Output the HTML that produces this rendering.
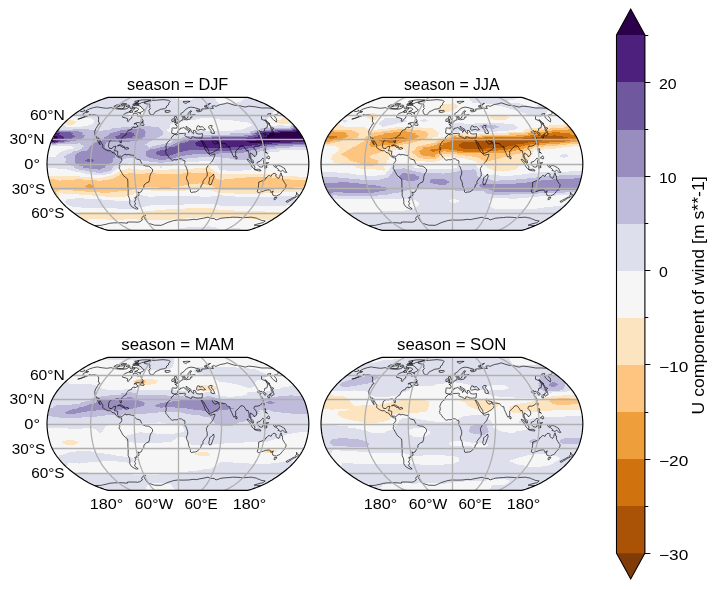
<!DOCTYPE html>
<html><head><meta charset="utf-8"><title>U wind seasons</title>
<style>html,body{margin:0;padding:0;background:#fff}body{width:719px;height:589px;overflow:hidden;position:relative}svg text{font-family:"Liberation Sans",sans-serif}</style></head>
<body>
<svg width="719" height="589" viewBox="0 0 719 589" style="display:block">
<rect width="719" height="589" fill="#fff"/>
<defs>
<clipPath id="cDJF"><path d="M247.61 230.4 L249.52 229.88 L251.69 229.2 L254.06 228.38 L256.6 227.44 L259.28 226.37 L262.03 225.2 L264.76 223.96 L267.34 222.68 L269.74 221.35 L272.02 219.99 L274.21 218.6 L276.35 217.18 L278.44 215.73 L280.49 214.25 L282.49 212.75 L284.44 211.23 L286.33 209.69 L288.16 208.13 L289.91 206.56 L291.56 204.97 L293.11 203.37 L294.56 201.76 L295.97 200.14 L297.32 198.51 L298.6 196.87 L299.77 195.23 L300.85 193.58 L301.85 191.94 L302.78 190.29 L303.62 188.64 L304.37 186.99 L305.03 185.34 L305.6 183.69 L306.08 182.04 L306.53 180.39 L306.96 178.74 L307.37 177.09 L307.72 175.44 L308.01 173.8 L308.26 172.15 L308.46 170.5 L308.61 168.85 L308.73 167.2 L308.81 165.55 L308.86 163.9 L308.81 162.25 L308.73 160.6 L308.61 158.95 L308.46 157.3 L308.26 155.65 L308.01 154 L307.72 152.36 L307.37 150.71 L306.96 149.06 L306.53 147.41 L306.08 145.76 L305.6 144.11 L305.03 142.46 L304.37 140.81 L303.62 139.16 L302.78 137.51 L301.85 135.86 L300.85 134.22 L299.77 132.57 L298.6 130.93 L297.32 129.29 L295.97 127.66 L294.56 126.04 L293.11 124.43 L291.56 122.83 L289.91 121.24 L288.16 119.67 L286.33 118.11 L284.44 116.57 L282.49 115.05 L280.49 113.55 L278.44 112.07 L276.35 110.62 L274.21 109.2 L272.02 107.81 L269.74 106.45 L267.34 105.12 L264.76 103.84 L262.03 102.6 L259.28 101.43 L256.6 100.36 L254.06 99.42 L251.69 98.6 L249.52 97.92 L247.61 97.4 L108.25 97.4 L106.34 97.92 L104.17 98.6 L101.8 99.42 L99.26 100.36 L96.58 101.43 L93.83 102.6 L91.1 103.84 L88.52 105.12 L86.12 106.45 L83.84 107.81 L81.65 109.2 L79.51 110.62 L77.42 112.07 L75.37 113.55 L73.37 115.05 L71.42 116.57 L69.53 118.11 L67.7 119.67 L65.95 121.24 L64.3 122.83 L62.75 124.43 L61.3 126.04 L59.89 127.66 L58.54 129.29 L57.26 130.93 L56.09 132.57 L55.01 134.22 L54.01 135.86 L53.08 137.51 L52.24 139.16 L51.49 140.81 L50.83 142.46 L50.26 144.11 L49.78 145.76 L49.33 147.41 L48.9 149.06 L48.49 150.71 L48.14 152.36 L47.85 154 L47.6 155.65 L47.4 157.3 L47.25 158.95 L47.13 160.6 L47.05 162.25 L47 163.9 L47.05 165.55 L47.13 167.2 L47.25 168.85 L47.4 170.5 L47.6 172.15 L47.85 173.8 L48.14 175.44 L48.49 177.09 L48.9 178.74 L49.33 180.39 L49.78 182.04 L50.26 183.69 L50.83 185.34 L51.49 186.99 L52.24 188.64 L53.08 190.29 L54.01 191.94 L55.01 193.58 L56.09 195.23 L57.26 196.87 L58.54 198.51 L59.89 200.14 L61.3 201.76 L62.75 203.37 L64.3 204.97 L65.95 206.56 L67.7 208.13 L69.53 209.69 L71.42 211.23 L73.37 212.75 L75.37 214.25 L77.42 215.73 L79.51 217.18 L81.65 218.6 L83.84 219.99 L86.12 221.35 L88.52 222.68 L91.1 223.96 L93.83 225.2 L96.58 226.37 L99.26 227.44 L101.8 228.38 L104.17 229.2 L106.34 229.88 L108.25 230.4Z"/></clipPath>
<clipPath id="cJJA"><path d="M521.61 230.4 L523.52 229.88 L525.69 229.2 L528.06 228.38 L530.6 227.44 L533.28 226.37 L536.03 225.2 L538.76 223.96 L541.34 222.68 L543.74 221.35 L546.02 219.99 L548.21 218.6 L550.35 217.18 L552.44 215.73 L554.49 214.25 L556.49 212.75 L558.44 211.23 L560.33 209.69 L562.16 208.13 L563.91 206.56 L565.56 204.97 L567.11 203.37 L568.56 201.76 L569.97 200.14 L571.32 198.51 L572.6 196.87 L573.77 195.23 L574.85 193.58 L575.85 191.94 L576.78 190.29 L577.62 188.64 L578.37 186.99 L579.03 185.34 L579.6 183.69 L580.08 182.04 L580.53 180.39 L580.96 178.74 L581.37 177.09 L581.72 175.44 L582.01 173.8 L582.26 172.15 L582.46 170.5 L582.61 168.85 L582.73 167.2 L582.81 165.55 L582.86 163.9 L582.81 162.25 L582.73 160.6 L582.61 158.95 L582.46 157.3 L582.26 155.65 L582.01 154 L581.72 152.36 L581.37 150.71 L580.96 149.06 L580.53 147.41 L580.08 145.76 L579.6 144.11 L579.03 142.46 L578.37 140.81 L577.62 139.16 L576.78 137.51 L575.85 135.86 L574.85 134.22 L573.77 132.57 L572.6 130.93 L571.32 129.29 L569.97 127.66 L568.56 126.04 L567.11 124.43 L565.56 122.83 L563.91 121.24 L562.16 119.67 L560.33 118.11 L558.44 116.57 L556.49 115.05 L554.49 113.55 L552.44 112.07 L550.35 110.62 L548.21 109.2 L546.02 107.81 L543.74 106.45 L541.34 105.12 L538.76 103.84 L536.03 102.6 L533.28 101.43 L530.6 100.36 L528.06 99.42 L525.69 98.6 L523.52 97.92 L521.61 97.4 L382.25 97.4 L380.34 97.92 L378.17 98.6 L375.8 99.42 L373.26 100.36 L370.58 101.43 L367.83 102.6 L365.1 103.84 L362.52 105.12 L360.12 106.45 L357.84 107.81 L355.65 109.2 L353.51 110.62 L351.42 112.07 L349.37 113.55 L347.37 115.05 L345.42 116.57 L343.53 118.11 L341.7 119.67 L339.95 121.24 L338.3 122.83 L336.75 124.43 L335.3 126.04 L333.89 127.66 L332.54 129.29 L331.26 130.93 L330.09 132.57 L329.01 134.22 L328.01 135.86 L327.08 137.51 L326.24 139.16 L325.49 140.81 L324.83 142.46 L324.26 144.11 L323.78 145.76 L323.33 147.41 L322.9 149.06 L322.49 150.71 L322.14 152.36 L321.85 154 L321.6 155.65 L321.4 157.3 L321.25 158.95 L321.13 160.6 L321.05 162.25 L321 163.9 L321.05 165.55 L321.13 167.2 L321.25 168.85 L321.4 170.5 L321.6 172.15 L321.85 173.8 L322.14 175.44 L322.49 177.09 L322.9 178.74 L323.33 180.39 L323.78 182.04 L324.26 183.69 L324.83 185.34 L325.49 186.99 L326.24 188.64 L327.08 190.29 L328.01 191.94 L329.01 193.58 L330.09 195.23 L331.26 196.87 L332.54 198.51 L333.89 200.14 L335.3 201.76 L336.75 203.37 L338.3 204.97 L339.95 206.56 L341.7 208.13 L343.53 209.69 L345.42 211.23 L347.37 212.75 L349.37 214.25 L351.42 215.73 L353.51 217.18 L355.65 218.6 L357.84 219.99 L360.12 221.35 L362.52 222.68 L365.1 223.96 L367.83 225.2 L370.58 226.37 L373.26 227.44 L375.8 228.38 L378.17 229.2 L380.34 229.88 L382.25 230.4Z"/></clipPath>
<clipPath id="cMAM"><path d="M247.61 490.4 L249.52 489.88 L251.69 489.2 L254.06 488.38 L256.6 487.44 L259.28 486.37 L262.03 485.2 L264.76 483.96 L267.34 482.68 L269.74 481.35 L272.02 479.99 L274.21 478.6 L276.35 477.18 L278.44 475.73 L280.49 474.25 L282.49 472.75 L284.44 471.23 L286.33 469.69 L288.16 468.13 L289.91 466.56 L291.56 464.97 L293.11 463.37 L294.56 461.76 L295.97 460.14 L297.32 458.51 L298.6 456.87 L299.77 455.23 L300.85 453.58 L301.85 451.94 L302.78 450.29 L303.62 448.64 L304.37 446.99 L305.03 445.34 L305.6 443.69 L306.08 442.04 L306.53 440.39 L306.96 438.74 L307.37 437.09 L307.72 435.44 L308.01 433.8 L308.26 432.15 L308.46 430.5 L308.61 428.85 L308.73 427.2 L308.81 425.55 L308.86 423.9 L308.81 422.25 L308.73 420.6 L308.61 418.95 L308.46 417.3 L308.26 415.65 L308.01 414 L307.72 412.36 L307.37 410.71 L306.96 409.06 L306.53 407.41 L306.08 405.76 L305.6 404.11 L305.03 402.46 L304.37 400.81 L303.62 399.16 L302.78 397.51 L301.85 395.86 L300.85 394.22 L299.77 392.57 L298.6 390.93 L297.32 389.29 L295.97 387.66 L294.56 386.04 L293.11 384.43 L291.56 382.83 L289.91 381.24 L288.16 379.67 L286.33 378.11 L284.44 376.57 L282.49 375.05 L280.49 373.55 L278.44 372.07 L276.35 370.62 L274.21 369.2 L272.02 367.81 L269.74 366.45 L267.34 365.12 L264.76 363.84 L262.03 362.6 L259.28 361.43 L256.6 360.36 L254.06 359.42 L251.69 358.6 L249.52 357.92 L247.61 357.4 L108.25 357.4 L106.34 357.92 L104.17 358.6 L101.8 359.42 L99.26 360.36 L96.58 361.43 L93.83 362.6 L91.1 363.84 L88.52 365.12 L86.12 366.45 L83.84 367.81 L81.65 369.2 L79.51 370.62 L77.42 372.07 L75.37 373.55 L73.37 375.05 L71.42 376.57 L69.53 378.11 L67.7 379.67 L65.95 381.24 L64.3 382.83 L62.75 384.43 L61.3 386.04 L59.89 387.66 L58.54 389.29 L57.26 390.93 L56.09 392.57 L55.01 394.22 L54.01 395.86 L53.08 397.51 L52.24 399.16 L51.49 400.81 L50.83 402.46 L50.26 404.11 L49.78 405.76 L49.33 407.41 L48.9 409.06 L48.49 410.71 L48.14 412.36 L47.85 414 L47.6 415.65 L47.4 417.3 L47.25 418.95 L47.13 420.6 L47.05 422.25 L47 423.9 L47.05 425.55 L47.13 427.2 L47.25 428.85 L47.4 430.5 L47.6 432.15 L47.85 433.8 L48.14 435.44 L48.49 437.09 L48.9 438.74 L49.33 440.39 L49.78 442.04 L50.26 443.69 L50.83 445.34 L51.49 446.99 L52.24 448.64 L53.08 450.29 L54.01 451.94 L55.01 453.58 L56.09 455.23 L57.26 456.87 L58.54 458.51 L59.89 460.14 L61.3 461.76 L62.75 463.37 L64.3 464.97 L65.95 466.56 L67.7 468.13 L69.53 469.69 L71.42 471.23 L73.37 472.75 L75.37 474.25 L77.42 475.73 L79.51 477.18 L81.65 478.6 L83.84 479.99 L86.12 481.35 L88.52 482.68 L91.1 483.96 L93.83 485.2 L96.58 486.37 L99.26 487.44 L101.8 488.38 L104.17 489.2 L106.34 489.88 L108.25 490.4Z"/></clipPath>
<clipPath id="cSON"><path d="M521.61 490.4 L523.52 489.88 L525.69 489.2 L528.06 488.38 L530.6 487.44 L533.28 486.37 L536.03 485.2 L538.76 483.96 L541.34 482.68 L543.74 481.35 L546.02 479.99 L548.21 478.6 L550.35 477.18 L552.44 475.73 L554.49 474.25 L556.49 472.75 L558.44 471.23 L560.33 469.69 L562.16 468.13 L563.91 466.56 L565.56 464.97 L567.11 463.37 L568.56 461.76 L569.97 460.14 L571.32 458.51 L572.6 456.87 L573.77 455.23 L574.85 453.58 L575.85 451.94 L576.78 450.29 L577.62 448.64 L578.37 446.99 L579.03 445.34 L579.6 443.69 L580.08 442.04 L580.53 440.39 L580.96 438.74 L581.37 437.09 L581.72 435.44 L582.01 433.8 L582.26 432.15 L582.46 430.5 L582.61 428.85 L582.73 427.2 L582.81 425.55 L582.86 423.9 L582.81 422.25 L582.73 420.6 L582.61 418.95 L582.46 417.3 L582.26 415.65 L582.01 414 L581.72 412.36 L581.37 410.71 L580.96 409.06 L580.53 407.41 L580.08 405.76 L579.6 404.11 L579.03 402.46 L578.37 400.81 L577.62 399.16 L576.78 397.51 L575.85 395.86 L574.85 394.22 L573.77 392.57 L572.6 390.93 L571.32 389.29 L569.97 387.66 L568.56 386.04 L567.11 384.43 L565.56 382.83 L563.91 381.24 L562.16 379.67 L560.33 378.11 L558.44 376.57 L556.49 375.05 L554.49 373.55 L552.44 372.07 L550.35 370.62 L548.21 369.2 L546.02 367.81 L543.74 366.45 L541.34 365.12 L538.76 363.84 L536.03 362.6 L533.28 361.43 L530.6 360.36 L528.06 359.42 L525.69 358.6 L523.52 357.92 L521.61 357.4 L382.25 357.4 L380.34 357.92 L378.17 358.6 L375.8 359.42 L373.26 360.36 L370.58 361.43 L367.83 362.6 L365.1 363.84 L362.52 365.12 L360.12 366.45 L357.84 367.81 L355.65 369.2 L353.51 370.62 L351.42 372.07 L349.37 373.55 L347.37 375.05 L345.42 376.57 L343.53 378.11 L341.7 379.67 L339.95 381.24 L338.3 382.83 L336.75 384.43 L335.3 386.04 L333.89 387.66 L332.54 389.29 L331.26 390.93 L330.09 392.57 L329.01 394.22 L328.01 395.86 L327.08 397.51 L326.24 399.16 L325.49 400.81 L324.83 402.46 L324.26 404.11 L323.78 405.76 L323.33 407.41 L322.9 409.06 L322.49 410.71 L322.14 412.36 L321.85 414 L321.6 415.65 L321.4 417.3 L321.25 418.95 L321.13 420.6 L321.05 422.25 L321 423.9 L321.05 425.55 L321.13 427.2 L321.25 428.85 L321.4 430.5 L321.6 432.15 L321.85 433.8 L322.14 435.44 L322.49 437.09 L322.9 438.74 L323.33 440.39 L323.78 442.04 L324.26 443.69 L324.83 445.34 L325.49 446.99 L326.24 448.64 L327.08 450.29 L328.01 451.94 L329.01 453.58 L330.09 455.23 L331.26 456.87 L332.54 458.51 L333.89 460.14 L335.3 461.76 L336.75 463.37 L338.3 464.97 L339.95 466.56 L341.7 468.13 L343.53 469.69 L345.42 471.23 L347.37 472.75 L349.37 474.25 L351.42 475.73 L353.51 477.18 L355.65 478.6 L357.84 479.99 L360.12 481.35 L362.52 482.68 L365.1 483.96 L367.83 485.2 L370.58 486.37 L373.26 487.44 L375.8 488.38 L378.17 489.2 L380.34 489.88 L382.25 490.4Z"/></clipPath>
</defs>
<g clip-path="url(#cDJF)">
<g fill="none" stroke-width="1" shape-rendering="crispEdges">
<path stroke="#ef9e3c" d="M88 184.5h3M86 185.5h8M85 186.5h9M87 187.5h6"/>
<path stroke="#fdc57f" d="M189 172.5h2M206 172.5h5M128 173.5h7M145 173.5h11M183 173.5h29M120 174.5h94M119 175.5h95M117 176.5h98M115 177.5h100M246 177.5h26M113 178.5h103M234 178.5h47M50 179.5h5M75 179.5h8M109 179.5h110M224 179.5h66M50 180.5h9M61 180.5h36M102 180.5h207M50 181.5h259M51 182.5h258M51 183.5h148M200 183.5h108M51 184.5h37M91 184.5h97M206 184.5h102M52 185.5h34M94 185.5h90M212 185.5h96M52 186.5h33M94 186.5h85M213 186.5h94M52 187.5h35M93 187.5h44M159 187.5h12M215 187.5h79M53 188.5h80M218 188.5h68M53 189.5h79M220 189.5h54M54 190.5h5M73 190.5h54M54 191.5h3M85 191.5h33M55 192.5h1M100 192.5h10M56 193.5h1"/>
<path stroke="#fde4c0" d="M283 116.5h4M282 117.5h6M282 118.5h7M281 119.5h9M67 120.5h6M277 120.5h15M66 121.5h10M276 121.5h17M65 122.5h11M275 122.5h19M64 123.5h11M279 123.5h11M67 124.5h6M206 166.5h4M206 167.5h4M128 168.5h3M194 168.5h17M124 169.5h14M145 169.5h9M169 169.5h44M120 170.5h94M119 171.5h96M118 172.5h71M191 172.5h15M211 172.5h6M116 173.5h12M135 173.5h10M156 173.5h27M212 173.5h7M114 174.5h6M214 174.5h63M111 175.5h8M214 175.5h69M49 176.5h31M107 176.5h10M215 176.5h82M49 177.5h42M103 177.5h12M215 177.5h31M272 177.5h38M50 178.5h63M216 178.5h18M281 178.5h29M55 179.5h20M83 179.5h26M219 179.5h5M290 179.5h20M59 180.5h2M97 180.5h5M199 183.5h1M188 184.5h18M184 185.5h28M179 186.5h34M137 187.5h22M171 187.5h44M294 187.5h13M133 188.5h85M286 188.5h20M132 189.5h67M201 189.5h19M274 189.5h32M59 190.5h14M127 190.5h13M151 190.5h35M211 190.5h94M57 191.5h28M118 191.5h19M214 191.5h85M56 192.5h44M110 192.5h26M217 192.5h63M57 193.5h2M63 193.5h71M234 193.5h30M56 194.5h4M79 194.5h54M57 195.5h2M92 195.5h38M58 196.5h1M105 196.5h21M185 208.5h28M166 209.5h51M155 210.5h79M145 211.5h120M79 212.5h36M137 212.5h144M78 213.5h206M77 214.5h205M78 215.5h203M79 216.5h201M80 217.5h119M214 217.5h64M82 218.5h103M248 218.5h29M84 219.5h5M106 219.5h18M137 219.5h35M265 219.5h10M85 220.5h2"/>
<path stroke="#f6f6f7" d="M175 96.5h20M215 96.5h30M175 97.5h20M216 97.5h29M176 98.5h18M215 98.5h29M178 99.5h14M216 99.5h28M216 100.5h26M217 101.5h24M218 102.5h19M219 103.5h7M136 107.5h5M134 108.5h9M132 109.5h12M131 110.5h13M274 110.5h4M131 111.5h13M274 111.5h6M130 112.5h14M273 112.5h8M129 113.5h14M273 113.5h10M75 114.5h1M128 114.5h15M273 114.5h11M73 115.5h4M126 115.5h15M273 115.5h12M72 116.5h8M129 116.5h8M270 116.5h13M71 117.5h9M130 117.5h1M269 117.5h13M70 118.5h21M200 118.5h15M268 118.5h14M68 119.5h25M196 119.5h24M267 119.5h14M73 120.5h21M188 120.5h45M267 120.5h10M76 121.5h18M183 121.5h57M266 121.5h10M76 122.5h18M176 122.5h72M266 122.5h9M75 123.5h18M173 123.5h77M267 123.5h12M290 123.5h5M63 124.5h4M73 124.5h18M171 124.5h81M266 124.5h25M65 125.5h23M170 125.5h82M268 125.5h9M284 125.5h6M66 126.5h16M170 126.5h80M269 126.5h2M170 127.5h77M169 128.5h76M167 129.5h75M167 130.5h67M168 131.5h27M170 132.5h15M50 146.5h22M50 147.5h24M50 148.5h23M49 149.5h19M49 150.5h16M280 150.5h30M49 151.5h13M279 151.5h31M49 152.5h11M269 152.5h41M49 153.5h9M269 153.5h41M48 154.5h10M268 154.5h42M48 155.5h8M268 155.5h42M48 156.5h8M267 156.5h43M266 157.5h44M266 158.5h44M264 159.5h46M263 160.5h47M199 161.5h12M262 161.5h48M181 162.5h32M260 162.5h50M128 163.5h4M179 163.5h36M258 163.5h52M125 164.5h11M176 164.5h41M256 164.5h54M121 165.5h18M173 165.5h44M255 165.5h55M119 166.5h41M162 166.5h44M210 166.5h8M254 166.5h56M119 167.5h41M162 167.5h44M210 167.5h8M254 167.5h56M48 168.5h9M117 168.5h11M131 168.5h63M211 168.5h8M252 168.5h58M48 169.5h19M116 169.5h8M138 169.5h7M154 169.5h15M213 169.5h6M251 169.5h59M48 170.5h23M115 170.5h5M214 170.5h12M243 170.5h67M48 171.5h27M113 171.5h6M215 171.5h95M48 172.5h33M112 172.5h6M217 172.5h93M48 173.5h37M111 173.5h5M219 173.5h91M49 174.5h43M106 174.5h8M277 174.5h33M49 175.5h62M283 175.5h27M80 176.5h27M297 176.5h13M91 177.5h12M199 189.5h2M140 190.5h11M186 190.5h25M137 191.5h77M299 191.5h6M136 192.5h81M280 192.5h24M59 193.5h4M134 193.5h100M264 193.5h40M60 194.5h19M133 194.5h170M59 195.5h33M130 195.5h9M143 195.5h75M223 195.5h79M59 196.5h46M126 196.5h12M148 196.5h7M200 196.5h11M235 196.5h41M292 196.5h10M58 197.5h78M294 197.5h7M59 198.5h16M84 198.5h51M295 198.5h5M60 199.5h7M102 199.5h31M61 200.5h5M114 200.5h15M62 201.5h3M63 202.5h2M63 203.5h3M64 204.5h3M184 204.5h30M290 204.5h5M65 205.5h4M150 205.5h70M286 205.5h8M66 206.5h6M145 206.5h147M68 207.5h13M139 207.5h152M69 208.5h48M133 208.5h52M213 208.5h77M70 209.5h96M217 209.5h72M71 210.5h84M234 210.5h54M72 211.5h73M265 211.5h21M74 212.5h5M115 212.5h22M281 212.5h4M75 213.5h3M76 214.5h1M199 217.5h15M185 218.5h63M89 219.5h17M124 219.5h13M172 219.5h93M87 220.5h186M87 221.5h185M89 222.5h181M91 223.5h177M93 224.5h173M95 225.5h168M97 226.5h110M210 226.5h51M100 227.5h86M216 227.5h42M103 228.5h77M218 228.5h13M240 228.5h15M105 229.5h73M241 229.5h11M109 230.5h69M242 230.5h7M109 231.5h69M242 231.5h7"/>
<path stroke="#dddfed" d="M109 96.5h66M195 96.5h20M245 96.5h4M108 97.5h67M195 97.5h21M245 97.5h5M105 98.5h71M194 98.5h21M244 98.5h9M102 99.5h76M192 99.5h24M244 99.5h12M99 100.5h117M242 100.5h17M97 101.5h120M241 101.5h20M94 102.5h124M237 102.5h27M92 103.5h127M226 103.5h40M90 104.5h178M88 105.5h182M87 106.5h185M85 107.5h51M141 107.5h133M83 108.5h51M143 108.5h132M82 109.5h50M144 109.5h133M80 110.5h51M144 110.5h130M79 111.5h52M144 111.5h130M77 112.5h53M144 112.5h129M76 113.5h53M143 113.5h130M76 114.5h52M143 114.5h130M77 115.5h49M141 115.5h132M80 116.5h49M137 116.5h133M80 117.5h50M131 117.5h138M91 118.5h109M215 118.5h53M93 119.5h103M220 119.5h47M94 120.5h94M233 120.5h34M94 121.5h89M240 121.5h26M94 122.5h82M248 122.5h18M93 123.5h80M250 123.5h17M91 124.5h80M252 124.5h14M291 124.5h5M62 125.5h3M88 125.5h82M252 125.5h16M277 125.5h7M290 125.5h2M62 126.5h4M82 126.5h49M151 126.5h19M250 126.5h19M271 126.5h20M61 127.5h60M159 127.5h11M247 127.5h43M60 128.5h52M160 128.5h9M245 128.5h16M60 129.5h13M89 129.5h21M161 129.5h6M242 129.5h18M98 130.5h5M162 130.5h5M234 130.5h20M163 131.5h5M195 131.5h55M163 132.5h7M185 132.5h65M163 133.5h67M163 134.5h67M162 135.5h41M160 136.5h28M158 137.5h24M156 138.5h25M154 139.5h22M152 140.5h21M150 141.5h22M148 142.5h23M78 143.5h2M147 143.5h18M51 144.5h1M57 144.5h24M145 144.5h16M51 145.5h32M147 145.5h9M72 146.5h12M148 146.5h4M74 147.5h8M149 147.5h1M290 147.5h19M73 148.5h9M277 148.5h33M68 149.5h12M269 149.5h41M65 150.5h13M264 150.5h16M62 151.5h11M260 151.5h19M60 152.5h12M258 152.5h11M58 153.5h12M257 153.5h12M58 154.5h9M256 154.5h12M56 155.5h10M255 155.5h13M56 156.5h8M253 156.5h14M48 157.5h16M198 157.5h24M252 157.5h14M48 158.5h18M126 158.5h12M187 158.5h43M251 158.5h15M48 159.5h18M123 159.5h17M181 159.5h53M247 159.5h17M48 160.5h18M121 160.5h22M177 160.5h86M48 161.5h17M121 161.5h28M173 161.5h26M211 161.5h51M48 162.5h17M120 162.5h38M164 162.5h17M213 162.5h47M48 163.5h19M119 163.5h9M132 163.5h47M215 163.5h43M48 164.5h20M116 164.5h9M136 164.5h40M217 164.5h39M48 165.5h23M115 165.5h6M139 165.5h34M217 165.5h38M48 166.5h26M113 166.5h6M160 166.5h2M218 166.5h36M48 167.5h26M113 167.5h6M160 167.5h2M218 167.5h36M57 168.5h19M112 168.5h5M219 168.5h33M67 169.5h12M112 169.5h4M219 169.5h32M71 170.5h14M111 170.5h4M226 170.5h17M75 171.5h14M108 171.5h5M81 172.5h15M103 172.5h9M85 173.5h26M92 174.5h14M139 195.5h4M218 195.5h5M138 196.5h10M155 196.5h45M211 196.5h24M276 196.5h16M136 197.5h158M75 198.5h9M135 198.5h160M67 199.5h35M133 199.5h166M66 200.5h48M129 200.5h169M65 201.5h232M65 202.5h231M66 203.5h230M67 204.5h117M214 204.5h76M69 205.5h81M220 205.5h66M72 206.5h73M81 207.5h58M117 208.5h16M207 226.5h3M186 227.5h30M180 228.5h38M231 228.5h9M178 229.5h63M178 230.5h64M178 231.5h64"/>
<path stroke="#bfbbda" d="M292 125.5h5M131 126.5h20M291 126.5h2M121 127.5h38M290 127.5h3M112 128.5h26M141 128.5h19M261 128.5h30M59 129.5h1M73 129.5h16M110 129.5h17M144 129.5h17M260 129.5h12M59 130.5h39M103 130.5h17M145 130.5h17M254 130.5h9M79 131.5h38M145 131.5h18M250 131.5h7M82 132.5h31M146 132.5h17M250 132.5h5M83 133.5h27M145 133.5h18M230 133.5h21M82 134.5h27M145 134.5h18M230 134.5h22M85 135.5h23M145 135.5h17M203 135.5h41M84 136.5h22M145 136.5h15M188 136.5h23M84 137.5h20M143 137.5h15M182 137.5h12M82 138.5h22M142 138.5h14M181 138.5h7M79 139.5h25M139 139.5h15M176 139.5h9M76 140.5h26M138 140.5h14M173 140.5h10M70 141.5h29M130 141.5h20M172 141.5h8M65 142.5h30M106 142.5h13M122 142.5h26M171 142.5h6M51 143.5h1M56 143.5h22M80 143.5h14M106 143.5h41M165 143.5h10M52 144.5h5M81 144.5h11M105 144.5h40M161 144.5h12M83 145.5h8M105 145.5h42M156 145.5h15M293 145.5h16M84 146.5h6M105 146.5h43M152 146.5h12M275 146.5h34M82 147.5h7M105 147.5h44M150 147.5h10M267 147.5h23M82 148.5h7M106 148.5h50M260 148.5h17M80 149.5h8M109 149.5h41M257 149.5h12M78 150.5h9M111 150.5h37M251 150.5h13M73 151.5h8M114 151.5h32M249 151.5h11M72 152.5h7M115 152.5h31M244 152.5h14M70 153.5h7M115 153.5h31M219 153.5h38M67 154.5h9M115 154.5h31M192 154.5h64M66 155.5h9M115 155.5h31M185 155.5h70M64 156.5h11M115 156.5h32M180 156.5h73M64 157.5h11M115 157.5h34M176 157.5h22M222 157.5h30M66 158.5h9M113 158.5h13M138 158.5h15M173 158.5h14M230 158.5h21M66 159.5h9M113 159.5h10M140 159.5h18M166 159.5h15M234 159.5h13M66 160.5h9M113 160.5h8M143 160.5h34M65 161.5h10M113 161.5h8M149 161.5h24M65 162.5h10M112 162.5h8M158 162.5h6M67 163.5h9M110 163.5h9M68 164.5h10M109 164.5h7M71 165.5h8M106 165.5h9M74 166.5h9M105 166.5h8M74 167.5h9M105 167.5h8M76 168.5h13M102 168.5h10M79 169.5h19M100 169.5h12M85 170.5h26M89 171.5h19M96 172.5h7"/>
<path stroke="#988dbe" d="M293 126.5h5M293 127.5h1M138 128.5h3M291 128.5h3M127 129.5h17M272 129.5h20M58 130.5h1M120 130.5h25M263 130.5h12M59 131.5h20M117 131.5h28M257 131.5h7M71 132.5h11M113 132.5h15M132 132.5h14M255 132.5h3M73 133.5h10M110 133.5h10M134 133.5h11M251 133.5h4M72 134.5h10M109 134.5h11M134 134.5h11M252 134.5h4M74 135.5h11M108 135.5h10M135 135.5h10M244 135.5h9M75 136.5h9M106 136.5h9M133 136.5h12M211 136.5h37M73 137.5h11M104 137.5h12M132 137.5h11M194 137.5h18M72 138.5h10M104 138.5h13M126 138.5h16M188 138.5h11M70 139.5h9M104 139.5h35M185 139.5h7M67 140.5h9M102 140.5h36M183 140.5h6M64 141.5h6M99 141.5h31M180 141.5h8M58 142.5h7M95 142.5h11M119 142.5h3M177 142.5h8M52 143.5h4M94 143.5h12M175 143.5h5M92 144.5h13M173 144.5h6M278 144.5h31M91 145.5h14M171 145.5h6M267 145.5h26M90 146.5h15M164 146.5h11M260 146.5h15M89 147.5h16M160 147.5h9M254 147.5h13M89 148.5h17M156 148.5h12M248 148.5h12M88 149.5h21M150 149.5h15M242 149.5h15M87 150.5h24M148 150.5h12M188 150.5h18M230 150.5h21M81 151.5h33M146 151.5h11M183 151.5h66M79 152.5h36M146 152.5h10M179 152.5h65M77 153.5h38M146 153.5h10M176 153.5h43M76 154.5h39M146 154.5h11M173 154.5h19M75 155.5h40M146 155.5h14M170 155.5h15M75 156.5h40M147 156.5h33M75 157.5h40M149 157.5h27M75 158.5h38M153 158.5h20M75 159.5h12M93 159.5h20M158 159.5h8M75 160.5h10M94 160.5h19M75 161.5h12M93 161.5h20M75 162.5h37M76 163.5h34M78 164.5h31M79 165.5h27M83 166.5h22M83 167.5h22M89 168.5h13M98 169.5h2"/>
<path stroke="#70589f" d="M294 127.5h4M294 128.5h5M292 129.5h4M275 130.5h18M57 131.5h2M264 131.5h14M57 132.5h14M128 132.5h4M258 132.5h7M60 133.5h13M120 133.5h14M255 133.5h5M59 134.5h13M120 134.5h14M256 134.5h5M61 135.5h13M118 135.5h17M253 135.5h5M63 136.5h12M115 136.5h18M248 136.5h10M64 137.5h9M116 137.5h16M212 137.5h42M64 138.5h8M117 138.5h9M199 138.5h20M222 138.5h24M62 139.5h8M192 139.5h22M60 140.5h7M189 140.5h11M58 141.5h6M188 141.5h10M51 142.5h3M55 142.5h3M185 142.5h11M292 142.5h16M180 143.5h15M272 143.5h36M179 144.5h17M258 144.5h20M177 145.5h19M252 145.5h15M175 146.5h24M243 146.5h17M169 147.5h36M230 147.5h24M168 148.5h80M165 149.5h77M160 150.5h28M206 150.5h24M157 151.5h26M156 152.5h23M156 153.5h20M157 154.5h16M160 155.5h10M87 159.5h6M85 160.5h9M87 161.5h6"/>
<path stroke="#4d207d" d="M296 129.5h4M293 130.5h8M278 131.5h18M265 132.5h15M56 133.5h4M260 133.5h9M55 134.5h4M261 134.5h9M55 135.5h6M258 135.5h9M57 136.5h6M258 136.5h9M58 137.5h6M254 137.5h10M57 138.5h7M219 138.5h3M246 138.5h17M57 139.5h5M214 139.5h48M56 140.5h4M200 140.5h56M54 141.5h4M198 141.5h49M280 141.5h27M54 142.5h1M196 142.5h53M265 142.5h27M195 143.5h77M196 144.5h62M196 145.5h56M199 146.5h44M205 147.5h25"/>
<path stroke="#2d004b" d="M296 131.5h6M280 132.5h22M269 133.5h34M270 134.5h34M267 135.5h37M54 136.5h3M267 136.5h38M54 137.5h4M264 137.5h42M53 138.5h4M263 138.5h43M53 139.5h4M262 139.5h45M52 140.5h4M256 140.5h51M52 141.5h2M247 141.5h33M249 142.5h16"/>
</g>
<path fill="none" stroke="#000" stroke-width="0.65" stroke-linejoin="round" d="M85.58 110.98 L89.64 108.85 L93.55 107.6 L97.4 106.92 L99.99 107.46 L103.97 108.01 L106.78 108.29 L111.18 107.67 L112.73 108.15 L116.76 108.85 L120.16 109.2 L124.44 109.2 L127.16 108.5 L129.98 106.45 L130.33 108.5 L131.12 108.85 L133.24 108.15 L134.92 108.01 L133.85 109.91 L131.16 110.26 L128.79 112.07 L124.94 113.55 L122.52 115.81 L122.7 117.34 L125.16 117.72 L127.82 118.89 L127.11 120.85 L128.28 121.64 L129.75 119.28 L131.56 118.11 L131.98 116.19 L133.12 114.67 L133.71 113.18 L136.18 113.33 L137.65 114.3 L137.1 115.96 L139.16 115.96 L140.57 114.82 L141.08 116.95 L141.58 118.65 L142.88 120.06 L143.22 121.24 L140.76 122.59 L136.32 122.67 L133.92 124.03 L136.61 123.63 L136.53 124.83 L138.4 126.04 L136.46 127.1 L134.6 127.83 L134.25 126.85 L131.89 128.07 L131.45 129.46 L128.48 130.44 L126.83 132.57 L125.82 135.04 L123.85 136.03 L121.65 137.92 L121.44 141.64 L120.98 143.12 L120.1 142.05 L119.93 139.99 L118.92 139.16 L116.54 138.91 L114.93 139.82 L112.19 139.57 L109.49 141.22 L108.64 144.11 L108.53 146.58 L109.56 148.4 L112.05 148.56 L113.36 146.75 L115.93 146.17 L115.26 148.64 L114.29 150.71 L116.07 150.87 L117.82 151.37 L117.53 154.83 L118.51 156.48 L120.34 156.07 L121.75 156.89 L123.3 155.08 L125.9 154 L126.2 154.99 L128.76 154.42 L131.61 155.24 L133.42 155.24 L134.44 156.89 L136.55 158.95 L140.16 159.94 L141.57 163.08 L142.66 164.72 L145.58 165.96 L148.85 166.21 L151.05 167.86 L152.53 169.26 L152.57 171.32 L150.83 173.8 L149.85 176.27 L149.64 179.16 L148.74 182.04 L146.32 183.03 L144 184.93 L143.77 187.4 L142.43 189.46 L141.1 191.94 L139.16 192.6 L137.79 191.94 L139.09 194 L138.76 195.64 L136.16 196.05 L136.38 197.69 L134.58 197.69 L135.87 199.16 L135.23 200.95 L134.25 201.92 L135.77 203.21 L134.59 205.21 L135.41 206.8 L138.2 208.76 L136.43 209.15 L134.14 208.13 L131.58 206.56 L129.78 203.77 L129.84 201.35 L129.51 198.51 L128.16 195.64 L128.18 193.17 L128.17 189.46 L127.92 186.16 L127.88 182.04 L127.56 178.99 L125.85 177.67 L123.12 175.28 L121.45 172.15 L120.03 169.67 L118.95 168.02 L119.78 166.54 L119.17 164.72 L119.75 163.24 L120.63 162.66 L121.83 160.6 L121.49 157.88 L119.89 157.88 L118.83 157.3 L117.41 156.64 L115.91 155.24 L114.76 153.18 L111.95 152.36 L110.36 150.54 L108.16 150.87 L105.45 149.63 L102.56 147.41 L102.89 145.35 L101.54 143.04 L100.26 140.98 L99.29 138.75 L98.25 137.68 L98.78 139.99 L99.55 142.46 L100.14 144.77 L98.75 142.87 L97.5 140.81 L97.06 138.75 L96.82 137.02 L95.14 135.45 L94.91 133.56 L94.73 131.34 L95.71 128.89 L97.68 125.88 L98.35 124.11 L99.48 124.03 L100.01 123.23 L98.33 122.03 L98.64 119.28 L98.58 116.95 L97.45 115.96 L96.45 115.2 L93.94 114.82 L91.67 115.05 L89.34 115.58 L90.19 114.3 L87.38 116.04 L83.35 117.57 L79.23 118.89 L77.77 119.12 L81.27 118.11 L85.15 116.19 L83.94 115.96 L83.83 115.05 L82.81 114.45 L83.54 113.4 L85.32 112.66 L87.75 112.29 L88.68 111.56 L85.91 111.56 L85.58 110.98M143.93 102.47 L146.94 101.71 L150.61 100.62 L156.19 100.21 L163.01 99.64 L168.35 100.26 L170.25 101.43 L168.67 103.21 L168.56 104.8 L166.53 106.11 L166.46 107.67 L164.1 108.85 L160.81 109.2 L157.66 110.77 L155.43 111.71 L153 114.9 L151.57 114.82 L150.08 114.15 L149.31 112.44 L148.84 110.26 L150.43 108.5 L149.61 107.46 L149.99 105.78 L149.5 104.15 L146.09 103.84 L144.21 103.21 L143.93 102.47M180.79 113.92 L180.78 113.55 L183.76 111.71 L185.46 109.55 L188.12 107.81 L191.1 107.12 L194.08 107.6 L199.91 109.34 L200.03 110.48 L196.38 110.12 L197.41 111.85 L200.1 111.56 L201.99 110.62 L201.65 108.99 L206.12 108.85 L209.74 108.15 L213.36 108.5 L211.89 106.11 L214.69 105.78 L215.93 106.45 L217.94 105.45 L220.53 104.48 L225.06 103.71 L227 102.78 L234.06 105.12 L239.86 105.78 L245.07 107.12 L248.88 106.11 L254.92 106.79 L261.86 108.01 L267 107.94 L271.74 108.29 L273.34 108.64M83.8 109.55 L84.98 110.62 L82.11 111.71 L79.81 110.98M277.36 111.71 L278.56 113.18 L276.79 114.67 L273.96 115.2 L274.82 116.95 L276.21 118.5 L276.7 120.45 L276.34 122.03 L273.46 119.67 L271.07 117.34 L270.43 114.67 L270.8 113.55 L267.82 113.92 L267.35 115.81 L261.55 115.58 L261.49 119.28 L265.62 120.85 L267.54 124.03 L267.11 127.66 L264.66 128.48 L264.52 130.52 L263.62 131.34 L266.36 134.22 L264.85 135.45 L263.41 132.98 L261.94 131.34 L259.78 131.75 L259.5 130.52 L257.43 131.75 L258.73 133.15 L261.22 133.39 L259.87 135.04 L262.35 137.92 L263.26 139.57 L262.41 142.87 L260.4 145.1 L257.74 146.17 L255.96 146.17 L254.89 146.17 L253.79 148.23 L256.22 151.12 L256.92 154 L255.1 156.48 L254.02 156.48 L253.7 155.24 L252.01 154 L250.46 152.93 L249.97 155.65 L251.09 158.54 L253.14 160.6 L253.56 162.75 L251.72 161.59 L250.75 158.95 L249.21 157.3 L249.12 154 L247.99 150.29 L246.62 150.87 L245.4 148.64 L243.49 146.17 L242.36 145.76 L240.6 145.92 L239.89 147 L238.13 148.89 L235.64 151.12 L235.75 154 L235.48 155.41 L234.13 157.3 L233.1 155.65 L231.83 152.77 L230.3 149.47 L229.78 146.58 L228.23 146.75 L227.03 145.51 L225.61 143.7 L221.79 143.12 L218.58 142.87 L217.73 141.64 L214.48 140.98 L213.19 139.16 L211.8 139.16 L212.21 140.81 L213.67 143.28 L214.8 143.94 L216.23 144.11 L217.61 142.46 L218.19 143.86 L220.47 145.35 L219.4 147.82 L217.42 149.88 L215.33 150.87 L212.9 152.36 L210.42 153.35 L209.2 153.43 L208.61 150.29 L206.89 147.82 L205.7 145.76 L204.09 142.87 L202.52 140.81 L202.27 139.57 L201.46 140.81 L200.62 139.16 L201.71 141.22 L203.11 144.11 L204.32 146.58 L204.63 148.4 L206.21 151.12 L207.88 153.02 L209.16 154.17 L209.39 154.58 L210.5 155.24 L212.65 154.66 L214.94 154.17 L214.84 155.32 L213.5 158.54 L212.8 160.19 L211.38 162.25 L209.21 164.31 L208.11 165.55 L206.4 168.44 L206.57 170.5 L207.24 172.72 L207.17 176.27 L205.2 178.17 L202.87 181.63 L203.11 183.69 L201.26 184.93 L200.94 187.4 L199.58 188.64 L197.64 190.95 L195.62 191.94 L193.06 192.1 L191.66 192.6 L190.53 191.94 L190.41 190.29 L189.49 187.65 L188.52 185.34 L188.24 182.45 L186.53 178.74 L186.42 177.09 L187.68 174.21 L187.71 171.73 L186.79 168.85 L186.29 167.2 L184.48 164.72 L184.84 163.08 L184.98 161.01 L184.11 160.19 L183.02 160.35 L181.56 158.95 L179.74 158.71 L176.84 159.78 L175.75 159.78 L174.52 159.61 L172.48 160.27 L171.39 159.78 L169.95 158.38 L168.51 156.89 L168.15 155.82 L167.08 154.83 L165.87 153.59 L165.89 152.36 L165.32 151.78 L166.07 150.29 L166.26 148.23 L165.81 146.58 L166.58 144.11 L167.7 142.21 L168.79 140.98 L170.94 139.57 L171.18 138.34 L171.7 137.1 L173.11 136.03 L173.82 134.63 L174.31 134.22 L176.56 134.87 L178.61 133.8 L179.97 133.47 L183.37 133.39 L184.72 133.23 L185.42 133.56 L184.94 135.62 L185.66 136.52 L188.46 137.26 L191.18 138.91 L191.83 137.92 L191.76 136.85 L193.49 136.85 L195.29 137.76 L198.11 138.34 L199.47 137.92 L200.53 138.17 L201.92 138.09 L202.48 135.04 L202.43 133.56 L200.1 134.05 L198.39 133.97 L196.64 133.56 L195.83 132.16 L195.69 130.93 L193.95 130.27 L193.19 130.68 L193.84 132.57 L193.46 133.72 L192.52 132.98 L190.97 130.52 L190.8 129.29 L188.45 128.07 L186.9 126.45 L185.93 126.61 L186.13 127.66 L186.87 128.07 L187.33 129.05 L188.55 129.46 L190.32 130.77 L189.3 130.6 L189.12 131.91 L188.56 132.57 L188.68 131.34 L188.32 130.93 L187.41 130.27 L186.24 129.7 L185.21 128.89 L184.63 127.83 L183.69 127.34 L182.85 127.83 L181.22 128.23 L180.04 128.32 L180.05 129.46 L178.46 130.11 L177.73 131.34 L177.59 132.32 L176.57 133.56 L174.31 134.13 L173.64 133.56 L171.95 133.39 L171.59 132 L172.08 129.7 L171.86 128.48 L172.67 127.91 L174.97 128.15 L176.75 128.15 L177.15 126.45 L176.32 124.99 L174.93 124.27 L176.97 123.87 L176.98 123.07 L178.06 123.23 L178.94 122.43 L180.12 121.72 L180.71 120.61 L182.11 120.06 L183.14 119.82 L182.89 118.5 L182.83 117.34 L184.16 116.8 L184.13 118.11 L184.53 119.51 L185.27 119.51 L186.63 119.75 L189.19 119.12 L190.02 119.35 L190.63 118.5 L190.47 117.34 L192.22 117.11 L191.77 116.19 L191.95 115.5 L194.26 115.35 L195.36 115.05 L194.39 114.6 L191.3 115.12 L190.35 114.6 L189.95 112.81 L191.74 111.35 L191.08 110.77 L190.02 110.98 L189.73 111.85 L187.9 113.55 L187.87 114.67 L188.9 115.43 L187.74 116.95 L187.55 117.95 L186.52 118.5 L185.67 118.5 L184.51 115.96 L184.07 115.58 L182.66 116.57 L181.16 115.96 L180.79 113.92M197.27 130.11 L198.91 129.95 L201.14 129.29 L203.27 130.11 L205.52 129.62 L203.5 127.66 L202.33 126.61 L200.75 126.85 L199.83 127.26 L199.31 126.04 L197.66 125.8 L196.75 127.66 L196.5 129.29 L197.27 130.11M208.57 126.85 L209.58 125.64 L211.14 125.4 L212.17 125.64 L212.09 126.61 L211.28 127.26 L210.86 127.42 L212.66 128.89 L213.27 130.11 L214.14 131.59 L214.51 133.39 L212.98 133.56 L211.17 132.98 L210.86 131.34 L211.03 130.52 L209.26 128.48 L208.57 126.85M213.55 173.96 L214.13 176.68 L213.44 178.33 L212.1 182.04 L211.19 184.52 L209.74 184.93 L208.81 183.28 L208.94 181.46 L209.61 179.98 L209.52 177.92 L210.29 177.09 L211.78 176.27 L212.92 175.03 L213.55 173.96M258.74 182.04 L258.57 185.34 L258.23 188.64 L257.16 191.77 L258.84 192.76 L261.3 191.77 L263.62 191.11 L265.26 190.45 L267.53 189.96 L269.3 189.88 L270.88 191.11 L270.92 192.6 L273.27 190.87 L272.36 193.17 L272.78 195.07 L274.74 195.8 L276.49 196.05 L278.2 195.07 L279.83 194.57 L282.29 191.52 L284.6 189.05 L285.77 186.58 L286.14 184.76 L285.07 183.53 L284.31 182.29 L282.63 179.57 L282.43 177.75 L282.59 176.1 L281.58 175.69 L281.42 173.8 L281.03 172.81 L280.32 174.45 L279.76 176.68 L278.73 178.33 L277.83 178.17 L276.8 177.09 L275.72 176.27 L276.16 174.21 L275.49 173.8 L273.97 173.22 L272.58 173.96 L271.75 174.87 L271.21 176.1 L270.1 176.27 L269.5 175.44 L268.4 175.61 L267.06 177.34 L265.74 177.92 L265.46 179.16 L264.42 180.14 L262 180.89 L260.23 181.63 L258.74 182.04M274.58 197.44 L276.87 197.53 L275.55 199.32 L274.22 199.81 L274.04 198.91 L274.58 197.44M296.59 192.35 L297.18 194 L298.78 194.98 L297 196.3 L294.46 198.1 L295.23 196.71 L294.85 196.3 L296.52 194.82 L296.59 192.35M293.47 197.28 L293.6 198.34 L291.58 199.73 L289.4 200.95 L287.74 202.16 L286.26 202 L286.01 201.51 L288.43 200.14 L291.04 198.91 L293.47 197.28M273.21 164.56 L275.39 164.56 L276.06 166.62 L278.28 165.38 L280.44 166.04 L283.28 167.61 L285.02 168.85 L285.14 170.08 L286.87 172.39 L284.73 172.15 L282.73 170.25 L280.81 171.49 L278.73 170.5 L277.98 170.74 L278.66 169.51 L276.37 167.61 L274.95 167.03 L273.89 166.21 L273.21 164.56M257.19 162.25 L258.99 161.67 L260.07 161.26 L261.81 159.36 L262.83 158.13 L264.36 159.53 L263.47 161.01 L263.75 163.08 L263.39 164.56 L262.45 167.03 L261.13 167.2 L259.19 166.62 L257.92 165.14 L257.21 163.49 L257.19 162.25M247.13 159.28 L248.74 159.61 L250.84 161.59 L253.21 163.9 L253.91 165.8 L254.98 166.62 L254.68 168.68 L253.81 168.68 L252.06 167.03 L250.88 164.72 L249.7 162.5 L248.06 160.85 L247.13 159.28M254.35 169.51 L256.67 169.42 L258.36 169.18 L259.93 169.59 L260.97 170.33 L260.78 170.99 L258.4 170.74 L256.26 170.33 L254.35 169.51M265.06 163.24 L265.93 162.83 L268.69 162.66 L267.39 163.57 L265.57 163.49 L266.15 164.72 L267.6 164.72 L266.49 165.55 L266.93 167.61 L266.2 167.78 L265.75 166.21 L265.29 168.44 L264.71 168.44 L264.64 166.79 L264.3 166.13 L265.06 163.24M264.24 148.64 L265.47 148.73 L265.66 150.71 L265.48 151.94 L267.45 153.18 L267.34 153.51 L266.28 152.52 L265.05 152.52 L264.28 151.12 L264.24 148.64M266.45 158.13 L267.44 156.73 L268.81 155.82 L269.69 157.72 L269.05 159.12 L267.91 158.13 L266.45 158.13M268.46 138.09 L269.51 137.92 L268.98 136.28 L270.34 135.45 L271.6 136.28 L272.02 135.37 L273.24 135.04 L274.2 134.46 L273.15 132.16 L273.27 131.18 L271.96 129.78 L271.54 130.52 L272.34 132.16 L271.42 133.39 L270.82 133.15 L270.88 134.38 L268.94 134.63 L268.01 135.62 L267.56 136.52 L268.46 138.09M271.02 129.46 L271.52 128.89 L272.98 129.29 L273.73 128.23 L272.56 127.66 L270.15 126.53 L271.1 128.23 L271.02 129.46M269.94 126.04 L270.45 125.4 L268.64 123.39 L269.78 123.63 L266.89 121.24 L265.24 119.51 L265.59 120.45 L267.57 122.83 L269.94 126.04M263.35 144.93 L263.53 143.12 L264.13 143.28 L264.05 145.59 L263.35 144.93M235.87 155.9 L237.27 157.72 L236.74 158.95 L236.01 158.95 L235.8 157.3 L235.87 155.9M174.46 122.83 L176.04 122.35 L178.74 121.87 L178.24 121.64 L178.98 120.69 L178.12 120.45 L177.81 119.51 L177.02 118.89 L176.73 118.11 L176.74 116.88 L175.56 116.8 L176.16 116.11 L174.99 116.11 L174.36 116.95 L174.62 118.11 L175.01 119.04 L176.09 119.67 L176.08 120.22 L175.16 120.29 L175.26 121 L174.69 121.4 L175.93 121.72 L175.11 122.03 L174.46 122.83M174.2 121.08 L174.24 120.06 L174.58 119.28 L173.99 118.73 L172.95 118.89 L171.82 119.51 L171.84 121.08 L172 121.64 L174.2 121.08M164.74 110.98 L165.95 110.34 L168.09 110.62 L169.75 110.41 L170.41 111.35 L169.58 111.85 L167.54 112.51 L165.34 112.22 L165.72 111.64 L164.74 110.98M182.94 101.71 L185.16 101.43 L187.39 101.32 L190.13 101.43 L187.66 102.3 L186.05 103.46 L184.52 102.9 L182.94 101.71M204.79 107.12 L206.44 107.33 L207.73 107.33 L205.76 105.58 L207.31 104.48 L210.51 103.27 L209.86 103.96 L207.24 105.12 L206.31 106.11 L204.62 105.78 L204.79 107.12M138.03 105.32 L139.56 105.92 L141.35 106.99 L142.23 108.5 L144.4 109.91 L142.84 111.35 L139.57 112.81 L140.61 113.55 L137.88 112.29 L136.55 111.71 L134.65 111.64 L137.96 110.26 L138.88 109.2 L136.9 107.81 L133.76 107.81 L131.85 107.26 L132.87 105.78 L135.53 105.32 L138.03 105.32M116.56 108.01 L118.04 108.36 L121.74 108.64 L124.56 108.15 L123.7 107.12 L125.31 105.78 L123.55 105.78 L120.3 105.98 L116.96 106.92 L116.56 108.01M113.92 106.45 L114.48 107.06 L116.08 106.79 L118.13 106.11 L119.68 105.65 L118.99 104.99 L116.6 104.93 L113.92 106.45M134.85 103.52 L140 103.65 L141.37 102.72 L143.18 102.3 L146.3 101.43 L151.06 100.12 L147.89 99.83 L142.68 99.88 L137.82 100.62 L138.94 101.15 L138.28 102.12 L135.77 102.9 L134.85 103.52M132.68 104.67 L138.58 104.67 L139.05 104.15 L136.45 103.84 L133.76 103.65 L132.68 104.67M130.01 111.13 L131.63 110.77 L132.98 112.07 L131.39 112.37 L129.8 112.66 L129.35 112.07 L130.01 111.13M139.89 124.75 L141.85 125.32 L143.74 125.48 L144.12 124.75 L143.66 123.87 L142.72 123.39 L143.1 121.8 L141.91 122.35 L140.62 124.03 L139.89 124.75M117.41 145.76 L119.3 144.93 L121.08 144.93 L123.07 146.09 L124.94 147.24 L122.55 147.49 L122.27 146.83 L119.59 145.43 L118.1 145.92 L117.41 145.76M124.56 148.73 L126.12 147.49 L127.9 147.57 L128.95 148.56 L127.77 148.89 L126.65 149.3 L124.56 148.73M120.81 104.35 L122.69 104.8 L126.02 104.48 L126.8 103.84 L125.28 103.52 L121.75 103.65 L120.81 104.35M125.9 106.45 L127.63 106.79 L129.34 105.78 L129.25 105.12 L127.37 105.26 L125.9 106.45M134.49 101.83 L137.15 102.3 L138.74 101.71 L137.93 100.88 L135.36 101.15 L134.49 101.83M94.52 225.5 L101.22 225.39 L103.26 224.78 L106.13 224.28 L109.38 223.32 L113.63 222.87 L120.81 222.68 L127.35 223.2 L127.58 222.02 L133.62 222.02 L137.81 222.22 L139.92 221.69 L142.39 219.99 L141.62 218.25 L143.01 216.24 L145.59 215.21 L144.5 216.45 L144.4 217.89 L145.78 219.99 L147.84 223 L154.57 225.2 L161.17 225.33 L164.42 223.96 L167.93 222.35 L171.3 221.35 L173.79 220.54 L177.93 219.99 L183.14 220.13 L188.38 219.99 L193.8 219.3 L196.33 219.65 L199.21 218.95 L204.97 217.89 L208 217.18 L210.2 218.25 L214.38 218.46 L214.95 219.3 L216.18 219.86 L219.51 218.81 L220.96 218.25 L225.63 217.75 L229.59 217.54 L232.61 217.18 L237.94 217.32 L240.47 217.54 L242.98 217.75 L248.86 217.32 L251.74 217.18 L253.82 217.75 L256.18 218.03 L257.71 218.95 L259.71 219.44 L261.06 220.34 L263.35 220.54 L265.19 221.01 L262.87 222.68 L257.52 223.96 L254.09 225.2 L256.97 225.39 L261.34 225.5"/>
<path fill="none" stroke="#b0b0b0" stroke-width="1.3" d="M73.37 213.5H282.49M52.24 188.5H303.62M47 164.5H308.86M52.24 139.5H303.62M73.37 115.5H282.49M131.48 230.4 L129.5 229.56 L127.18 228.38 L124.6 226.92 L121.86 225.2 L119.17 223.32 L116.72 221.35 L114.47 219.3 L112.32 217.18 L110.24 214.99 L108.22 212.75 L106.29 210.46 L104.44 208.13 L102.72 205.77 L101.15 203.37 L99.7 200.95 L98.34 198.51 L97.09 196.05 L95.98 193.58 L95 191.11 L94.13 188.64 L93.41 186.16 L92.82 183.69 L92.34 181.22 L91.91 178.74 L91.52 176.27 L91.21 173.8 L90.98 171.32 L90.81 168.85 L90.7 166.37 L90.64 163.9 L90.7 161.43 L90.81 158.95 L90.98 156.48 L91.21 154 L91.52 151.53 L91.91 149.06 L92.34 146.58 L92.82 144.11 L93.41 141.64 L94.13 139.16 L95 136.69 L95.98 134.22 L97.09 131.75 L98.34 129.29 L99.7 126.85 L101.15 124.43 L102.72 122.03 L104.44 119.67 L106.29 117.34 L108.22 115.05 L110.24 112.81 L112.32 110.62 L114.47 108.5 L116.72 106.45 L119.17 104.48 L121.86 102.6 L124.6 100.88 L127.18 99.42 L129.5 98.24 L131.48 97.4M154.7 230.4 L153.71 229.56 L152.55 228.38 L151.26 226.92 L149.9 225.2 L148.55 223.32 L147.33 221.35 L146.2 219.3 L145.12 217.18 L144.08 214.99 L143.08 212.75 L142.11 210.46 L141.19 208.13 L140.32 205.77 L139.54 203.37 L138.82 200.95 L138.13 198.51 L137.51 196.05 L136.96 193.58 L136.47 191.11 L136.03 188.64 L135.67 186.16 L135.37 183.69 L135.14 181.22 L134.92 178.74 L134.72 176.27 L134.57 173.8 L134.45 171.32 L134.37 168.85 L134.31 166.37 L134.29 163.9 L134.31 161.43 L134.37 158.95 L134.45 156.48 L134.57 154 L134.72 151.53 L134.92 149.06 L135.14 146.58 L135.37 144.11 L135.67 141.64 L136.03 139.16 L136.47 136.69 L136.96 134.22 L137.51 131.75 L138.13 129.29 L138.82 126.85 L139.54 124.43 L140.32 122.03 L141.19 119.67 L142.11 117.34 L143.08 115.05 L144.08 112.81 L145.12 110.62 L146.2 108.5 L147.33 106.45 L148.55 104.48 L149.9 102.6 L151.26 100.88 L152.55 99.42 L153.71 98.24 L154.7 97.4M178.5 230.4 L178.5 229.56 L178.5 228.38 L178.5 226.92 L178.5 225.2 L178.5 223.32 L178.5 221.35 L178.5 219.3 L178.5 217.18 L178.5 214.99 L178.5 212.75 L178.5 210.46 L178.5 208.13 L178.5 205.77 L178.5 203.37 L178.5 200.95 L178.5 198.51 L178.5 196.05 L178.5 193.58 L178.5 191.11 L178.5 188.64 L178.5 186.16 L178.5 183.69 L178.5 181.22 L178.5 178.74 L178.5 176.27 L178.5 173.8 L178.5 171.32 L178.5 168.85 L178.5 166.37 L178.5 163.9 L178.5 161.43 L178.5 158.95 L178.5 156.48 L178.5 154 L178.5 151.53 L178.5 149.06 L178.5 146.58 L178.5 144.11 L178.5 141.64 L178.5 139.16 L178.5 136.69 L178.5 134.22 L178.5 131.75 L178.5 129.29 L178.5 126.85 L178.5 124.43 L178.5 122.03 L178.5 119.67 L178.5 117.34 L178.5 115.05 L178.5 112.81 L178.5 110.62 L178.5 108.5 L178.5 106.45 L178.5 104.48 L178.5 102.6 L178.5 100.88 L178.5 99.42 L178.5 98.24 L178.5 97.4M201.16 230.4 L202.15 229.56 L203.31 228.38 L204.6 226.92 L205.96 225.2 L207.31 223.32 L208.53 221.35 L209.66 219.3 L210.74 217.18 L211.78 214.99 L212.78 212.75 L213.75 210.46 L214.67 208.13 L215.54 205.77 L216.32 203.37 L217.04 200.95 L217.73 198.51 L218.35 196.05 L218.9 193.58 L219.39 191.11 L219.83 188.64 L220.19 186.16 L220.49 183.69 L220.72 181.22 L220.94 178.74 L221.14 176.27 L221.29 173.8 L221.41 171.32 L221.49 168.85 L221.55 166.37 L221.57 163.9 L221.55 161.43 L221.49 158.95 L221.41 156.48 L221.29 154 L221.14 151.53 L220.94 149.06 L220.72 146.58 L220.49 144.11 L220.19 141.64 L219.83 139.16 L219.39 136.69 L218.9 134.22 L218.35 131.75 L217.73 129.29 L217.04 126.85 L216.32 124.43 L215.54 122.03 L214.67 119.67 L213.75 117.34 L212.78 115.05 L211.78 112.81 L210.74 110.62 L209.66 108.5 L208.53 106.45 L207.31 104.48 L205.96 102.6 L204.6 100.88 L203.31 99.42 L202.15 98.24 L201.16 97.4M224.38 230.4 L226.36 229.56 L228.68 228.38 L231.26 226.92 L234 225.2 L236.69 223.32 L239.14 221.35 L241.39 219.3 L243.54 217.18 L245.62 214.99 L247.64 212.75 L249.57 210.46 L251.42 208.13 L253.14 205.77 L254.71 203.37 L256.16 200.95 L257.52 198.51 L258.77 196.05 L259.88 193.58 L260.86 191.11 L261.73 188.64 L262.45 186.16 L263.04 183.69 L263.52 181.22 L263.95 178.74 L264.34 176.27 L264.65 173.8 L264.88 171.32 L265.05 168.85 L265.16 166.37 L265.22 163.9 L265.16 161.43 L265.05 158.95 L264.88 156.48 L264.65 154 L264.34 151.53 L263.95 149.06 L263.52 146.58 L263.04 144.11 L262.45 141.64 L261.73 139.16 L260.86 136.69 L259.88 134.22 L258.77 131.75 L257.52 129.29 L256.16 126.85 L254.71 124.43 L253.14 122.03 L251.42 119.67 L249.57 117.34 L247.64 115.05 L245.62 112.81 L243.54 110.62 L241.39 108.5 L239.14 106.45 L236.69 104.48 L234 102.6 L231.26 100.88 L228.68 99.42 L226.36 98.24 L224.38 97.4"/>
</g>
<path fill="none" stroke="#000" stroke-width="1.15" stroke-linejoin="miter" d="M247.61 230.4 L249.52 229.88 L251.69 229.2 L254.06 228.38 L256.6 227.44 L259.28 226.37 L262.03 225.2 L264.76 223.96 L267.34 222.68 L269.74 221.35 L272.02 219.99 L274.21 218.6 L276.35 217.18 L278.44 215.73 L280.49 214.25 L282.49 212.75 L284.44 211.23 L286.33 209.69 L288.16 208.13 L289.91 206.56 L291.56 204.97 L293.11 203.37 L294.56 201.76 L295.97 200.14 L297.32 198.51 L298.6 196.87 L299.77 195.23 L300.85 193.58 L301.85 191.94 L302.78 190.29 L303.62 188.64 L304.37 186.99 L305.03 185.34 L305.6 183.69 L306.08 182.04 L306.53 180.39 L306.96 178.74 L307.37 177.09 L307.72 175.44 L308.01 173.8 L308.26 172.15 L308.46 170.5 L308.61 168.85 L308.73 167.2 L308.81 165.55 L308.86 163.9 L308.81 162.25 L308.73 160.6 L308.61 158.95 L308.46 157.3 L308.26 155.65 L308.01 154 L307.72 152.36 L307.37 150.71 L306.96 149.06 L306.53 147.41 L306.08 145.76 L305.6 144.11 L305.03 142.46 L304.37 140.81 L303.62 139.16 L302.78 137.51 L301.85 135.86 L300.85 134.22 L299.77 132.57 L298.6 130.93 L297.32 129.29 L295.97 127.66 L294.56 126.04 L293.11 124.43 L291.56 122.83 L289.91 121.24 L288.16 119.67 L286.33 118.11 L284.44 116.57 L282.49 115.05 L280.49 113.55 L278.44 112.07 L276.35 110.62 L274.21 109.2 L272.02 107.81 L269.74 106.45 L267.34 105.12 L264.76 103.84 L262.03 102.6 L259.28 101.43 L256.6 100.36 L254.06 99.42 L251.69 98.6 L249.52 97.92 L247.61 97.4 L108.25 97.4 L106.34 97.92 L104.17 98.6 L101.8 99.42 L99.26 100.36 L96.58 101.43 L93.83 102.6 L91.1 103.84 L88.52 105.12 L86.12 106.45 L83.84 107.81 L81.65 109.2 L79.51 110.62 L77.42 112.07 L75.37 113.55 L73.37 115.05 L71.42 116.57 L69.53 118.11 L67.7 119.67 L65.95 121.24 L64.3 122.83 L62.75 124.43 L61.3 126.04 L59.89 127.66 L58.54 129.29 L57.26 130.93 L56.09 132.57 L55.01 134.22 L54.01 135.86 L53.08 137.51 L52.24 139.16 L51.49 140.81 L50.83 142.46 L50.26 144.11 L49.78 145.76 L49.33 147.41 L48.9 149.06 L48.49 150.71 L48.14 152.36 L47.85 154 L47.6 155.65 L47.4 157.3 L47.25 158.95 L47.13 160.6 L47.05 162.25 L47 163.9 L47.05 165.55 L47.13 167.2 L47.25 168.85 L47.4 170.5 L47.6 172.15 L47.85 173.8 L48.14 175.44 L48.49 177.09 L48.9 178.74 L49.33 180.39 L49.78 182.04 L50.26 183.69 L50.83 185.34 L51.49 186.99 L52.24 188.64 L53.08 190.29 L54.01 191.94 L55.01 193.58 L56.09 195.23 L57.26 196.87 L58.54 198.51 L59.89 200.14 L61.3 201.76 L62.75 203.37 L64.3 204.97 L65.95 206.56 L67.7 208.13 L69.53 209.69 L71.42 211.23 L73.37 212.75 L75.37 214.25 L77.42 215.73 L79.51 217.18 L81.65 218.6 L83.84 219.99 L86.12 221.35 L88.52 222.68 L91.1 223.96 L93.83 225.2 L96.58 226.37 L99.26 227.44 L101.8 228.38 L104.17 229.2 L106.34 229.88 L108.25 230.4Z"/>
<g clip-path="url(#cJJA)">
<g fill="none" stroke-width="1" shape-rendering="crispEdges">
<path stroke="#aa5306" d="M553 135.5h3M542 136.5h21M532 137.5h36M523 138.5h42M518 139.5h39M488 140.5h54M478 141.5h58M462 142.5h66M461 143.5h63M459 144.5h57M459 145.5h54M459 146.5h48M461 147.5h44M463 148.5h23"/>
<path stroke="#d0730f" d="M552 132.5h8M547 133.5h23M547 134.5h24M530 135.5h23M556 135.5h22M328 136.5h9M524 136.5h18M563 136.5h16M328 137.5h9M393 137.5h11M484 137.5h48M568 137.5h12M329 138.5h5M382 138.5h25M454 138.5h69M565 138.5h15M379 139.5h22M453 139.5h65M557 139.5h24M379 140.5h20M451 140.5h37M542 140.5h28M381 141.5h15M450 141.5h28M536 141.5h29M388 142.5h6M447 142.5h15M528 142.5h21M443 143.5h18M524 143.5h12M443 144.5h16M516 144.5h14M441 145.5h18M513 145.5h12M441 146.5h18M507 146.5h14M439 147.5h22M505 147.5h12M438 148.5h25M486 148.5h26M431 149.5h11M449 149.5h59M430 150.5h8M457 150.5h41M432 151.5h3M463 151.5h17"/>
<path stroke="#ef9e3c" d="M568 129.5h6M552 130.5h23M331 131.5h3M401 131.5h6M547 131.5h29M331 132.5h14M393 132.5h19M531 132.5h21M560 132.5h16M330 133.5h17M384 133.5h32M528 133.5h19M570 133.5h7M329 134.5h17M383 134.5h32M528 134.5h19M571 134.5h7M329 135.5h19M378 135.5h40M516 135.5h14M337 136.5h11M374 136.5h45M454 136.5h2M482 136.5h42M337 137.5h9M372 137.5h21M404 137.5h13M451 137.5h33M327 138.5h2M334 138.5h9M372 138.5h10M407 138.5h8M450 138.5h4M327 139.5h10M371 139.5h8M401 139.5h12M447 139.5h6M326 140.5h7M371 140.5h8M399 140.5h10M445 140.5h6M570 140.5h11M326 141.5h4M371 141.5h10M396 141.5h10M442 141.5h8M565 141.5h16M370 142.5h18M394 142.5h8M441 142.5h6M549 142.5h21M370 143.5h28M438 143.5h5M536 143.5h24M369 144.5h25M437 144.5h6M530 144.5h16M370 145.5h12M434 145.5h7M525 145.5h9M371 146.5h5M430 146.5h11M521 146.5h9M423 147.5h16M517 147.5h9M423 148.5h15M512 148.5h12M422 149.5h9M442 149.5h7M508 149.5h12M420 150.5h10M438 150.5h19M498 150.5h18M419 151.5h13M435 151.5h8M446 151.5h17M480 151.5h32M420 152.5h20M457 152.5h48M420 153.5h18M482 153.5h3M421 154.5h15M423 155.5h12M431 156.5h4"/>
<path stroke="#fdc57f" d="M566 126.5h6M553 127.5h1M564 127.5h8M550 128.5h23M333 129.5h1M397 129.5h16M547 129.5h21M332 130.5h20M390 130.5h31M532 130.5h20M334 131.5h21M382 131.5h19M407 131.5h19M530 131.5h17M345 132.5h12M374 132.5h19M412 132.5h15M525 132.5h6M347 133.5h12M370 133.5h14M416 133.5h12M509 133.5h19M346 134.5h13M369 134.5h14M415 134.5h13M509 134.5h19M348 135.5h11M368 135.5h10M418 135.5h10M453 135.5h10M480 135.5h36M348 136.5h10M366 136.5h8M419 136.5h8M449 136.5h5M456 136.5h26M346 137.5h12M365 137.5h7M417 137.5h10M447 137.5h4M343 138.5h10M365 138.5h7M415 138.5h10M445 138.5h5M337 139.5h12M365 139.5h6M413 139.5h11M442 139.5h5M333 140.5h9M364 140.5h7M409 140.5h12M439 140.5h6M330 141.5h10M364 141.5h7M406 141.5h11M437 141.5h5M325 142.5h10M361 142.5h9M402 142.5h11M435 142.5h6M570 142.5h12M325 143.5h5M360 143.5h10M398 143.5h11M431 143.5h7M560 143.5h22M358 144.5h11M394 144.5h9M426 144.5h11M546 144.5h21M357 145.5h13M382 145.5h17M422 145.5h12M534 145.5h24M355 146.5h16M376 146.5h18M418 146.5h12M530 146.5h14M352 147.5h34M416 147.5h7M526 147.5h8M351 148.5h33M416 148.5h7M524 148.5h8M349 149.5h34M415 149.5h7M520 149.5h9M347 150.5h36M414 150.5h6M516 150.5h11M346 151.5h35M412 151.5h7M443 151.5h3M512 151.5h12M344 152.5h36M412 152.5h8M440 152.5h17M505 152.5h18M342 153.5h35M413 153.5h7M438 153.5h44M485 153.5h35M341 154.5h32M415 154.5h6M436 154.5h6M457 154.5h57M343 155.5h28M416 155.5h7M435 155.5h5M465 155.5h47M345 156.5h25M417 156.5h14M435 156.5h4M472 156.5h36M347 157.5h23M419 157.5h19M477 157.5h26M348 158.5h24M423 158.5h13M480 158.5h20M349 159.5h26M481 159.5h15M350 160.5h28M483 160.5h8M353 161.5h25M484 161.5h3M357 162.5h21M360 163.5h18M363 164.5h13M364 165.5h10"/>
<path stroke="#fde4c0" d="M451 103.5h3M443 104.5h13M441 105.5h16M439 106.5h19M438 107.5h19M438 108.5h18M438 109.5h16M439 110.5h13M440 111.5h10M443 112.5h2M370 113.5h5M368 114.5h8M367 115.5h10M367 116.5h11M491 116.5h16M367 117.5h10M490 117.5h19M369 118.5h8M490 118.5h18M370 119.5h6M493 119.5h13M564 123.5h5M337 124.5h3M564 124.5h6M336 125.5h5M549 125.5h22M336 126.5h8M545 126.5h21M335 127.5h30M395 127.5h26M545 127.5h8M554 127.5h10M334 128.5h33M388 128.5h45M529 128.5h14M544 128.5h6M334 129.5h36M378 129.5h19M413 129.5h21M525 129.5h22M352 130.5h38M421 130.5h15M524 130.5h8M355 131.5h27M426 131.5h11M523 131.5h7M357 132.5h17M427 132.5h12M507 132.5h18M359 133.5h11M428 133.5h11M450 133.5h19M478 133.5h31M359 134.5h10M428 134.5h10M450 134.5h19M478 134.5h31M359 135.5h9M428 135.5h10M446 135.5h7M463 135.5h17M358 136.5h8M427 136.5h11M445 136.5h4M358 137.5h7M427 137.5h6M441 137.5h6M353 138.5h12M425 138.5h7M438 138.5h7M349 139.5h16M424 139.5h8M436 139.5h6M342 140.5h22M421 140.5h18M340 141.5h24M417 141.5h20M335 142.5h26M413 142.5h22M330 143.5h30M409 143.5h22M325 144.5h33M403 144.5h23M567 144.5h16M326 145.5h7M334 145.5h23M399 145.5h23M558 145.5h25M336 146.5h19M394 146.5h24M544 146.5h29M339 147.5h13M386 147.5h30M534 147.5h28M338 148.5h13M384 148.5h32M532 148.5h24M340 149.5h9M383 149.5h18M404 149.5h11M529 149.5h15M338 150.5h9M383 150.5h10M405 150.5h9M527 150.5h6M338 151.5h8M381 151.5h12M405 151.5h7M524 151.5h10M336 152.5h8M380 152.5h12M405 152.5h7M523 152.5h9M335 153.5h7M377 153.5h15M407 153.5h6M520 153.5h13M333 154.5h8M373 154.5h19M407 154.5h8M442 154.5h15M514 154.5h19M332 155.5h11M371 155.5h19M408 155.5h8M440 155.5h25M512 155.5h19M332 156.5h13M370 156.5h20M409 156.5h8M439 156.5h33M508 156.5h23M332 157.5h15M370 157.5h19M409 157.5h10M438 157.5h5M455 157.5h22M503 157.5h27M331 158.5h17M372 158.5h17M410 158.5h13M436 158.5h7M465 158.5h15M500 158.5h30M331 159.5h18M375 159.5h14M412 159.5h30M468 159.5h13M496 159.5h33M333 160.5h17M378 160.5h9M413 160.5h27M473 160.5h10M491 160.5h37M333 161.5h20M378 161.5h9M425 161.5h11M476 161.5h8M487 161.5h41M334 162.5h23M378 162.5h9M477 162.5h49M339 163.5h21M378 163.5h8M480 163.5h45M345 164.5h18M376 164.5h10M483 164.5h41M353 165.5h11M374 165.5h12M485 165.5h36M356 166.5h28M487 166.5h31M356 167.5h28M487 167.5h31M360 168.5h25M489 168.5h28M376 169.5h9M492 169.5h23M383 170.5h2M493 170.5h17M503 171.5h1"/>
<path stroke="#f6f6f7" d="M383 96.5h86M519 96.5h4M382 97.5h87M519 97.5h5M379 98.5h90M517 98.5h10M376 99.5h94M514 99.5h16M373 100.5h97M508 100.5h25M371 101.5h101M508 101.5h27M368 102.5h104M510 102.5h28M366 103.5h85M454 103.5h32M520 103.5h20M364 104.5h79M456 104.5h37M523 104.5h15M362 105.5h79M457 105.5h40M527 105.5h10M361 106.5h78M458 106.5h44M531 106.5h6M359 107.5h79M457 107.5h49M357 108.5h81M456 108.5h53M356 109.5h82M454 109.5h59M354 110.5h85M452 110.5h64M548 110.5h4M353 111.5h87M450 111.5h69M547 111.5h7M351 112.5h92M445 112.5h77M547 112.5h8M350 113.5h20M375 113.5h150M546 113.5h11M349 114.5h19M376 114.5h151M545 114.5h13M347 115.5h20M377 115.5h161M544 115.5h15M346 116.5h21M378 116.5h113M507 116.5h54M345 117.5h22M377 117.5h113M509 117.5h53M344 118.5h25M377 118.5h7M403 118.5h87M508 118.5h55M342 119.5h28M376 119.5h8M403 119.5h20M426 119.5h67M506 119.5h58M341 120.5h1M347 120.5h35M406 120.5h14M428 120.5h138M340 121.5h3M347 121.5h34M407 121.5h15M426 121.5h141M339 122.5h5M345 122.5h34M402 122.5h166M338 123.5h41M397 123.5h54M464 123.5h11M504 123.5h60M340 124.5h39M393 124.5h57M514 124.5h50M341 125.5h40M388 125.5h61M515 125.5h34M344 126.5h38M385 126.5h64M517 126.5h28M365 127.5h30M421 127.5h28M518 127.5h27M367 128.5h21M433 128.5h16M517 128.5h12M543 128.5h1M370 129.5h8M434 129.5h15M515 129.5h10M436 130.5h14M509 130.5h15M437 131.5h16M459 131.5h10M497 131.5h26M439 132.5h68M439 133.5h11M469 133.5h9M438 134.5h12M469 134.5h9M438 135.5h8M438 136.5h7M433 137.5h8M432 138.5h6M432 139.5h4M325 145.5h1M333 145.5h1M324 146.5h12M573 146.5h10M324 147.5h15M562 147.5h21M324 148.5h14M556 148.5h28M323 149.5h17M401 149.5h3M544 149.5h40M323 150.5h15M393 150.5h12M533 150.5h51M323 151.5h15M393 151.5h12M534 151.5h50M323 152.5h13M392 152.5h13M532 152.5h52M323 153.5h12M392 153.5h15M533 153.5h51M322 154.5h11M392 154.5h15M533 154.5h29M567 154.5h17M322 155.5h10M390 155.5h18M531 155.5h29M568 155.5h16M322 156.5h10M390 156.5h19M531 156.5h29M568 156.5h16M322 157.5h10M389 157.5h20M443 157.5h12M530 157.5h33M565 157.5h19M322 158.5h9M389 158.5h21M443 158.5h22M530 158.5h54M322 159.5h9M389 159.5h23M442 159.5h26M529 159.5h55M322 160.5h11M387 160.5h26M440 160.5h33M528 160.5h56M322 161.5h11M387 161.5h38M436 161.5h40M528 161.5h56M322 162.5h12M387 162.5h90M526 162.5h58M322 163.5h17M386 163.5h94M525 163.5h59M322 164.5h23M386 164.5h8M408 164.5h75M524 164.5h60M322 165.5h31M386 165.5h7M412 165.5h50M476 165.5h9M521 165.5h63M322 166.5h34M384 166.5h7M414 166.5h43M477 166.5h10M518 166.5h66M322 167.5h34M384 167.5h7M414 167.5h43M477 167.5h10M518 167.5h66M322 168.5h38M385 168.5h5M423 168.5h31M478 168.5h11M517 168.5h67M322 169.5h54M385 169.5h4M480 169.5h12M515 169.5h69M322 170.5h61M385 170.5h4M481 170.5h12M510 170.5h74M322 171.5h65M481 171.5h22M504 171.5h65M337 172.5h49M482 172.5h56M350 173.5h36M482 173.5h47M356 174.5h29M484 174.5h9M495 174.5h27M365 175.5h12M499 175.5h14M556 195.5h20M539 196.5h37M529 197.5h46M492 198.5h17M517 198.5h57M334 199.5h78M451 199.5h5M491 199.5h82M335 200.5h81M449 200.5h10M489 200.5h83M336 201.5h81M450 201.5h9M489 201.5h82M337 202.5h82M451 202.5h5M489 202.5h81M337 203.5h82M490 203.5h80M338 204.5h81M489 204.5h80M339 205.5h79M489 205.5h73M340 206.5h77M490 206.5h63M342 207.5h74M492 207.5h52M343 208.5h71M494 208.5h43M344 209.5h67M345 210.5h60M346 211.5h35M348 212.5h5M349 213.5h3M350 214.5h1"/>
<path stroke="#dddfed" d="M469 96.5h50M469 97.5h50M469 98.5h48M470 99.5h44M470 100.5h38M472 101.5h36M472 102.5h38M486 103.5h34M493 104.5h30M538 104.5h4M497 105.5h30M537 105.5h7M502 106.5h29M537 106.5h9M506 107.5h42M509 108.5h40M513 109.5h38M516 110.5h32M519 111.5h28M522 112.5h25M525 113.5h21M527 114.5h18M538 115.5h6M384 118.5h19M384 119.5h19M423 119.5h3M342 120.5h5M382 120.5h24M420 120.5h8M343 121.5h4M381 121.5h26M422 121.5h4M344 122.5h1M379 122.5h23M379 123.5h18M451 123.5h13M475 123.5h29M379 124.5h14M450 124.5h33M487 124.5h27M381 125.5h7M449 125.5h31M496 125.5h19M382 126.5h3M449 126.5h30M499 126.5h18M449 127.5h32M498 127.5h20M449 128.5h41M495 128.5h22M449 129.5h66M450 130.5h59M453 131.5h6M469 131.5h28M562 154.5h5M560 155.5h8M560 156.5h8M563 157.5h2M394 164.5h14M393 165.5h19M462 165.5h14M391 166.5h23M457 166.5h20M391 167.5h23M457 167.5h20M390 168.5h12M405 168.5h18M454 168.5h24M389 169.5h5M408 169.5h64M474 169.5h6M389 170.5h4M412 170.5h50M476 170.5h5M387 171.5h6M416 171.5h41M476 171.5h5M569 171.5h15M322 172.5h15M386 172.5h6M421 172.5h30M477 172.5h5M538 172.5h46M322 173.5h28M386 173.5h6M442 173.5h2M477 173.5h5M529 173.5h55M323 174.5h33M385 174.5h5M477 174.5h7M493 174.5h2M522 174.5h62M323 175.5h42M377 175.5h13M477 175.5h22M513 175.5h46M323 176.5h66M478 176.5h65M338 177.5h50M481 177.5h55M349 178.5h35M486 178.5h41M360 179.5h20M490 179.5h26M493 180.5h6M411 189.5h26M407 190.5h48M403 191.5h81M399 192.5h86M565 192.5h13M392 193.5h95M538 193.5h40M388 194.5h105M510 194.5h67M333 195.5h4M378 195.5h178M333 196.5h206M332 197.5h197M333 198.5h159M509 198.5h8M412 199.5h39M456 199.5h35M416 200.5h33M459 200.5h30M417 201.5h33M459 201.5h30M419 202.5h32M456 202.5h33M419 203.5h71M419 204.5h70M418 205.5h71M562 205.5h6M417 206.5h73M553 206.5h13M416 207.5h76M544 207.5h21M414 208.5h80M537 208.5h27M411 209.5h152M405 210.5h157M381 211.5h179M353 212.5h206M352 213.5h206M351 214.5h205M352 215.5h203M353 216.5h201M354 217.5h198M356 218.5h195M358 219.5h191M359 220.5h188M361 221.5h185M363 222.5h181M365 223.5h177M367 224.5h173M369 225.5h168M371 226.5h164M374 227.5h158M377 228.5h152M379 229.5h147M383 230.5h140M383 231.5h140"/>
<path stroke="#bfbbda" d="M483 124.5h4M480 125.5h16M479 126.5h20M481 127.5h17M490 128.5h5M402 168.5h3M394 169.5h14M472 169.5h2M393 170.5h19M462 170.5h14M393 171.5h23M457 171.5h19M392 172.5h29M451 172.5h26M392 173.5h10M407 173.5h35M444 173.5h33M390 174.5h11M415 174.5h62M390 175.5h10M416 175.5h61M559 175.5h25M389 176.5h10M419 176.5h59M543 176.5h41M323 177.5h15M388 177.5h11M419 177.5h62M536 177.5h48M324 178.5h25M384 178.5h16M419 178.5h67M527 178.5h47M324 179.5h36M380 179.5h22M418 179.5h13M445 179.5h45M516 179.5h37M324 180.5h82M415 180.5h15M447 180.5h46M499 180.5h42M324 181.5h106M449 181.5h85M325 182.5h13M349 182.5h81M449 182.5h78M359 183.5h74M447 183.5h36M485 183.5h31M368 184.5h70M446 184.5h34M376 185.5h103M381 186.5h99M386 187.5h96M388 188.5h97M387 189.5h24M437 189.5h52M385 190.5h22M455 190.5h37M560 190.5h19M379 191.5h24M484 191.5h10M538 191.5h41M333 192.5h10M374 192.5h25M485 192.5h80M331 193.5h61M487 193.5h51M330 194.5h58M493 194.5h17M331 195.5h2M337 195.5h41M332 196.5h1"/>
<path stroke="#988dbe" d="M402 173.5h5M401 174.5h14M400 175.5h16M399 176.5h20M399 177.5h20M400 178.5h19M574 178.5h10M402 179.5h16M431 179.5h14M553 179.5h31M406 180.5h9M430 180.5h17M541 180.5h42M430 181.5h19M534 181.5h49M338 182.5h11M430 182.5h19M527 182.5h56M325 183.5h34M433 183.5h14M483 183.5h2M516 183.5h66M325 184.5h43M438 184.5h8M480 184.5h102M326 185.5h50M479 185.5h103M326 186.5h55M480 186.5h101M326 187.5h60M482 187.5h99M327 188.5h61M485 188.5h16M517 188.5h63M327 189.5h60M489 189.5h91M328 190.5h57M492 190.5h68M328 191.5h51M494 191.5h44M329 192.5h4M343 192.5h31M330 193.5h1"/>
<path stroke="#70589f" d="M501 188.5h16"/>
</g>
<path fill="none" stroke="#000" stroke-width="0.65" stroke-linejoin="round" d="M359.58 110.98 L363.64 108.85 L367.55 107.6 L371.4 106.92 L373.99 107.46 L377.97 108.01 L380.78 108.29 L385.18 107.67 L386.73 108.15 L390.76 108.85 L394.16 109.2 L398.44 109.2 L401.16 108.5 L403.98 106.45 L404.33 108.5 L405.12 108.85 L407.24 108.15 L408.92 108.01 L407.85 109.91 L405.16 110.26 L402.79 112.07 L398.94 113.55 L396.52 115.81 L396.7 117.34 L399.16 117.72 L401.82 118.89 L401.11 120.85 L402.28 121.64 L403.75 119.28 L405.56 118.11 L405.98 116.19 L407.12 114.67 L407.71 113.18 L410.18 113.33 L411.65 114.3 L411.1 115.96 L413.16 115.96 L414.57 114.82 L415.08 116.95 L415.58 118.65 L416.88 120.06 L417.22 121.24 L414.76 122.59 L410.32 122.67 L407.92 124.03 L410.61 123.63 L410.53 124.83 L412.4 126.04 L410.46 127.1 L408.6 127.83 L408.25 126.85 L405.89 128.07 L405.45 129.46 L402.48 130.44 L400.83 132.57 L399.82 135.04 L397.85 136.03 L395.65 137.92 L395.44 141.64 L394.98 143.12 L394.1 142.05 L393.93 139.99 L392.92 139.16 L390.54 138.91 L388.93 139.82 L386.19 139.57 L383.49 141.22 L382.64 144.11 L382.53 146.58 L383.56 148.4 L386.05 148.56 L387.36 146.75 L389.93 146.17 L389.26 148.64 L388.29 150.71 L390.07 150.87 L391.82 151.37 L391.53 154.83 L392.51 156.48 L394.34 156.07 L395.75 156.89 L397.3 155.08 L399.9 154 L400.2 154.99 L402.76 154.42 L405.61 155.24 L407.42 155.24 L408.44 156.89 L410.55 158.95 L414.16 159.94 L415.57 163.08 L416.66 164.72 L419.58 165.96 L422.85 166.21 L425.05 167.86 L426.53 169.26 L426.57 171.32 L424.83 173.8 L423.85 176.27 L423.64 179.16 L422.74 182.04 L420.32 183.03 L418 184.93 L417.77 187.4 L416.43 189.46 L415.1 191.94 L413.16 192.6 L411.79 191.94 L413.09 194 L412.76 195.64 L410.16 196.05 L410.38 197.69 L408.58 197.69 L409.87 199.16 L409.23 200.95 L408.25 201.92 L409.77 203.21 L408.59 205.21 L409.41 206.8 L412.2 208.76 L410.43 209.15 L408.14 208.13 L405.58 206.56 L403.78 203.77 L403.84 201.35 L403.51 198.51 L402.16 195.64 L402.18 193.17 L402.17 189.46 L401.92 186.16 L401.88 182.04 L401.56 178.99 L399.85 177.67 L397.12 175.28 L395.45 172.15 L394.03 169.67 L392.95 168.02 L393.78 166.54 L393.17 164.72 L393.75 163.24 L394.63 162.66 L395.83 160.6 L395.49 157.88 L393.89 157.88 L392.83 157.3 L391.41 156.64 L389.91 155.24 L388.76 153.18 L385.95 152.36 L384.36 150.54 L382.16 150.87 L379.45 149.63 L376.56 147.41 L376.89 145.35 L375.54 143.04 L374.26 140.98 L373.29 138.75 L372.25 137.68 L372.78 139.99 L373.55 142.46 L374.14 144.77 L372.75 142.87 L371.5 140.81 L371.06 138.75 L370.82 137.02 L369.14 135.45 L368.91 133.56 L368.73 131.34 L369.71 128.89 L371.68 125.88 L372.35 124.11 L373.48 124.03 L374.01 123.23 L372.33 122.03 L372.64 119.28 L372.58 116.95 L371.45 115.96 L370.45 115.2 L367.94 114.82 L365.67 115.05 L363.34 115.58 L364.19 114.3 L361.38 116.04 L357.35 117.57 L353.23 118.89 L351.77 119.12 L355.27 118.11 L359.15 116.19 L357.94 115.96 L357.83 115.05 L356.81 114.45 L357.54 113.4 L359.32 112.66 L361.75 112.29 L362.68 111.56 L359.91 111.56 L359.58 110.98M417.93 102.47 L420.94 101.71 L424.61 100.62 L430.19 100.21 L437.01 99.64 L442.35 100.26 L444.25 101.43 L442.67 103.21 L442.56 104.8 L440.53 106.11 L440.46 107.67 L438.1 108.85 L434.81 109.2 L431.66 110.77 L429.43 111.71 L427 114.9 L425.57 114.82 L424.08 114.15 L423.31 112.44 L422.84 110.26 L424.43 108.5 L423.61 107.46 L423.99 105.78 L423.5 104.15 L420.09 103.84 L418.21 103.21 L417.93 102.47M454.79 113.92 L454.78 113.55 L457.76 111.71 L459.46 109.55 L462.12 107.81 L465.1 107.12 L468.08 107.6 L473.91 109.34 L474.03 110.48 L470.38 110.12 L471.41 111.85 L474.1 111.56 L475.99 110.62 L475.65 108.99 L480.12 108.85 L483.74 108.15 L487.36 108.5 L485.89 106.11 L488.69 105.78 L489.93 106.45 L491.94 105.45 L494.53 104.48 L499.06 103.71 L501 102.78 L508.06 105.12 L513.86 105.78 L519.07 107.12 L522.88 106.11 L528.92 106.79 L535.86 108.01 L541 107.94 L545.74 108.29 L547.34 108.64M357.8 109.55 L358.98 110.62 L356.11 111.71 L353.81 110.98M551.36 111.71 L552.56 113.18 L550.79 114.67 L547.96 115.2 L548.82 116.95 L550.21 118.5 L550.7 120.45 L550.34 122.03 L547.46 119.67 L545.07 117.34 L544.43 114.67 L544.8 113.55 L541.82 113.92 L541.35 115.81 L535.55 115.58 L535.49 119.28 L539.62 120.85 L541.54 124.03 L541.11 127.66 L538.66 128.48 L538.52 130.52 L537.62 131.34 L540.36 134.22 L538.85 135.45 L537.41 132.98 L535.94 131.34 L533.78 131.75 L533.5 130.52 L531.43 131.75 L532.73 133.15 L535.22 133.39 L533.87 135.04 L536.35 137.92 L537.26 139.57 L536.41 142.87 L534.4 145.1 L531.74 146.17 L529.96 146.17 L528.89 146.17 L527.79 148.23 L530.22 151.12 L530.92 154 L529.1 156.48 L528.02 156.48 L527.7 155.24 L526.01 154 L524.46 152.93 L523.97 155.65 L525.09 158.54 L527.14 160.6 L527.56 162.75 L525.72 161.59 L524.75 158.95 L523.21 157.3 L523.12 154 L521.99 150.29 L520.62 150.87 L519.4 148.64 L517.49 146.17 L516.36 145.76 L514.6 145.92 L513.89 147 L512.13 148.89 L509.64 151.12 L509.75 154 L509.48 155.41 L508.13 157.3 L507.1 155.65 L505.83 152.77 L504.3 149.47 L503.78 146.58 L502.23 146.75 L501.03 145.51 L499.61 143.7 L495.79 143.12 L492.58 142.87 L491.73 141.64 L488.48 140.98 L487.19 139.16 L485.8 139.16 L486.21 140.81 L487.67 143.28 L488.8 143.94 L490.23 144.11 L491.61 142.46 L492.19 143.86 L494.47 145.35 L493.4 147.82 L491.42 149.88 L489.33 150.87 L486.9 152.36 L484.42 153.35 L483.2 153.43 L482.61 150.29 L480.89 147.82 L479.7 145.76 L478.09 142.87 L476.52 140.81 L476.27 139.57 L475.46 140.81 L474.62 139.16 L475.71 141.22 L477.11 144.11 L478.32 146.58 L478.63 148.4 L480.21 151.12 L481.88 153.02 L483.16 154.17 L483.39 154.58 L484.5 155.24 L486.65 154.66 L488.94 154.17 L488.84 155.32 L487.5 158.54 L486.8 160.19 L485.38 162.25 L483.21 164.31 L482.11 165.55 L480.4 168.44 L480.57 170.5 L481.24 172.72 L481.17 176.27 L479.2 178.17 L476.87 181.63 L477.11 183.69 L475.26 184.93 L474.94 187.4 L473.58 188.64 L471.64 190.95 L469.62 191.94 L467.06 192.1 L465.66 192.6 L464.53 191.94 L464.41 190.29 L463.49 187.65 L462.52 185.34 L462.24 182.45 L460.53 178.74 L460.42 177.09 L461.68 174.21 L461.71 171.73 L460.79 168.85 L460.29 167.2 L458.48 164.72 L458.84 163.08 L458.98 161.01 L458.11 160.19 L457.02 160.35 L455.56 158.95 L453.74 158.71 L450.84 159.78 L449.75 159.78 L448.52 159.61 L446.48 160.27 L445.39 159.78 L443.95 158.38 L442.51 156.89 L442.15 155.82 L441.08 154.83 L439.87 153.59 L439.89 152.36 L439.32 151.78 L440.07 150.29 L440.26 148.23 L439.81 146.58 L440.58 144.11 L441.7 142.21 L442.79 140.98 L444.94 139.57 L445.18 138.34 L445.7 137.1 L447.11 136.03 L447.82 134.63 L448.31 134.22 L450.56 134.87 L452.61 133.8 L453.97 133.47 L457.37 133.39 L458.72 133.23 L459.42 133.56 L458.94 135.62 L459.66 136.52 L462.46 137.26 L465.18 138.91 L465.83 137.92 L465.76 136.85 L467.49 136.85 L469.29 137.76 L472.11 138.34 L473.47 137.92 L474.53 138.17 L475.92 138.09 L476.48 135.04 L476.43 133.56 L474.1 134.05 L472.39 133.97 L470.64 133.56 L469.83 132.16 L469.69 130.93 L467.95 130.27 L467.19 130.68 L467.84 132.57 L467.46 133.72 L466.52 132.98 L464.97 130.52 L464.8 129.29 L462.45 128.07 L460.9 126.45 L459.93 126.61 L460.13 127.66 L460.87 128.07 L461.33 129.05 L462.55 129.46 L464.32 130.77 L463.3 130.6 L463.12 131.91 L462.56 132.57 L462.68 131.34 L462.32 130.93 L461.41 130.27 L460.24 129.7 L459.21 128.89 L458.63 127.83 L457.69 127.34 L456.85 127.83 L455.22 128.23 L454.04 128.32 L454.05 129.46 L452.46 130.11 L451.73 131.34 L451.59 132.32 L450.57 133.56 L448.31 134.13 L447.64 133.56 L445.95 133.39 L445.59 132 L446.08 129.7 L445.86 128.48 L446.67 127.91 L448.97 128.15 L450.75 128.15 L451.15 126.45 L450.32 124.99 L448.93 124.27 L450.97 123.87 L450.98 123.07 L452.06 123.23 L452.94 122.43 L454.12 121.72 L454.71 120.61 L456.11 120.06 L457.14 119.82 L456.89 118.5 L456.83 117.34 L458.16 116.8 L458.13 118.11 L458.53 119.51 L459.27 119.51 L460.63 119.75 L463.19 119.12 L464.02 119.35 L464.63 118.5 L464.47 117.34 L466.22 117.11 L465.77 116.19 L465.95 115.5 L468.26 115.35 L469.36 115.05 L468.39 114.6 L465.3 115.12 L464.35 114.6 L463.95 112.81 L465.74 111.35 L465.08 110.77 L464.02 110.98 L463.73 111.85 L461.9 113.55 L461.87 114.67 L462.9 115.43 L461.74 116.95 L461.55 117.95 L460.52 118.5 L459.67 118.5 L458.51 115.96 L458.07 115.58 L456.66 116.57 L455.16 115.96 L454.79 113.92M471.27 130.11 L472.91 129.95 L475.14 129.29 L477.27 130.11 L479.52 129.62 L477.5 127.66 L476.33 126.61 L474.75 126.85 L473.83 127.26 L473.31 126.04 L471.66 125.8 L470.75 127.66 L470.5 129.29 L471.27 130.11M482.57 126.85 L483.58 125.64 L485.14 125.4 L486.17 125.64 L486.09 126.61 L485.28 127.26 L484.86 127.42 L486.66 128.89 L487.27 130.11 L488.14 131.59 L488.51 133.39 L486.98 133.56 L485.17 132.98 L484.86 131.34 L485.03 130.52 L483.26 128.48 L482.57 126.85M487.55 173.96 L488.13 176.68 L487.44 178.33 L486.1 182.04 L485.19 184.52 L483.74 184.93 L482.81 183.28 L482.94 181.46 L483.61 179.98 L483.52 177.92 L484.29 177.09 L485.78 176.27 L486.92 175.03 L487.55 173.96M532.74 182.04 L532.57 185.34 L532.23 188.64 L531.16 191.77 L532.84 192.76 L535.3 191.77 L537.62 191.11 L539.26 190.45 L541.53 189.96 L543.3 189.88 L544.88 191.11 L544.92 192.6 L547.27 190.87 L546.36 193.17 L546.78 195.07 L548.74 195.8 L550.49 196.05 L552.2 195.07 L553.83 194.57 L556.29 191.52 L558.6 189.05 L559.77 186.58 L560.14 184.76 L559.07 183.53 L558.31 182.29 L556.63 179.57 L556.43 177.75 L556.59 176.1 L555.58 175.69 L555.42 173.8 L555.03 172.81 L554.32 174.45 L553.76 176.68 L552.73 178.33 L551.83 178.17 L550.8 177.09 L549.72 176.27 L550.16 174.21 L549.49 173.8 L547.97 173.22 L546.58 173.96 L545.75 174.87 L545.21 176.1 L544.1 176.27 L543.5 175.44 L542.4 175.61 L541.06 177.34 L539.74 177.92 L539.46 179.16 L538.42 180.14 L536 180.89 L534.23 181.63 L532.74 182.04M548.58 197.44 L550.87 197.53 L549.55 199.32 L548.22 199.81 L548.04 198.91 L548.58 197.44M570.59 192.35 L571.18 194 L572.78 194.98 L571 196.3 L568.46 198.1 L569.23 196.71 L568.85 196.3 L570.52 194.82 L570.59 192.35M567.47 197.28 L567.6 198.34 L565.58 199.73 L563.4 200.95 L561.74 202.16 L560.26 202 L560.01 201.51 L562.43 200.14 L565.04 198.91 L567.47 197.28M547.21 164.56 L549.39 164.56 L550.06 166.62 L552.28 165.38 L554.44 166.04 L557.28 167.61 L559.02 168.85 L559.14 170.08 L560.87 172.39 L558.73 172.15 L556.73 170.25 L554.81 171.49 L552.73 170.5 L551.98 170.74 L552.66 169.51 L550.37 167.61 L548.95 167.03 L547.89 166.21 L547.21 164.56M531.19 162.25 L532.99 161.67 L534.07 161.26 L535.81 159.36 L536.83 158.13 L538.36 159.53 L537.47 161.01 L537.75 163.08 L537.39 164.56 L536.45 167.03 L535.13 167.2 L533.19 166.62 L531.92 165.14 L531.21 163.49 L531.19 162.25M521.13 159.28 L522.74 159.61 L524.84 161.59 L527.21 163.9 L527.91 165.8 L528.98 166.62 L528.68 168.68 L527.81 168.68 L526.06 167.03 L524.88 164.72 L523.7 162.5 L522.06 160.85 L521.13 159.28M528.35 169.51 L530.67 169.42 L532.36 169.18 L533.93 169.59 L534.97 170.33 L534.78 170.99 L532.4 170.74 L530.26 170.33 L528.35 169.51M539.06 163.24 L539.93 162.83 L542.69 162.66 L541.39 163.57 L539.57 163.49 L540.15 164.72 L541.6 164.72 L540.49 165.55 L540.93 167.61 L540.2 167.78 L539.75 166.21 L539.29 168.44 L538.71 168.44 L538.64 166.79 L538.3 166.13 L539.06 163.24M538.24 148.64 L539.47 148.73 L539.66 150.71 L539.48 151.94 L541.45 153.18 L541.34 153.51 L540.28 152.52 L539.05 152.52 L538.28 151.12 L538.24 148.64M540.45 158.13 L541.44 156.73 L542.81 155.82 L543.69 157.72 L543.05 159.12 L541.91 158.13 L540.45 158.13M542.46 138.09 L543.51 137.92 L542.98 136.28 L544.34 135.45 L545.6 136.28 L546.02 135.37 L547.24 135.04 L548.2 134.46 L547.15 132.16 L547.27 131.18 L545.96 129.78 L545.54 130.52 L546.34 132.16 L545.42 133.39 L544.82 133.15 L544.88 134.38 L542.94 134.63 L542.01 135.62 L541.56 136.52 L542.46 138.09M545.02 129.46 L545.52 128.89 L546.98 129.29 L547.73 128.23 L546.56 127.66 L544.15 126.53 L545.1 128.23 L545.02 129.46M543.94 126.04 L544.45 125.4 L542.64 123.39 L543.78 123.63 L540.89 121.24 L539.24 119.51 L539.59 120.45 L541.57 122.83 L543.94 126.04M537.35 144.93 L537.53 143.12 L538.13 143.28 L538.05 145.59 L537.35 144.93M509.87 155.9 L511.27 157.72 L510.74 158.95 L510.01 158.95 L509.8 157.3 L509.87 155.9M448.46 122.83 L450.04 122.35 L452.74 121.87 L452.24 121.64 L452.98 120.69 L452.12 120.45 L451.81 119.51 L451.02 118.89 L450.73 118.11 L450.74 116.88 L449.56 116.8 L450.16 116.11 L448.99 116.11 L448.36 116.95 L448.62 118.11 L449.01 119.04 L450.09 119.67 L450.08 120.22 L449.16 120.29 L449.26 121 L448.69 121.4 L449.93 121.72 L449.11 122.03 L448.46 122.83M448.2 121.08 L448.24 120.06 L448.58 119.28 L447.99 118.73 L446.95 118.89 L445.82 119.51 L445.84 121.08 L446 121.64 L448.2 121.08M438.74 110.98 L439.95 110.34 L442.09 110.62 L443.75 110.41 L444.41 111.35 L443.58 111.85 L441.54 112.51 L439.34 112.22 L439.72 111.64 L438.74 110.98M456.94 101.71 L459.16 101.43 L461.39 101.32 L464.13 101.43 L461.66 102.3 L460.05 103.46 L458.52 102.9 L456.94 101.71M478.79 107.12 L480.44 107.33 L481.73 107.33 L479.76 105.58 L481.31 104.48 L484.51 103.27 L483.86 103.96 L481.24 105.12 L480.31 106.11 L478.62 105.78 L478.79 107.12M412.03 105.32 L413.56 105.92 L415.35 106.99 L416.23 108.5 L418.4 109.91 L416.84 111.35 L413.57 112.81 L414.61 113.55 L411.88 112.29 L410.55 111.71 L408.65 111.64 L411.96 110.26 L412.88 109.2 L410.9 107.81 L407.76 107.81 L405.85 107.26 L406.87 105.78 L409.53 105.32 L412.03 105.32M390.56 108.01 L392.04 108.36 L395.74 108.64 L398.56 108.15 L397.7 107.12 L399.31 105.78 L397.55 105.78 L394.3 105.98 L390.96 106.92 L390.56 108.01M387.92 106.45 L388.48 107.06 L390.08 106.79 L392.13 106.11 L393.68 105.65 L392.99 104.99 L390.6 104.93 L387.92 106.45M408.85 103.52 L414 103.65 L415.37 102.72 L417.18 102.3 L420.3 101.43 L425.06 100.12 L421.89 99.83 L416.68 99.88 L411.82 100.62 L412.94 101.15 L412.28 102.12 L409.77 102.9 L408.85 103.52M406.68 104.67 L412.58 104.67 L413.05 104.15 L410.45 103.84 L407.76 103.65 L406.68 104.67M404.01 111.13 L405.63 110.77 L406.98 112.07 L405.39 112.37 L403.8 112.66 L403.35 112.07 L404.01 111.13M413.89 124.75 L415.85 125.32 L417.74 125.48 L418.12 124.75 L417.66 123.87 L416.72 123.39 L417.1 121.8 L415.91 122.35 L414.62 124.03 L413.89 124.75M391.41 145.76 L393.3 144.93 L395.08 144.93 L397.07 146.09 L398.94 147.24 L396.55 147.49 L396.27 146.83 L393.59 145.43 L392.1 145.92 L391.41 145.76M398.56 148.73 L400.12 147.49 L401.9 147.57 L402.95 148.56 L401.77 148.89 L400.65 149.3 L398.56 148.73M394.81 104.35 L396.69 104.8 L400.02 104.48 L400.8 103.84 L399.28 103.52 L395.75 103.65 L394.81 104.35M399.9 106.45 L401.63 106.79 L403.34 105.78 L403.25 105.12 L401.37 105.26 L399.9 106.45M408.49 101.83 L411.15 102.3 L412.74 101.71 L411.93 100.88 L409.36 101.15 L408.49 101.83M368.52 225.5 L375.22 225.39 L377.26 224.78 L380.13 224.28 L383.38 223.32 L387.63 222.87 L394.81 222.68 L401.35 223.2 L401.58 222.02 L407.62 222.02 L411.81 222.22 L413.92 221.69 L416.39 219.99 L415.62 218.25 L417.01 216.24 L419.59 215.21 L418.5 216.45 L418.4 217.89 L419.78 219.99 L421.84 223 L428.57 225.2 L435.17 225.33 L438.42 223.96 L441.93 222.35 L445.3 221.35 L447.79 220.54 L451.93 219.99 L457.14 220.13 L462.38 219.99 L467.8 219.3 L470.33 219.65 L473.21 218.95 L478.97 217.89 L482 217.18 L484.2 218.25 L488.38 218.46 L488.95 219.3 L490.18 219.86 L493.51 218.81 L494.96 218.25 L499.63 217.75 L503.59 217.54 L506.61 217.18 L511.94 217.32 L514.47 217.54 L516.98 217.75 L522.86 217.32 L525.74 217.18 L527.82 217.75 L530.18 218.03 L531.71 218.95 L533.71 219.44 L535.06 220.34 L537.35 220.54 L539.19 221.01 L536.87 222.68 L531.52 223.96 L528.09 225.2 L530.97 225.39 L535.34 225.5"/>
<path fill="none" stroke="#b0b0b0" stroke-width="1.3" d="M347.37 213.5H556.49M326.24 188.5H577.62M321 164.5H582.86M326.24 139.5H577.62M347.37 115.5H556.49M405.48 230.4 L403.5 229.56 L401.18 228.38 L398.6 226.92 L395.86 225.2 L393.17 223.32 L390.72 221.35 L388.47 219.3 L386.32 217.18 L384.24 214.99 L382.22 212.75 L380.29 210.46 L378.44 208.13 L376.72 205.77 L375.15 203.37 L373.7 200.95 L372.34 198.51 L371.09 196.05 L369.98 193.58 L369 191.11 L368.13 188.64 L367.41 186.16 L366.82 183.69 L366.34 181.22 L365.91 178.74 L365.52 176.27 L365.21 173.8 L364.98 171.32 L364.81 168.85 L364.7 166.37 L364.64 163.9 L364.7 161.43 L364.81 158.95 L364.98 156.48 L365.21 154 L365.52 151.53 L365.91 149.06 L366.34 146.58 L366.82 144.11 L367.41 141.64 L368.13 139.16 L369 136.69 L369.98 134.22 L371.09 131.75 L372.34 129.29 L373.7 126.85 L375.15 124.43 L376.72 122.03 L378.44 119.67 L380.29 117.34 L382.22 115.05 L384.24 112.81 L386.32 110.62 L388.47 108.5 L390.72 106.45 L393.17 104.48 L395.86 102.6 L398.6 100.88 L401.18 99.42 L403.5 98.24 L405.48 97.4M428.7 230.4 L427.71 229.56 L426.55 228.38 L425.26 226.92 L423.9 225.2 L422.55 223.32 L421.33 221.35 L420.2 219.3 L419.12 217.18 L418.08 214.99 L417.08 212.75 L416.11 210.46 L415.19 208.13 L414.32 205.77 L413.54 203.37 L412.82 200.95 L412.13 198.51 L411.51 196.05 L410.96 193.58 L410.47 191.11 L410.03 188.64 L409.67 186.16 L409.37 183.69 L409.14 181.22 L408.92 178.74 L408.72 176.27 L408.57 173.8 L408.45 171.32 L408.37 168.85 L408.31 166.37 L408.29 163.9 L408.31 161.43 L408.37 158.95 L408.45 156.48 L408.57 154 L408.72 151.53 L408.92 149.06 L409.14 146.58 L409.37 144.11 L409.67 141.64 L410.03 139.16 L410.47 136.69 L410.96 134.22 L411.51 131.75 L412.13 129.29 L412.82 126.85 L413.54 124.43 L414.32 122.03 L415.19 119.67 L416.11 117.34 L417.08 115.05 L418.08 112.81 L419.12 110.62 L420.2 108.5 L421.33 106.45 L422.55 104.48 L423.9 102.6 L425.26 100.88 L426.55 99.42 L427.71 98.24 L428.7 97.4M452.5 230.4 L452.5 229.56 L452.5 228.38 L452.5 226.92 L452.5 225.2 L452.5 223.32 L452.5 221.35 L452.5 219.3 L452.5 217.18 L452.5 214.99 L452.5 212.75 L452.5 210.46 L452.5 208.13 L452.5 205.77 L452.5 203.37 L452.5 200.95 L452.5 198.51 L452.5 196.05 L452.5 193.58 L452.5 191.11 L452.5 188.64 L452.5 186.16 L452.5 183.69 L452.5 181.22 L452.5 178.74 L452.5 176.27 L452.5 173.8 L452.5 171.32 L452.5 168.85 L452.5 166.37 L452.5 163.9 L452.5 161.43 L452.5 158.95 L452.5 156.48 L452.5 154 L452.5 151.53 L452.5 149.06 L452.5 146.58 L452.5 144.11 L452.5 141.64 L452.5 139.16 L452.5 136.69 L452.5 134.22 L452.5 131.75 L452.5 129.29 L452.5 126.85 L452.5 124.43 L452.5 122.03 L452.5 119.67 L452.5 117.34 L452.5 115.05 L452.5 112.81 L452.5 110.62 L452.5 108.5 L452.5 106.45 L452.5 104.48 L452.5 102.6 L452.5 100.88 L452.5 99.42 L452.5 98.24 L452.5 97.4M475.16 230.4 L476.15 229.56 L477.31 228.38 L478.6 226.92 L479.96 225.2 L481.31 223.32 L482.53 221.35 L483.66 219.3 L484.74 217.18 L485.78 214.99 L486.78 212.75 L487.75 210.46 L488.67 208.13 L489.54 205.77 L490.32 203.37 L491.04 200.95 L491.73 198.51 L492.35 196.05 L492.9 193.58 L493.39 191.11 L493.83 188.64 L494.19 186.16 L494.49 183.69 L494.72 181.22 L494.94 178.74 L495.14 176.27 L495.29 173.8 L495.41 171.32 L495.49 168.85 L495.55 166.37 L495.57 163.9 L495.55 161.43 L495.49 158.95 L495.41 156.48 L495.29 154 L495.14 151.53 L494.94 149.06 L494.72 146.58 L494.49 144.11 L494.19 141.64 L493.83 139.16 L493.39 136.69 L492.9 134.22 L492.35 131.75 L491.73 129.29 L491.04 126.85 L490.32 124.43 L489.54 122.03 L488.67 119.67 L487.75 117.34 L486.78 115.05 L485.78 112.81 L484.74 110.62 L483.66 108.5 L482.53 106.45 L481.31 104.48 L479.96 102.6 L478.6 100.88 L477.31 99.42 L476.15 98.24 L475.16 97.4M498.38 230.4 L500.36 229.56 L502.68 228.38 L505.26 226.92 L508 225.2 L510.69 223.32 L513.14 221.35 L515.39 219.3 L517.54 217.18 L519.62 214.99 L521.64 212.75 L523.57 210.46 L525.42 208.13 L527.14 205.77 L528.71 203.37 L530.16 200.95 L531.52 198.51 L532.77 196.05 L533.88 193.58 L534.86 191.11 L535.73 188.64 L536.45 186.16 L537.04 183.69 L537.52 181.22 L537.95 178.74 L538.34 176.27 L538.65 173.8 L538.88 171.32 L539.05 168.85 L539.16 166.37 L539.22 163.9 L539.16 161.43 L539.05 158.95 L538.88 156.48 L538.65 154 L538.34 151.53 L537.95 149.06 L537.52 146.58 L537.04 144.11 L536.45 141.64 L535.73 139.16 L534.86 136.69 L533.88 134.22 L532.77 131.75 L531.52 129.29 L530.16 126.85 L528.71 124.43 L527.14 122.03 L525.42 119.67 L523.57 117.34 L521.64 115.05 L519.62 112.81 L517.54 110.62 L515.39 108.5 L513.14 106.45 L510.69 104.48 L508 102.6 L505.26 100.88 L502.68 99.42 L500.36 98.24 L498.38 97.4"/>
</g>
<path fill="none" stroke="#000" stroke-width="1.15" stroke-linejoin="miter" d="M521.61 230.4 L523.52 229.88 L525.69 229.2 L528.06 228.38 L530.6 227.44 L533.28 226.37 L536.03 225.2 L538.76 223.96 L541.34 222.68 L543.74 221.35 L546.02 219.99 L548.21 218.6 L550.35 217.18 L552.44 215.73 L554.49 214.25 L556.49 212.75 L558.44 211.23 L560.33 209.69 L562.16 208.13 L563.91 206.56 L565.56 204.97 L567.11 203.37 L568.56 201.76 L569.97 200.14 L571.32 198.51 L572.6 196.87 L573.77 195.23 L574.85 193.58 L575.85 191.94 L576.78 190.29 L577.62 188.64 L578.37 186.99 L579.03 185.34 L579.6 183.69 L580.08 182.04 L580.53 180.39 L580.96 178.74 L581.37 177.09 L581.72 175.44 L582.01 173.8 L582.26 172.15 L582.46 170.5 L582.61 168.85 L582.73 167.2 L582.81 165.55 L582.86 163.9 L582.81 162.25 L582.73 160.6 L582.61 158.95 L582.46 157.3 L582.26 155.65 L582.01 154 L581.72 152.36 L581.37 150.71 L580.96 149.06 L580.53 147.41 L580.08 145.76 L579.6 144.11 L579.03 142.46 L578.37 140.81 L577.62 139.16 L576.78 137.51 L575.85 135.86 L574.85 134.22 L573.77 132.57 L572.6 130.93 L571.32 129.29 L569.97 127.66 L568.56 126.04 L567.11 124.43 L565.56 122.83 L563.91 121.24 L562.16 119.67 L560.33 118.11 L558.44 116.57 L556.49 115.05 L554.49 113.55 L552.44 112.07 L550.35 110.62 L548.21 109.2 L546.02 107.81 L543.74 106.45 L541.34 105.12 L538.76 103.84 L536.03 102.6 L533.28 101.43 L530.6 100.36 L528.06 99.42 L525.69 98.6 L523.52 97.92 L521.61 97.4 L382.25 97.4 L380.34 97.92 L378.17 98.6 L375.8 99.42 L373.26 100.36 L370.58 101.43 L367.83 102.6 L365.1 103.84 L362.52 105.12 L360.12 106.45 L357.84 107.81 L355.65 109.2 L353.51 110.62 L351.42 112.07 L349.37 113.55 L347.37 115.05 L345.42 116.57 L343.53 118.11 L341.7 119.67 L339.95 121.24 L338.3 122.83 L336.75 124.43 L335.3 126.04 L333.89 127.66 L332.54 129.29 L331.26 130.93 L330.09 132.57 L329.01 134.22 L328.01 135.86 L327.08 137.51 L326.24 139.16 L325.49 140.81 L324.83 142.46 L324.26 144.11 L323.78 145.76 L323.33 147.41 L322.9 149.06 L322.49 150.71 L322.14 152.36 L321.85 154 L321.6 155.65 L321.4 157.3 L321.25 158.95 L321.13 160.6 L321.05 162.25 L321 163.9 L321.05 165.55 L321.13 167.2 L321.25 168.85 L321.4 170.5 L321.6 172.15 L321.85 173.8 L322.14 175.44 L322.49 177.09 L322.9 178.74 L323.33 180.39 L323.78 182.04 L324.26 183.69 L324.83 185.34 L325.49 186.99 L326.24 188.64 L327.08 190.29 L328.01 191.94 L329.01 193.58 L330.09 195.23 L331.26 196.87 L332.54 198.51 L333.89 200.14 L335.3 201.76 L336.75 203.37 L338.3 204.97 L339.95 206.56 L341.7 208.13 L343.53 209.69 L345.42 211.23 L347.37 212.75 L349.37 214.25 L351.42 215.73 L353.51 217.18 L355.65 218.6 L357.84 219.99 L360.12 221.35 L362.52 222.68 L365.1 223.96 L367.83 225.2 L370.58 226.37 L373.26 227.44 L375.8 228.38 L378.17 229.2 L380.34 229.88 L382.25 230.4Z"/>
<g clip-path="url(#cMAM)">
<g fill="none" stroke-width="1" shape-rendering="crispEdges">
<path stroke="#fdc57f" d="M136 380.5h9M134 381.5h12M135 382.5h10M138 383.5h5M267 450.5h5M267 451.5h6"/>
<path stroke="#fde4c0" d="M136 379.5h18M135 380.5h1M145 380.5h13M133 381.5h1M146 381.5h11M134 382.5h1M145 382.5h12M136 383.5h2M143 383.5h13M139 384.5h12M199 385.5h15M198 386.5h18M197 387.5h20M197 388.5h20M198 389.5h18M204 390.5h8M66 440.5h8M62 441.5h15M63 442.5h16M63 443.5h14M66 444.5h9M264 450.5h3M272 450.5h4M263 451.5h4M273 451.5h4M198 452.5h10M265 452.5h9M195 453.5h14M195 454.5h15M198 455.5h11"/>
<path stroke="#f6f6f7" d="M175 356.5h74M175 357.5h75M105 358.5h1M174 358.5h79M102 359.5h6M174 359.5h82M99 360.5h34M174 360.5h85M97 361.5h37M174 361.5h87M94 362.5h41M174 362.5h90M92 363.5h45M174 363.5h92M90 364.5h47M173 364.5h95M88 365.5h49M173 365.5h97M87 366.5h50M173 366.5h99M85 367.5h53M172 367.5h25M236 367.5h38M83 368.5h56M170 368.5h25M249 368.5h26M82 369.5h57M161 369.5h34M256 369.5h21M80 370.5h68M152 370.5h42M258 370.5h20M79 371.5h115M260 371.5h20M77 372.5h118M263 372.5h18M76 373.5h122M265 373.5h18M75 374.5h128M266 374.5h18M73 375.5h138M266 375.5h19M72 376.5h141M266 376.5h21M71 377.5h142M265 377.5h23M70 378.5h145M264 378.5h25M68 379.5h68M154 379.5h62M261 379.5h29M67 380.5h68M158 380.5h60M257 380.5h35M67 381.5h66M157 381.5h62M256 381.5h37M69 382.5h65M157 382.5h69M255 382.5h39M69 383.5h67M156 383.5h76M255 383.5h40M92 384.5h47M151 384.5h86M255 384.5h41M96 385.5h103M214 385.5h27M255 385.5h36M98 386.5h100M216 386.5h28M254 386.5h35M100 387.5h97M217 387.5h30M252 387.5h30M102 388.5h95M217 388.5h63M106 389.5h18M136 389.5h62M216 389.5h56M179 390.5h25M212 390.5h58M190 391.5h76M196 392.5h9M212 392.5h36M216 393.5h30M216 394.5h31M219 395.5h24M226 396.5h8M158 422.5h3M136 423.5h30M131 424.5h39M108 425.5h73M105 426.5h78M105 427.5h78M48 428.5h20M82 428.5h11M104 428.5h80M48 429.5h48M104 429.5h81M48 430.5h49M102 430.5h82M48 431.5h50M103 431.5h81M48 432.5h51M101 432.5h38M143 432.5h38M298 432.5h12M48 433.5h87M156 433.5h19M292 433.5h18M49 434.5h82M287 434.5h23M49 435.5h78M284 435.5h26M49 436.5h77M281 436.5h29M49 437.5h76M177 437.5h7M281 437.5h29M50 438.5h75M176 438.5h11M281 438.5h29M50 439.5h75M175 439.5h13M274 439.5h36M50 440.5h16M74 440.5h52M173 440.5h15M271 440.5h38M50 441.5h12M77 441.5h51M172 441.5h16M268 441.5h41M51 442.5h12M79 442.5h54M163 442.5h26M244 442.5h65M51 443.5h12M77 443.5h112M224 443.5h84M51 444.5h15M75 444.5h116M213 444.5h95M52 445.5h157M210 445.5h98M52 446.5h255M52 447.5h255M53 448.5h253M53 449.5h253M54 450.5h210M276 450.5h29M54 451.5h22M91 451.5h172M277 451.5h28M55 452.5h14M96 452.5h102M208 452.5h57M274 452.5h30M56 453.5h10M104 453.5h91M209 453.5h95M56 454.5h7M111 454.5h84M210 454.5h93M57 455.5h2M116 455.5h82M209 455.5h93M58 456.5h1M123 456.5h179M131 457.5h170M133 458.5h167M134 459.5h165M134 460.5h155M291 460.5h7M102 461.5h16M133 461.5h153M292 461.5h5M88 462.5h39M131 462.5h89M233 462.5h46M68 463.5h11M80 463.5h138M249 463.5h22M68 464.5h150M67 465.5h150M66 466.5h150M68 467.5h145M69 468.5h142M70 469.5h133M71 470.5h127M72 471.5h116M74 472.5h5M88 472.5h90M75 473.5h3M105 473.5h63M76 474.5h1M133 474.5h26M149 483.5h18M149 484.5h22M147 485.5h25M147 486.5h25M146 487.5h27M146 488.5h28M146 489.5h29M145 490.5h30M145 491.5h30"/>
<path stroke="#dddfed" d="M109 356.5h66M108 357.5h67M106 358.5h68M108 359.5h66M133 360.5h41M134 361.5h40M135 362.5h39M137 363.5h37M137 364.5h36M137 365.5h36M137 366.5h36M138 367.5h34M197 367.5h39M139 368.5h31M195 368.5h54M139 369.5h22M195 369.5h61M148 370.5h4M194 370.5h64M194 371.5h66M195 372.5h68M198 373.5h67M203 374.5h63M211 375.5h55M213 376.5h53M213 377.5h52M215 378.5h49M216 379.5h45M218 380.5h39M66 381.5h1M219 381.5h37M65 382.5h4M226 382.5h29M64 383.5h5M232 383.5h23M63 384.5h29M237 384.5h18M62 385.5h34M241 385.5h14M291 385.5h6M62 386.5h36M244 386.5h10M289 386.5h9M61 387.5h39M247 387.5h5M282 387.5h16M60 388.5h42M280 388.5h19M59 389.5h47M124 389.5h12M272 389.5h28M58 390.5h121M270 390.5h31M57 391.5h133M266 391.5h36M57 392.5h71M132 392.5h64M205 392.5h7M248 392.5h54M56 393.5h65M136 393.5h80M246 393.5h57M55 394.5h66M136 394.5h80M247 394.5h57M55 395.5h54M167 395.5h52M243 395.5h46M293 395.5h11M54 396.5h47M184 396.5h22M211 396.5h15M234 396.5h44M54 397.5h41M215 397.5h55M53 398.5h39M219 398.5h44M53 399.5h38M52 400.5h38M52 401.5h33M51 402.5h30M51 403.5h29M51 404.5h21M51 405.5h5M50 406.5h4M50 407.5h3M259 410.5h11M260 411.5h13M158 412.5h23M258 412.5h23M147 413.5h38M259 413.5h32M122 414.5h69M257 414.5h53M105 415.5h95M257 415.5h53M48 416.5h4M97 416.5h106M255 416.5h55M48 417.5h11M82 417.5h128M252 417.5h58M48 418.5h163M249 418.5h61M48 419.5h163M248 419.5h62M48 420.5h165M247 420.5h63M48 421.5h166M244 421.5h66M48 422.5h110M161 422.5h53M239 422.5h71M48 423.5h88M166 423.5h49M237 423.5h73M48 424.5h83M170 424.5h47M235 424.5h75M48 425.5h60M181 425.5h39M233 425.5h77M48 426.5h57M183 426.5h127M48 427.5h57M183 427.5h127M68 428.5h14M93 428.5h11M184 428.5h126M96 429.5h8M185 429.5h125M97 430.5h5M184 430.5h126M98 431.5h5M184 431.5h126M99 432.5h2M139 432.5h4M181 432.5h117M135 433.5h21M175 433.5h117M131 434.5h156M127 435.5h157M126 436.5h155M125 437.5h52M184 437.5h97M125 438.5h51M187 438.5h94M125 439.5h50M188 439.5h86M126 440.5h47M188 440.5h83M128 441.5h44M188 441.5h80M133 442.5h30M189 442.5h55M189 443.5h35M191 444.5h22M209 445.5h1M76 451.5h15M69 452.5h27M66 453.5h38M63 454.5h48M59 455.5h57M59 456.5h64M58 457.5h73M59 458.5h74M60 459.5h74M61 460.5h73M289 460.5h2M62 461.5h40M118 461.5h15M286 461.5h6M63 462.5h25M127 462.5h4M220 462.5h13M279 462.5h17M63 463.5h5M79 463.5h1M218 463.5h31M271 463.5h25M64 464.5h4M218 464.5h77M65 465.5h2M217 465.5h77M216 466.5h76M213 467.5h78M211 468.5h79M203 469.5h86M198 470.5h90M188 471.5h98M79 472.5h9M178 472.5h107M78 473.5h27M168 473.5h116M77 474.5h56M159 474.5h123M78 475.5h203M79 476.5h201M80 477.5h198M82 478.5h195M84 479.5h191M85 480.5h188M87 481.5h185M89 482.5h181M91 483.5h58M167 483.5h101M93 484.5h56M171 484.5h95M95 485.5h52M172 485.5h91M97 486.5h50M172 486.5h89M100 487.5h46M173 487.5h85M103 488.5h43M174 488.5h81M105 489.5h41M175 489.5h77M109 490.5h36M175 490.5h74M109 491.5h36M175 491.5h74"/>
<path stroke="#bfbbda" d="M128 392.5h4M121 393.5h15M121 394.5h15M109 395.5h58M289 395.5h4M101 396.5h83M206 396.5h5M278 396.5h27M95 397.5h32M132 397.5h83M270 397.5h36M92 398.5h23M134 398.5h85M263 398.5h43M91 399.5h15M137 399.5h72M210 399.5h97M90 400.5h10M139 400.5h41M213 400.5h94M85 401.5h13M142 401.5h30M217 401.5h51M272 401.5h35M81 402.5h15M144 402.5h21M221 402.5h45M275 402.5h33M80 403.5h14M145 403.5h15M224 403.5h44M273 403.5h35M72 404.5h17M144 404.5h13M225 404.5h84M56 405.5h31M144 405.5h11M227 405.5h82M54 406.5h30M141 406.5h15M228 406.5h81M53 407.5h26M137 407.5h23M163 407.5h12M230 407.5h79M50 408.5h27M133 408.5h54M234 408.5h76M49 409.5h23M122 409.5h71M228 409.5h82M49 410.5h20M96 410.5h106M219 410.5h40M270 410.5h40M49 411.5h18M87 411.5h119M218 411.5h42M273 411.5h37M49 412.5h16M81 412.5h77M181 412.5h29M212 412.5h46M281 412.5h29M49 413.5h17M76 413.5h71M185 413.5h74M291 413.5h19M48 414.5h74M191 414.5h66M48 415.5h57M200 415.5h57M52 416.5h45M203 416.5h52M59 417.5h23M210 417.5h42M211 418.5h38M211 419.5h37M213 420.5h34M214 421.5h30M214 422.5h25M215 423.5h22M217 424.5h18M220 425.5h13"/>
<path stroke="#988dbe" d="M127 397.5h5M115 398.5h19M106 399.5h31M209 399.5h1M100 400.5h39M180 400.5h33M98 401.5h44M172 401.5h45M268 401.5h4M96 402.5h48M165 402.5h56M266 402.5h9M94 403.5h51M160 403.5h64M268 403.5h5M89 404.5h55M157 404.5h68M87 405.5h57M155 405.5h72M84 406.5h57M156 406.5h72M79 407.5h58M160 407.5h3M175 407.5h55M77 408.5h56M187 408.5h47M72 409.5h50M193 409.5h35M69 410.5h27M202 410.5h17M67 411.5h20M206 411.5h12M65 412.5h16M210 412.5h2M66 413.5h10"/>
</g>
<path fill="none" stroke="#000" stroke-width="0.65" stroke-linejoin="round" d="M85.58 370.98 L89.64 368.85 L93.55 367.6 L97.4 366.92 L99.99 367.46 L103.97 368.01 L106.78 368.29 L111.18 367.67 L112.73 368.15 L116.76 368.85 L120.16 369.2 L124.44 369.2 L127.16 368.5 L129.98 366.45 L130.33 368.5 L131.12 368.85 L133.24 368.15 L134.92 368.01 L133.85 369.91 L131.16 370.26 L128.79 372.07 L124.94 373.55 L122.52 375.81 L122.7 377.34 L125.16 377.72 L127.82 378.89 L127.11 380.85 L128.28 381.64 L129.75 379.28 L131.56 378.11 L131.98 376.19 L133.12 374.67 L133.71 373.18 L136.18 373.33 L137.65 374.3 L137.1 375.96 L139.16 375.96 L140.57 374.82 L141.08 376.95 L141.58 378.65 L142.88 380.06 L143.22 381.24 L140.76 382.59 L136.32 382.67 L133.92 384.03 L136.61 383.63 L136.53 384.83 L138.4 386.04 L136.46 387.1 L134.6 387.83 L134.25 386.85 L131.89 388.07 L131.45 389.46 L128.48 390.44 L126.83 392.57 L125.82 395.04 L123.85 396.03 L121.65 397.92 L121.44 401.64 L120.98 403.12 L120.1 402.05 L119.93 399.99 L118.92 399.16 L116.54 398.91 L114.93 399.82 L112.19 399.57 L109.49 401.22 L108.64 404.11 L108.53 406.58 L109.56 408.4 L112.05 408.56 L113.36 406.75 L115.93 406.17 L115.26 408.64 L114.29 410.71 L116.07 410.87 L117.82 411.37 L117.53 414.83 L118.51 416.48 L120.34 416.07 L121.75 416.89 L123.3 415.08 L125.9 414 L126.2 414.99 L128.76 414.42 L131.61 415.24 L133.42 415.24 L134.44 416.89 L136.55 418.95 L140.16 419.94 L141.57 423.08 L142.66 424.72 L145.58 425.96 L148.85 426.21 L151.05 427.86 L152.53 429.26 L152.57 431.32 L150.83 433.8 L149.85 436.27 L149.64 439.16 L148.74 442.04 L146.32 443.03 L144 444.93 L143.77 447.4 L142.43 449.46 L141.1 451.94 L139.16 452.6 L137.79 451.94 L139.09 454 L138.76 455.64 L136.16 456.05 L136.38 457.69 L134.58 457.69 L135.87 459.16 L135.23 460.95 L134.25 461.92 L135.77 463.21 L134.59 465.21 L135.41 466.8 L138.2 468.76 L136.43 469.15 L134.14 468.13 L131.58 466.56 L129.78 463.77 L129.84 461.35 L129.51 458.51 L128.16 455.64 L128.18 453.17 L128.17 449.46 L127.92 446.16 L127.88 442.04 L127.56 438.99 L125.85 437.67 L123.12 435.28 L121.45 432.15 L120.03 429.67 L118.95 428.02 L119.78 426.54 L119.17 424.72 L119.75 423.24 L120.63 422.66 L121.83 420.6 L121.49 417.88 L119.89 417.88 L118.83 417.3 L117.41 416.64 L115.91 415.24 L114.76 413.18 L111.95 412.36 L110.36 410.54 L108.16 410.87 L105.45 409.63 L102.56 407.41 L102.89 405.35 L101.54 403.04 L100.26 400.98 L99.29 398.75 L98.25 397.68 L98.78 399.99 L99.55 402.46 L100.14 404.77 L98.75 402.87 L97.5 400.81 L97.06 398.75 L96.82 397.02 L95.14 395.45 L94.91 393.56 L94.73 391.34 L95.71 388.89 L97.68 385.88 L98.35 384.11 L99.48 384.03 L100.01 383.23 L98.33 382.03 L98.64 379.28 L98.58 376.95 L97.45 375.96 L96.45 375.2 L93.94 374.82 L91.67 375.05 L89.34 375.58 L90.19 374.3 L87.38 376.04 L83.35 377.57 L79.23 378.89 L77.77 379.12 L81.27 378.11 L85.15 376.19 L83.94 375.96 L83.83 375.05 L82.81 374.45 L83.54 373.4 L85.32 372.66 L87.75 372.29 L88.68 371.56 L85.91 371.56 L85.58 370.98M143.93 362.47 L146.94 361.71 L150.61 360.62 L156.19 360.21 L163.01 359.64 L168.35 360.26 L170.25 361.43 L168.67 363.21 L168.56 364.8 L166.53 366.11 L166.46 367.67 L164.1 368.85 L160.81 369.2 L157.66 370.77 L155.43 371.71 L153 374.9 L151.57 374.82 L150.08 374.15 L149.31 372.44 L148.84 370.26 L150.43 368.5 L149.61 367.46 L149.99 365.78 L149.5 364.15 L146.09 363.84 L144.21 363.21 L143.93 362.47M180.79 373.92 L180.78 373.55 L183.76 371.71 L185.46 369.55 L188.12 367.81 L191.1 367.12 L194.08 367.6 L199.91 369.34 L200.03 370.48 L196.38 370.12 L197.41 371.85 L200.1 371.56 L201.99 370.62 L201.65 368.99 L206.12 368.85 L209.74 368.15 L213.36 368.5 L211.89 366.11 L214.69 365.78 L215.93 366.45 L217.94 365.45 L220.53 364.48 L225.06 363.71 L227 362.78 L234.06 365.12 L239.86 365.78 L245.07 367.12 L248.88 366.11 L254.92 366.79 L261.86 368.01 L267 367.94 L271.74 368.29 L273.34 368.64M83.8 369.55 L84.98 370.62 L82.11 371.71 L79.81 370.98M277.36 371.71 L278.56 373.18 L276.79 374.67 L273.96 375.2 L274.82 376.95 L276.21 378.5 L276.7 380.45 L276.34 382.03 L273.46 379.67 L271.07 377.34 L270.43 374.67 L270.8 373.55 L267.82 373.92 L267.35 375.81 L261.55 375.58 L261.49 379.28 L265.62 380.85 L267.54 384.03 L267.11 387.66 L264.66 388.48 L264.52 390.52 L263.62 391.34 L266.36 394.22 L264.85 395.45 L263.41 392.98 L261.94 391.34 L259.78 391.75 L259.5 390.52 L257.43 391.75 L258.73 393.15 L261.22 393.39 L259.87 395.04 L262.35 397.92 L263.26 399.57 L262.41 402.87 L260.4 405.1 L257.74 406.17 L255.96 406.17 L254.89 406.17 L253.79 408.23 L256.22 411.12 L256.92 414 L255.1 416.48 L254.02 416.48 L253.7 415.24 L252.01 414 L250.46 412.93 L249.97 415.65 L251.09 418.54 L253.14 420.6 L253.56 422.75 L251.72 421.59 L250.75 418.95 L249.21 417.3 L249.12 414 L247.99 410.29 L246.62 410.87 L245.4 408.64 L243.49 406.17 L242.36 405.76 L240.6 405.92 L239.89 407 L238.13 408.89 L235.64 411.12 L235.75 414 L235.48 415.41 L234.13 417.3 L233.1 415.65 L231.83 412.77 L230.3 409.47 L229.78 406.58 L228.23 406.75 L227.03 405.51 L225.61 403.7 L221.79 403.12 L218.58 402.87 L217.73 401.64 L214.48 400.98 L213.19 399.16 L211.8 399.16 L212.21 400.81 L213.67 403.28 L214.8 403.94 L216.23 404.11 L217.61 402.46 L218.19 403.86 L220.47 405.35 L219.4 407.82 L217.42 409.88 L215.33 410.87 L212.9 412.36 L210.42 413.35 L209.2 413.43 L208.61 410.29 L206.89 407.82 L205.7 405.76 L204.09 402.87 L202.52 400.81 L202.27 399.57 L201.46 400.81 L200.62 399.16 L201.71 401.22 L203.11 404.11 L204.32 406.58 L204.63 408.4 L206.21 411.12 L207.88 413.02 L209.16 414.17 L209.39 414.58 L210.5 415.24 L212.65 414.66 L214.94 414.17 L214.84 415.32 L213.5 418.54 L212.8 420.19 L211.38 422.25 L209.21 424.31 L208.11 425.55 L206.4 428.44 L206.57 430.5 L207.24 432.72 L207.17 436.27 L205.2 438.17 L202.87 441.63 L203.11 443.69 L201.26 444.93 L200.94 447.4 L199.58 448.64 L197.64 450.95 L195.62 451.94 L193.06 452.1 L191.66 452.6 L190.53 451.94 L190.41 450.29 L189.49 447.65 L188.52 445.34 L188.24 442.45 L186.53 438.74 L186.42 437.09 L187.68 434.21 L187.71 431.73 L186.79 428.85 L186.29 427.2 L184.48 424.72 L184.84 423.08 L184.98 421.01 L184.11 420.19 L183.02 420.35 L181.56 418.95 L179.74 418.71 L176.84 419.78 L175.75 419.78 L174.52 419.61 L172.48 420.27 L171.39 419.78 L169.95 418.38 L168.51 416.89 L168.15 415.82 L167.08 414.83 L165.87 413.59 L165.89 412.36 L165.32 411.78 L166.07 410.29 L166.26 408.23 L165.81 406.58 L166.58 404.11 L167.7 402.21 L168.79 400.98 L170.94 399.57 L171.18 398.34 L171.7 397.1 L173.11 396.03 L173.82 394.63 L174.31 394.22 L176.56 394.87 L178.61 393.8 L179.97 393.47 L183.37 393.39 L184.72 393.23 L185.42 393.56 L184.94 395.62 L185.66 396.52 L188.46 397.26 L191.18 398.91 L191.83 397.92 L191.76 396.85 L193.49 396.85 L195.29 397.76 L198.11 398.34 L199.47 397.92 L200.53 398.17 L201.92 398.09 L202.48 395.04 L202.43 393.56 L200.1 394.05 L198.39 393.97 L196.64 393.56 L195.83 392.16 L195.69 390.93 L193.95 390.27 L193.19 390.68 L193.84 392.57 L193.46 393.72 L192.52 392.98 L190.97 390.52 L190.8 389.29 L188.45 388.07 L186.9 386.45 L185.93 386.61 L186.13 387.66 L186.87 388.07 L187.33 389.05 L188.55 389.46 L190.32 390.77 L189.3 390.6 L189.12 391.91 L188.56 392.57 L188.68 391.34 L188.32 390.93 L187.41 390.27 L186.24 389.7 L185.21 388.89 L184.63 387.83 L183.69 387.34 L182.85 387.83 L181.22 388.23 L180.04 388.32 L180.05 389.46 L178.46 390.11 L177.73 391.34 L177.59 392.32 L176.57 393.56 L174.31 394.13 L173.64 393.56 L171.95 393.39 L171.59 392 L172.08 389.7 L171.86 388.48 L172.67 387.91 L174.97 388.15 L176.75 388.15 L177.15 386.45 L176.32 384.99 L174.93 384.27 L176.97 383.87 L176.98 383.07 L178.06 383.23 L178.94 382.43 L180.12 381.72 L180.71 380.61 L182.11 380.06 L183.14 379.82 L182.89 378.5 L182.83 377.34 L184.16 376.8 L184.13 378.11 L184.53 379.51 L185.27 379.51 L186.63 379.75 L189.19 379.12 L190.02 379.35 L190.63 378.5 L190.47 377.34 L192.22 377.11 L191.77 376.19 L191.95 375.5 L194.26 375.35 L195.36 375.05 L194.39 374.6 L191.3 375.12 L190.35 374.6 L189.95 372.81 L191.74 371.35 L191.08 370.77 L190.02 370.98 L189.73 371.85 L187.9 373.55 L187.87 374.67 L188.9 375.43 L187.74 376.95 L187.55 377.95 L186.52 378.5 L185.67 378.5 L184.51 375.96 L184.07 375.58 L182.66 376.57 L181.16 375.96 L180.79 373.92M197.27 390.11 L198.91 389.95 L201.14 389.29 L203.27 390.11 L205.52 389.62 L203.5 387.66 L202.33 386.61 L200.75 386.85 L199.83 387.26 L199.31 386.04 L197.66 385.8 L196.75 387.66 L196.5 389.29 L197.27 390.11M208.57 386.85 L209.58 385.64 L211.14 385.4 L212.17 385.64 L212.09 386.61 L211.28 387.26 L210.86 387.42 L212.66 388.89 L213.27 390.11 L214.14 391.59 L214.51 393.39 L212.98 393.56 L211.17 392.98 L210.86 391.34 L211.03 390.52 L209.26 388.48 L208.57 386.85M213.55 433.96 L214.13 436.68 L213.44 438.33 L212.1 442.04 L211.19 444.51 L209.74 444.93 L208.81 443.28 L208.94 441.46 L209.61 439.98 L209.52 437.92 L210.29 437.09 L211.78 436.27 L212.92 435.03 L213.55 433.96M258.74 442.04 L258.57 445.34 L258.23 448.64 L257.16 451.77 L258.84 452.76 L261.3 451.77 L263.62 451.11 L265.26 450.45 L267.53 449.96 L269.3 449.88 L270.88 451.11 L270.92 452.6 L273.27 450.87 L272.36 453.17 L272.78 455.07 L274.74 455.8 L276.49 456.05 L278.2 455.07 L279.83 454.57 L282.29 451.52 L284.6 449.05 L285.77 446.58 L286.14 444.76 L285.07 443.53 L284.31 442.29 L282.63 439.57 L282.43 437.75 L282.59 436.1 L281.58 435.69 L281.42 433.8 L281.03 432.81 L280.32 434.45 L279.76 436.68 L278.73 438.33 L277.83 438.17 L276.8 437.09 L275.72 436.27 L276.16 434.21 L275.49 433.8 L273.97 433.22 L272.58 433.96 L271.75 434.87 L271.21 436.1 L270.1 436.27 L269.5 435.44 L268.4 435.61 L267.06 437.34 L265.74 437.92 L265.46 439.16 L264.42 440.14 L262 440.89 L260.23 441.63 L258.74 442.04M274.58 457.44 L276.87 457.53 L275.55 459.32 L274.22 459.81 L274.04 458.91 L274.58 457.44M296.59 452.35 L297.18 454 L298.78 454.98 L297 456.3 L294.46 458.1 L295.23 456.71 L294.85 456.3 L296.52 454.82 L296.59 452.35M293.47 457.28 L293.6 458.34 L291.58 459.73 L289.4 460.95 L287.74 462.16 L286.26 462 L286.01 461.51 L288.43 460.14 L291.04 458.91 L293.47 457.28M273.21 424.56 L275.39 424.56 L276.06 426.62 L278.28 425.38 L280.44 426.04 L283.28 427.61 L285.02 428.85 L285.14 430.08 L286.87 432.39 L284.73 432.15 L282.73 430.25 L280.81 431.49 L278.73 430.5 L277.98 430.74 L278.66 429.51 L276.37 427.61 L274.95 427.03 L273.89 426.21 L273.21 424.56M257.19 422.25 L258.99 421.67 L260.07 421.26 L261.81 419.36 L262.83 418.13 L264.36 419.53 L263.47 421.01 L263.75 423.08 L263.39 424.56 L262.45 427.03 L261.13 427.2 L259.19 426.62 L257.92 425.14 L257.21 423.49 L257.19 422.25M247.13 419.28 L248.74 419.61 L250.84 421.59 L253.21 423.9 L253.91 425.8 L254.98 426.62 L254.68 428.68 L253.81 428.68 L252.06 427.03 L250.88 424.72 L249.7 422.5 L248.06 420.85 L247.13 419.28M254.35 429.51 L256.67 429.42 L258.36 429.18 L259.93 429.59 L260.97 430.33 L260.78 430.99 L258.4 430.74 L256.26 430.33 L254.35 429.51M265.06 423.24 L265.93 422.83 L268.69 422.66 L267.39 423.57 L265.57 423.49 L266.15 424.72 L267.6 424.72 L266.49 425.55 L266.93 427.61 L266.2 427.78 L265.75 426.21 L265.29 428.44 L264.71 428.44 L264.64 426.79 L264.3 426.13 L265.06 423.24M264.24 408.64 L265.47 408.73 L265.66 410.71 L265.48 411.94 L267.45 413.18 L267.34 413.51 L266.28 412.52 L265.05 412.52 L264.28 411.12 L264.24 408.64M266.45 418.13 L267.44 416.73 L268.81 415.82 L269.69 417.72 L269.05 419.12 L267.91 418.13 L266.45 418.13M268.46 398.09 L269.51 397.92 L268.98 396.28 L270.34 395.45 L271.6 396.28 L272.02 395.37 L273.24 395.04 L274.2 394.46 L273.15 392.16 L273.27 391.18 L271.96 389.78 L271.54 390.52 L272.34 392.16 L271.42 393.39 L270.82 393.15 L270.88 394.38 L268.94 394.63 L268.01 395.62 L267.56 396.52 L268.46 398.09M271.02 389.46 L271.52 388.89 L272.98 389.29 L273.73 388.23 L272.56 387.66 L270.15 386.53 L271.1 388.23 L271.02 389.46M269.94 386.04 L270.45 385.4 L268.64 383.39 L269.78 383.63 L266.89 381.24 L265.24 379.51 L265.59 380.45 L267.57 382.83 L269.94 386.04M263.35 404.93 L263.53 403.12 L264.13 403.28 L264.05 405.59 L263.35 404.93M235.87 415.9 L237.27 417.72 L236.74 418.95 L236.01 418.95 L235.8 417.3 L235.87 415.9M174.46 382.83 L176.04 382.35 L178.74 381.87 L178.24 381.64 L178.98 380.69 L178.12 380.45 L177.81 379.51 L177.02 378.89 L176.73 378.11 L176.74 376.88 L175.56 376.8 L176.16 376.11 L174.99 376.11 L174.36 376.95 L174.62 378.11 L175.01 379.04 L176.09 379.67 L176.08 380.22 L175.16 380.29 L175.26 381 L174.69 381.4 L175.93 381.72 L175.11 382.03 L174.46 382.83M174.2 381.08 L174.24 380.06 L174.58 379.28 L173.99 378.73 L172.95 378.89 L171.82 379.51 L171.84 381.08 L172 381.64 L174.2 381.08M164.74 370.98 L165.95 370.34 L168.09 370.62 L169.75 370.41 L170.41 371.35 L169.58 371.85 L167.54 372.51 L165.34 372.22 L165.72 371.64 L164.74 370.98M182.94 361.71 L185.16 361.43 L187.39 361.32 L190.13 361.43 L187.66 362.3 L186.05 363.46 L184.52 362.9 L182.94 361.71M204.79 367.12 L206.44 367.33 L207.73 367.33 L205.76 365.58 L207.31 364.48 L210.51 363.27 L209.86 363.96 L207.24 365.12 L206.31 366.11 L204.62 365.78 L204.79 367.12M138.03 365.32 L139.56 365.92 L141.35 366.99 L142.23 368.5 L144.4 369.91 L142.84 371.35 L139.57 372.81 L140.61 373.55 L137.88 372.29 L136.55 371.71 L134.65 371.64 L137.96 370.26 L138.88 369.2 L136.9 367.81 L133.76 367.81 L131.85 367.26 L132.87 365.78 L135.53 365.32 L138.03 365.32M116.56 368.01 L118.04 368.36 L121.74 368.64 L124.56 368.15 L123.7 367.12 L125.31 365.78 L123.55 365.78 L120.3 365.98 L116.96 366.92 L116.56 368.01M113.92 366.45 L114.48 367.06 L116.08 366.79 L118.13 366.11 L119.68 365.65 L118.99 364.99 L116.6 364.93 L113.92 366.45M134.85 363.52 L140 363.65 L141.37 362.72 L143.18 362.3 L146.3 361.43 L151.06 360.12 L147.89 359.83 L142.68 359.88 L137.82 360.62 L138.94 361.15 L138.28 362.12 L135.77 362.9 L134.85 363.52M132.68 364.67 L138.58 364.67 L139.05 364.15 L136.45 363.84 L133.76 363.65 L132.68 364.67M130.01 371.13 L131.63 370.77 L132.98 372.07 L131.39 372.37 L129.8 372.66 L129.35 372.07 L130.01 371.13M139.89 384.75 L141.85 385.32 L143.74 385.48 L144.12 384.75 L143.66 383.87 L142.72 383.39 L143.1 381.8 L141.91 382.35 L140.62 384.03 L139.89 384.75M117.41 405.76 L119.3 404.93 L121.08 404.93 L123.07 406.09 L124.94 407.24 L122.55 407.49 L122.27 406.83 L119.59 405.43 L118.1 405.92 L117.41 405.76M124.56 408.73 L126.12 407.49 L127.9 407.57 L128.95 408.56 L127.77 408.89 L126.65 409.3 L124.56 408.73M120.81 364.35 L122.69 364.8 L126.02 364.48 L126.8 363.84 L125.28 363.52 L121.75 363.65 L120.81 364.35M125.9 366.45 L127.63 366.79 L129.34 365.78 L129.25 365.12 L127.37 365.26 L125.9 366.45M134.49 361.83 L137.15 362.3 L138.74 361.71 L137.93 360.88 L135.36 361.15 L134.49 361.83M94.52 485.5 L101.22 485.39 L103.26 484.78 L106.13 484.28 L109.38 483.32 L113.63 482.87 L120.81 482.68 L127.35 483.2 L127.58 482.02 L133.62 482.02 L137.81 482.22 L139.92 481.69 L142.39 479.99 L141.62 478.25 L143.01 476.24 L145.59 475.21 L144.5 476.45 L144.4 477.89 L145.78 479.99 L147.84 483 L154.57 485.2 L161.17 485.33 L164.42 483.96 L167.93 482.35 L171.3 481.35 L173.79 480.54 L177.93 479.99 L183.14 480.13 L188.38 479.99 L193.8 479.3 L196.33 479.65 L199.21 478.95 L204.97 477.89 L208 477.18 L210.2 478.25 L214.38 478.46 L214.95 479.3 L216.18 479.86 L219.51 478.81 L220.96 478.25 L225.63 477.75 L229.59 477.54 L232.61 477.18 L237.94 477.32 L240.47 477.54 L242.98 477.75 L248.86 477.32 L251.74 477.18 L253.82 477.75 L256.18 478.03 L257.71 478.95 L259.71 479.44 L261.06 480.34 L263.35 480.54 L265.19 481.01 L262.87 482.68 L257.52 483.96 L254.09 485.2 L256.97 485.39 L261.34 485.5"/>
<path fill="none" stroke="#b0b0b0" stroke-width="1.3" d="M73.37 473.5H282.49M52.24 448.5H303.62M47 424.5H308.86M52.24 399.5H303.62M73.37 375.5H282.49M131.48 490.4 L129.5 489.56 L127.18 488.38 L124.6 486.92 L121.86 485.2 L119.17 483.32 L116.72 481.35 L114.47 479.3 L112.32 477.18 L110.24 474.99 L108.22 472.75 L106.29 470.46 L104.44 468.13 L102.72 465.77 L101.15 463.37 L99.7 460.95 L98.34 458.51 L97.09 456.05 L95.98 453.58 L95 451.11 L94.13 448.64 L93.41 446.16 L92.82 443.69 L92.34 441.22 L91.91 438.74 L91.52 436.27 L91.21 433.8 L90.98 431.32 L90.81 428.85 L90.7 426.37 L90.64 423.9 L90.7 421.43 L90.81 418.95 L90.98 416.48 L91.21 414 L91.52 411.53 L91.91 409.06 L92.34 406.58 L92.82 404.11 L93.41 401.64 L94.13 399.16 L95 396.69 L95.98 394.22 L97.09 391.75 L98.34 389.29 L99.7 386.85 L101.15 384.43 L102.72 382.03 L104.44 379.67 L106.29 377.34 L108.22 375.05 L110.24 372.81 L112.32 370.62 L114.47 368.5 L116.72 366.45 L119.17 364.48 L121.86 362.6 L124.6 360.88 L127.18 359.42 L129.5 358.24 L131.48 357.4M154.7 490.4 L153.71 489.56 L152.55 488.38 L151.26 486.92 L149.9 485.2 L148.55 483.32 L147.33 481.35 L146.2 479.3 L145.12 477.18 L144.08 474.99 L143.08 472.75 L142.11 470.46 L141.19 468.13 L140.32 465.77 L139.54 463.37 L138.82 460.95 L138.13 458.51 L137.51 456.05 L136.96 453.58 L136.47 451.11 L136.03 448.64 L135.67 446.16 L135.37 443.69 L135.14 441.22 L134.92 438.74 L134.72 436.27 L134.57 433.8 L134.45 431.32 L134.37 428.85 L134.31 426.37 L134.29 423.9 L134.31 421.43 L134.37 418.95 L134.45 416.48 L134.57 414 L134.72 411.53 L134.92 409.06 L135.14 406.58 L135.37 404.11 L135.67 401.64 L136.03 399.16 L136.47 396.69 L136.96 394.22 L137.51 391.75 L138.13 389.29 L138.82 386.85 L139.54 384.43 L140.32 382.03 L141.19 379.67 L142.11 377.34 L143.08 375.05 L144.08 372.81 L145.12 370.62 L146.2 368.5 L147.33 366.45 L148.55 364.48 L149.9 362.6 L151.26 360.88 L152.55 359.42 L153.71 358.24 L154.7 357.4M178.5 490.4 L178.5 489.56 L178.5 488.38 L178.5 486.92 L178.5 485.2 L178.5 483.32 L178.5 481.35 L178.5 479.3 L178.5 477.18 L178.5 474.99 L178.5 472.75 L178.5 470.46 L178.5 468.13 L178.5 465.77 L178.5 463.37 L178.5 460.95 L178.5 458.51 L178.5 456.05 L178.5 453.58 L178.5 451.11 L178.5 448.64 L178.5 446.16 L178.5 443.69 L178.5 441.22 L178.5 438.74 L178.5 436.27 L178.5 433.8 L178.5 431.32 L178.5 428.85 L178.5 426.37 L178.5 423.9 L178.5 421.43 L178.5 418.95 L178.5 416.48 L178.5 414 L178.5 411.53 L178.5 409.06 L178.5 406.58 L178.5 404.11 L178.5 401.64 L178.5 399.16 L178.5 396.69 L178.5 394.22 L178.5 391.75 L178.5 389.29 L178.5 386.85 L178.5 384.43 L178.5 382.03 L178.5 379.67 L178.5 377.34 L178.5 375.05 L178.5 372.81 L178.5 370.62 L178.5 368.5 L178.5 366.45 L178.5 364.48 L178.5 362.6 L178.5 360.88 L178.5 359.42 L178.5 358.24 L178.5 357.4M201.16 490.4 L202.15 489.56 L203.31 488.38 L204.6 486.92 L205.96 485.2 L207.31 483.32 L208.53 481.35 L209.66 479.3 L210.74 477.18 L211.78 474.99 L212.78 472.75 L213.75 470.46 L214.67 468.13 L215.54 465.77 L216.32 463.37 L217.04 460.95 L217.73 458.51 L218.35 456.05 L218.9 453.58 L219.39 451.11 L219.83 448.64 L220.19 446.16 L220.49 443.69 L220.72 441.22 L220.94 438.74 L221.14 436.27 L221.29 433.8 L221.41 431.32 L221.49 428.85 L221.55 426.37 L221.57 423.9 L221.55 421.43 L221.49 418.95 L221.41 416.48 L221.29 414 L221.14 411.53 L220.94 409.06 L220.72 406.58 L220.49 404.11 L220.19 401.64 L219.83 399.16 L219.39 396.69 L218.9 394.22 L218.35 391.75 L217.73 389.29 L217.04 386.85 L216.32 384.43 L215.54 382.03 L214.67 379.67 L213.75 377.34 L212.78 375.05 L211.78 372.81 L210.74 370.62 L209.66 368.5 L208.53 366.45 L207.31 364.48 L205.96 362.6 L204.6 360.88 L203.31 359.42 L202.15 358.24 L201.16 357.4M224.38 490.4 L226.36 489.56 L228.68 488.38 L231.26 486.92 L234 485.2 L236.69 483.32 L239.14 481.35 L241.39 479.3 L243.54 477.18 L245.62 474.99 L247.64 472.75 L249.57 470.46 L251.42 468.13 L253.14 465.77 L254.71 463.37 L256.16 460.95 L257.52 458.51 L258.77 456.05 L259.88 453.58 L260.86 451.11 L261.73 448.64 L262.45 446.16 L263.04 443.69 L263.52 441.22 L263.95 438.74 L264.34 436.27 L264.65 433.8 L264.88 431.32 L265.05 428.85 L265.16 426.37 L265.22 423.9 L265.16 421.43 L265.05 418.95 L264.88 416.48 L264.65 414 L264.34 411.53 L263.95 409.06 L263.52 406.58 L263.04 404.11 L262.45 401.64 L261.73 399.16 L260.86 396.69 L259.88 394.22 L258.77 391.75 L257.52 389.29 L256.16 386.85 L254.71 384.43 L253.14 382.03 L251.42 379.67 L249.57 377.34 L247.64 375.05 L245.62 372.81 L243.54 370.62 L241.39 368.5 L239.14 366.45 L236.69 364.48 L234 362.6 L231.26 360.88 L228.68 359.42 L226.36 358.24 L224.38 357.4"/>
</g>
<path fill="none" stroke="#000" stroke-width="1.15" stroke-linejoin="miter" d="M247.61 490.4 L249.52 489.88 L251.69 489.2 L254.06 488.38 L256.6 487.44 L259.28 486.37 L262.03 485.2 L264.76 483.96 L267.34 482.68 L269.74 481.35 L272.02 479.99 L274.21 478.6 L276.35 477.18 L278.44 475.73 L280.49 474.25 L282.49 472.75 L284.44 471.23 L286.33 469.69 L288.16 468.13 L289.91 466.56 L291.56 464.97 L293.11 463.37 L294.56 461.76 L295.97 460.14 L297.32 458.51 L298.6 456.87 L299.77 455.23 L300.85 453.58 L301.85 451.94 L302.78 450.29 L303.62 448.64 L304.37 446.99 L305.03 445.34 L305.6 443.69 L306.08 442.04 L306.53 440.39 L306.96 438.74 L307.37 437.09 L307.72 435.44 L308.01 433.8 L308.26 432.15 L308.46 430.5 L308.61 428.85 L308.73 427.2 L308.81 425.55 L308.86 423.9 L308.81 422.25 L308.73 420.6 L308.61 418.95 L308.46 417.3 L308.26 415.65 L308.01 414 L307.72 412.36 L307.37 410.71 L306.96 409.06 L306.53 407.41 L306.08 405.76 L305.6 404.11 L305.03 402.46 L304.37 400.81 L303.62 399.16 L302.78 397.51 L301.85 395.86 L300.85 394.22 L299.77 392.57 L298.6 390.93 L297.32 389.29 L295.97 387.66 L294.56 386.04 L293.11 384.43 L291.56 382.83 L289.91 381.24 L288.16 379.67 L286.33 378.11 L284.44 376.57 L282.49 375.05 L280.49 373.55 L278.44 372.07 L276.35 370.62 L274.21 369.2 L272.02 367.81 L269.74 366.45 L267.34 365.12 L264.76 363.84 L262.03 362.6 L259.28 361.43 L256.6 360.36 L254.06 359.42 L251.69 358.6 L249.52 357.92 L247.61 357.4 L108.25 357.4 L106.34 357.92 L104.17 358.6 L101.8 359.42 L99.26 360.36 L96.58 361.43 L93.83 362.6 L91.1 363.84 L88.52 365.12 L86.12 366.45 L83.84 367.81 L81.65 369.2 L79.51 370.62 L77.42 372.07 L75.37 373.55 L73.37 375.05 L71.42 376.57 L69.53 378.11 L67.7 379.67 L65.95 381.24 L64.3 382.83 L62.75 384.43 L61.3 386.04 L59.89 387.66 L58.54 389.29 L57.26 390.93 L56.09 392.57 L55.01 394.22 L54.01 395.86 L53.08 397.51 L52.24 399.16 L51.49 400.81 L50.83 402.46 L50.26 404.11 L49.78 405.76 L49.33 407.41 L48.9 409.06 L48.49 410.71 L48.14 412.36 L47.85 414 L47.6 415.65 L47.4 417.3 L47.25 418.95 L47.13 420.6 L47.05 422.25 L47 423.9 L47.05 425.55 L47.13 427.2 L47.25 428.85 L47.4 430.5 L47.6 432.15 L47.85 433.8 L48.14 435.44 L48.49 437.09 L48.9 438.74 L49.33 440.39 L49.78 442.04 L50.26 443.69 L50.83 445.34 L51.49 446.99 L52.24 448.64 L53.08 450.29 L54.01 451.94 L55.01 453.58 L56.09 455.23 L57.26 456.87 L58.54 458.51 L59.89 460.14 L61.3 461.76 L62.75 463.37 L64.3 464.97 L65.95 466.56 L67.7 468.13 L69.53 469.69 L71.42 471.23 L73.37 472.75 L75.37 474.25 L77.42 475.73 L79.51 477.18 L81.65 478.6 L83.84 479.99 L86.12 481.35 L88.52 482.68 L91.1 483.96 L93.83 485.2 L96.58 486.37 L99.26 487.44 L101.8 488.38 L104.17 489.2 L106.34 489.88 L108.25 490.4Z"/>
<g clip-path="url(#cSON)">
<g fill="none" stroke-width="1" shape-rendering="crispEdges">
<path stroke="#fdc57f" d="M558 398.5h12M552 399.5h29M550 400.5h31M549 401.5h32M551 402.5h31M552 403.5h30M556 404.5h15"/>
<path stroke="#fde4c0" d="M330 393.5h1M329 394.5h2M329 395.5h4M562 395.5h16M328 396.5h16M551 396.5h28M328 397.5h18M544 397.5h36M327 398.5h21M462 398.5h10M543 398.5h15M570 398.5h10M327 399.5h22M403 399.5h22M459 399.5h22M540 399.5h12M326 400.5h24M399 400.5h27M460 400.5h28M537 400.5h13M326 401.5h24M395 401.5h34M462 401.5h33M532 401.5h17M325 402.5h26M390 402.5h39M465 402.5h33M527 402.5h24M325 403.5h27M386 403.5h43M466 403.5h33M520 403.5h32M325 404.5h28M377 404.5h52M467 404.5h32M516 404.5h40M571 404.5h12M325 405.5h29M361 405.5h68M467 405.5h31M513 405.5h70M324 406.5h105M469 406.5h28M510 406.5h73M324 407.5h104M471 407.5h24M509 407.5h74M324 408.5h104M474 408.5h19M509 408.5h75M330 409.5h4M349 409.5h79M477 409.5h15M509 409.5h75M346 410.5h81M481 410.5h8M509 410.5h43M339 411.5h87M511 411.5h27M338 412.5h81M512 412.5h11M338 413.5h65M337 414.5h57M339 415.5h54M340 416.5h51M342 417.5h49M345 418.5h45M349 419.5h41M353 420.5h34M359 421.5h25M363 422.5h15"/>
<path stroke="#f6f6f7" d="M383 356.5h26M509 356.5h14M382 357.5h26M509 357.5h15M379 358.5h27M509 358.5h18M376 359.5h17M510 359.5h20M373 360.5h9M510 360.5h23M371 361.5h8M511 361.5h24M372 362.5h3M512 362.5h26M512 363.5h25M514 364.5h22M453 382.5h3M444 383.5h19M436 384.5h32M434 385.5h37M492 385.5h13M414 386.5h58M487 386.5h20M412 387.5h60M484 387.5h25M410 388.5h64M485 388.5h23M410 389.5h64M486 389.5h19M332 390.5h1M354 390.5h1M409 390.5h74M570 390.5h5M331 391.5h35M406 391.5h79M567 391.5h9M331 392.5h37M403 392.5h84M552 392.5h24M331 393.5h39M400 393.5h88M543 393.5h34M331 394.5h38M400 394.5h88M544 394.5h34M333 395.5h38M396 395.5h95M539 395.5h23M344 396.5h30M390 396.5h108M537 396.5h14M346 397.5h168M535 397.5h9M348 398.5h114M472 398.5h71M349 399.5h54M425 399.5h34M481 399.5h59M350 400.5h49M426 400.5h34M488 400.5h49M350 401.5h45M429 401.5h33M495 401.5h37M351 402.5h39M429 402.5h36M498 402.5h29M352 403.5h34M429 403.5h37M499 403.5h21M353 404.5h24M429 404.5h38M499 404.5h17M354 405.5h7M429 405.5h38M498 405.5h15M429 406.5h40M497 406.5h13M428 407.5h43M495 407.5h14M428 408.5h46M493 408.5h16M323 409.5h7M334 409.5h15M428 409.5h49M492 409.5h17M323 410.5h23M427 410.5h54M489 410.5h20M552 410.5h32M323 411.5h16M426 411.5h85M538 411.5h46M323 412.5h15M419 412.5h93M523 412.5h61M323 413.5h15M403 413.5h181M322 414.5h15M394 414.5h190M322 415.5h17M393 415.5h77M485 415.5h99M322 416.5h18M391 416.5h72M487 416.5h78M322 417.5h20M391 417.5h70M488 417.5h52M322 418.5h23M390 418.5h12M416 418.5h43M488 418.5h44M322 419.5h27M390 419.5h11M421 419.5h37M489 419.5h34M322 420.5h31M387 420.5h12M427 420.5h30M491 420.5h30M322 421.5h37M384 421.5h15M434 421.5h20M491 421.5h28M322 422.5h41M378 422.5h20M492 422.5h27M322 423.5h76M492 423.5h30M322 424.5h76M494 424.5h32M337 425.5h60M494 425.5h34M348 426.5h47M493 426.5h36M348 427.5h47M493 427.5h36M356 428.5h39M413 428.5h12M495 428.5h34M361 429.5h32M410 429.5h17M498 429.5h28M366 430.5h23M409 430.5h19M499 430.5h23M368 431.5h18M409 431.5h21M502 431.5h14M371 432.5h14M409 432.5h21M508 432.5h7M409 433.5h21M409 434.5h19M412 435.5h15M413 436.5h11M453 441.5h12M450 442.5h21M449 443.5h38M450 444.5h38M451 445.5h37M472 446.5h14M333 450.5h7M332 451.5h26M332 452.5h38M331 453.5h74M330 454.5h79M533 454.5h14M331 455.5h81M423 455.5h22M527 455.5h27M332 456.5h123M523 456.5h34M332 457.5h126M519 457.5h40M333 458.5h126M516 458.5h44M334 459.5h125M513 459.5h46M335 460.5h124M510 460.5h48M336 461.5h123M510 461.5h46M337 462.5h119M513 462.5h41M337 463.5h5M353 463.5h101M515 463.5h38M338 464.5h4M420 464.5h24M518 464.5h33M339 465.5h2M524 465.5h24M528 466.5h14M492 479.5h14M486 480.5h23M464 481.5h46M452 482.5h56M397 483.5h14M417 483.5h24M446 483.5h61M385 484.5h120M382 485.5h110M382 486.5h109M380 487.5h111M381 488.5h109M381 489.5h109M383 490.5h107M383 491.5h107"/>
<path stroke="#dddfed" d="M409 356.5h100M408 357.5h101M406 358.5h103M393 359.5h117M382 360.5h128M379 361.5h132M368 362.5h4M375 362.5h137M366 363.5h146M537 363.5h3M364 364.5h150M536 364.5h6M362 365.5h182M361 366.5h185M359 367.5h189M357 368.5h192M356 369.5h195M354 370.5h198M353 371.5h201M351 372.5h204M350 373.5h207M349 374.5h209M347 375.5h212M346 376.5h19M378 376.5h164M345 377.5h13M380 377.5h160M344 378.5h11M378 378.5h161M342 379.5h11M376 379.5h162M341 380.5h7M374 380.5h164M340 381.5h5M372 381.5h167M339 382.5h3M371 382.5h82M456 382.5h83M338 383.5h3M368 383.5h76M463 383.5h75M337 384.5h3M362 384.5h74M468 384.5h71M565 384.5h5M336 385.5h4M357 385.5h77M471 385.5h21M505 385.5h33M565 385.5h6M336 386.5h6M350 386.5h64M472 386.5h15M507 386.5h32M565 386.5h7M335 387.5h77M472 387.5h12M509 387.5h30M564 387.5h8M334 388.5h76M474 388.5h11M508 388.5h31M564 388.5h9M333 389.5h77M474 389.5h12M505 389.5h36M563 389.5h11M333 390.5h21M355 390.5h54M483 390.5h60M560 390.5h10M366 391.5h40M485 391.5h82M368 392.5h35M487 392.5h65M370 393.5h30M488 393.5h55M369 394.5h31M488 394.5h56M371 395.5h25M491 395.5h48M374 396.5h16M498 396.5h39M514 397.5h21M470 415.5h15M463 416.5h24M565 416.5h19M461 417.5h27M540 417.5h44M402 418.5h14M459 418.5h29M532 418.5h52M401 419.5h20M458 419.5h31M523 419.5h61M399 420.5h28M457 420.5h34M521 420.5h63M399 421.5h35M454 421.5h37M519 421.5h65M398 422.5h94M519 422.5h65M398 423.5h94M522 423.5h62M398 424.5h79M485 424.5h9M526 424.5h58M322 425.5h15M397 425.5h76M487 425.5h7M528 425.5h56M322 426.5h26M395 426.5h75M487 426.5h6M529 426.5h55M322 427.5h26M395 427.5h75M487 427.5h6M529 427.5h55M322 428.5h34M395 428.5h18M425 428.5h45M488 428.5h7M529 428.5h55M322 429.5h39M393 429.5h17M427 429.5h42M488 429.5h10M526 429.5h58M322 430.5h44M389 430.5h20M428 430.5h41M488 430.5h11M522 430.5h62M322 431.5h46M386 431.5h23M430 431.5h39M489 431.5h13M516 431.5h68M322 432.5h49M385 432.5h24M430 432.5h40M488 432.5h20M515 432.5h69M322 433.5h87M430 433.5h43M486 433.5h98M323 434.5h86M428 434.5h52M485 434.5h99M323 435.5h89M427 435.5h157M323 436.5h90M424 436.5h160M323 437.5h261M324 438.5h14M348 438.5h216M324 439.5h8M359 439.5h173M536 439.5h25M324 440.5h7M363 440.5h167M538 440.5h22M324 441.5h6M366 441.5h87M465 441.5h64M539 441.5h21M325 442.5h5M367 442.5h83M471 442.5h59M538 442.5h21M325 443.5h5M369 443.5h80M487 443.5h45M535 443.5h27M325 444.5h7M369 444.5h81M488 444.5h94M326 445.5h7M368 445.5h83M488 445.5h94M326 446.5h21M367 446.5h105M486 446.5h95M326 447.5h255M327 448.5h253M327 449.5h253M328 450.5h5M340 450.5h239M328 451.5h4M358 451.5h221M329 452.5h3M370 452.5h208M330 453.5h1M405 453.5h173M409 454.5h124M547 454.5h30M412 455.5h11M445 455.5h82M554 455.5h22M455 456.5h68M557 456.5h19M458 457.5h61M559 457.5h16M459 458.5h57M560 458.5h14M459 459.5h54M559 459.5h14M459 460.5h51M558 460.5h14M459 461.5h51M556 461.5h15M456 462.5h57M554 462.5h16M342 463.5h11M454 463.5h61M553 463.5h17M342 464.5h78M444 464.5h74M551 464.5h18M341 465.5h183M548 465.5h20M340 466.5h188M542 466.5h24M342 467.5h223M343 468.5h221M344 469.5h219M345 470.5h217M346 471.5h214M348 472.5h211M349 473.5h209M350 474.5h206M352 475.5h203M353 476.5h201M354 477.5h198M356 478.5h195M358 479.5h134M506 479.5h43M359 480.5h127M509 480.5h38M361 481.5h103M510 481.5h36M363 482.5h89M508 482.5h36M365 483.5h32M411 483.5h6M441 483.5h5M507 483.5h35M367 484.5h18M505 484.5h35M369 485.5h13M492 485.5h45M371 486.5h11M491 486.5h44M374 487.5h6M491 487.5h41M377 488.5h4M490 488.5h39M379 489.5h2M490 489.5h36M490 490.5h33M490 491.5h33"/>
<path stroke="#bfbbda" d="M365 376.5h13M542 376.5h19M358 377.5h22M540 377.5h22M355 378.5h23M539 378.5h24M353 379.5h23M538 379.5h26M348 380.5h26M538 380.5h28M345 381.5h27M539 381.5h28M342 382.5h29M539 382.5h13M555 382.5h13M341 383.5h27M538 383.5h12M557 383.5h12M340 384.5h22M539 384.5h10M558 384.5h7M340 385.5h17M538 385.5h11M557 385.5h8M342 386.5h8M539 386.5h12M555 386.5h10M539 387.5h25M539 388.5h25M541 389.5h22M543 390.5h17M477 424.5h8M473 425.5h14M470 426.5h17M470 427.5h17M470 428.5h18M469 429.5h19M469 430.5h19M469 431.5h20M470 432.5h18M473 433.5h13M480 434.5h5M338 438.5h10M564 438.5h20M332 439.5h27M532 439.5h4M561 439.5h23M331 440.5h32M530 440.5h8M560 440.5h23M330 441.5h36M529 441.5h10M560 441.5h23M330 442.5h37M530 442.5h8M559 442.5h24M330 443.5h39M532 443.5h3M562 443.5h20M332 444.5h37M333 445.5h35M347 446.5h20"/>
<path stroke="#988dbe" d="M552 382.5h3M550 383.5h7M549 384.5h9M549 385.5h8M551 386.5h4"/>
</g>
<path fill="none" stroke="#000" stroke-width="0.65" stroke-linejoin="round" d="M359.58 370.98 L363.64 368.85 L367.55 367.6 L371.4 366.92 L373.99 367.46 L377.97 368.01 L380.78 368.29 L385.18 367.67 L386.73 368.15 L390.76 368.85 L394.16 369.2 L398.44 369.2 L401.16 368.5 L403.98 366.45 L404.33 368.5 L405.12 368.85 L407.24 368.15 L408.92 368.01 L407.85 369.91 L405.16 370.26 L402.79 372.07 L398.94 373.55 L396.52 375.81 L396.7 377.34 L399.16 377.72 L401.82 378.89 L401.11 380.85 L402.28 381.64 L403.75 379.28 L405.56 378.11 L405.98 376.19 L407.12 374.67 L407.71 373.18 L410.18 373.33 L411.65 374.3 L411.1 375.96 L413.16 375.96 L414.57 374.82 L415.08 376.95 L415.58 378.65 L416.88 380.06 L417.22 381.24 L414.76 382.59 L410.32 382.67 L407.92 384.03 L410.61 383.63 L410.53 384.83 L412.4 386.04 L410.46 387.1 L408.6 387.83 L408.25 386.85 L405.89 388.07 L405.45 389.46 L402.48 390.44 L400.83 392.57 L399.82 395.04 L397.85 396.03 L395.65 397.92 L395.44 401.64 L394.98 403.12 L394.1 402.05 L393.93 399.99 L392.92 399.16 L390.54 398.91 L388.93 399.82 L386.19 399.57 L383.49 401.22 L382.64 404.11 L382.53 406.58 L383.56 408.4 L386.05 408.56 L387.36 406.75 L389.93 406.17 L389.26 408.64 L388.29 410.71 L390.07 410.87 L391.82 411.37 L391.53 414.83 L392.51 416.48 L394.34 416.07 L395.75 416.89 L397.3 415.08 L399.9 414 L400.2 414.99 L402.76 414.42 L405.61 415.24 L407.42 415.24 L408.44 416.89 L410.55 418.95 L414.16 419.94 L415.57 423.08 L416.66 424.72 L419.58 425.96 L422.85 426.21 L425.05 427.86 L426.53 429.26 L426.57 431.32 L424.83 433.8 L423.85 436.27 L423.64 439.16 L422.74 442.04 L420.32 443.03 L418 444.93 L417.77 447.4 L416.43 449.46 L415.1 451.94 L413.16 452.6 L411.79 451.94 L413.09 454 L412.76 455.64 L410.16 456.05 L410.38 457.69 L408.58 457.69 L409.87 459.16 L409.23 460.95 L408.25 461.92 L409.77 463.21 L408.59 465.21 L409.41 466.8 L412.2 468.76 L410.43 469.15 L408.14 468.13 L405.58 466.56 L403.78 463.77 L403.84 461.35 L403.51 458.51 L402.16 455.64 L402.18 453.17 L402.17 449.46 L401.92 446.16 L401.88 442.04 L401.56 438.99 L399.85 437.67 L397.12 435.28 L395.45 432.15 L394.03 429.67 L392.95 428.02 L393.78 426.54 L393.17 424.72 L393.75 423.24 L394.63 422.66 L395.83 420.6 L395.49 417.88 L393.89 417.88 L392.83 417.3 L391.41 416.64 L389.91 415.24 L388.76 413.18 L385.95 412.36 L384.36 410.54 L382.16 410.87 L379.45 409.63 L376.56 407.41 L376.89 405.35 L375.54 403.04 L374.26 400.98 L373.29 398.75 L372.25 397.68 L372.78 399.99 L373.55 402.46 L374.14 404.77 L372.75 402.87 L371.5 400.81 L371.06 398.75 L370.82 397.02 L369.14 395.45 L368.91 393.56 L368.73 391.34 L369.71 388.89 L371.68 385.88 L372.35 384.11 L373.48 384.03 L374.01 383.23 L372.33 382.03 L372.64 379.28 L372.58 376.95 L371.45 375.96 L370.45 375.2 L367.94 374.82 L365.67 375.05 L363.34 375.58 L364.19 374.3 L361.38 376.04 L357.35 377.57 L353.23 378.89 L351.77 379.12 L355.27 378.11 L359.15 376.19 L357.94 375.96 L357.83 375.05 L356.81 374.45 L357.54 373.4 L359.32 372.66 L361.75 372.29 L362.68 371.56 L359.91 371.56 L359.58 370.98M417.93 362.47 L420.94 361.71 L424.61 360.62 L430.19 360.21 L437.01 359.64 L442.35 360.26 L444.25 361.43 L442.67 363.21 L442.56 364.8 L440.53 366.11 L440.46 367.67 L438.1 368.85 L434.81 369.2 L431.66 370.77 L429.43 371.71 L427 374.9 L425.57 374.82 L424.08 374.15 L423.31 372.44 L422.84 370.26 L424.43 368.5 L423.61 367.46 L423.99 365.78 L423.5 364.15 L420.09 363.84 L418.21 363.21 L417.93 362.47M454.79 373.92 L454.78 373.55 L457.76 371.71 L459.46 369.55 L462.12 367.81 L465.1 367.12 L468.08 367.6 L473.91 369.34 L474.03 370.48 L470.38 370.12 L471.41 371.85 L474.1 371.56 L475.99 370.62 L475.65 368.99 L480.12 368.85 L483.74 368.15 L487.36 368.5 L485.89 366.11 L488.69 365.78 L489.93 366.45 L491.94 365.45 L494.53 364.48 L499.06 363.71 L501 362.78 L508.06 365.12 L513.86 365.78 L519.07 367.12 L522.88 366.11 L528.92 366.79 L535.86 368.01 L541 367.94 L545.74 368.29 L547.34 368.64M357.8 369.55 L358.98 370.62 L356.11 371.71 L353.81 370.98M551.36 371.71 L552.56 373.18 L550.79 374.67 L547.96 375.2 L548.82 376.95 L550.21 378.5 L550.7 380.45 L550.34 382.03 L547.46 379.67 L545.07 377.34 L544.43 374.67 L544.8 373.55 L541.82 373.92 L541.35 375.81 L535.55 375.58 L535.49 379.28 L539.62 380.85 L541.54 384.03 L541.11 387.66 L538.66 388.48 L538.52 390.52 L537.62 391.34 L540.36 394.22 L538.85 395.45 L537.41 392.98 L535.94 391.34 L533.78 391.75 L533.5 390.52 L531.43 391.75 L532.73 393.15 L535.22 393.39 L533.87 395.04 L536.35 397.92 L537.26 399.57 L536.41 402.87 L534.4 405.1 L531.74 406.17 L529.96 406.17 L528.89 406.17 L527.79 408.23 L530.22 411.12 L530.92 414 L529.1 416.48 L528.02 416.48 L527.7 415.24 L526.01 414 L524.46 412.93 L523.97 415.65 L525.09 418.54 L527.14 420.6 L527.56 422.75 L525.72 421.59 L524.75 418.95 L523.21 417.3 L523.12 414 L521.99 410.29 L520.62 410.87 L519.4 408.64 L517.49 406.17 L516.36 405.76 L514.6 405.92 L513.89 407 L512.13 408.89 L509.64 411.12 L509.75 414 L509.48 415.41 L508.13 417.3 L507.1 415.65 L505.83 412.77 L504.3 409.47 L503.78 406.58 L502.23 406.75 L501.03 405.51 L499.61 403.7 L495.79 403.12 L492.58 402.87 L491.73 401.64 L488.48 400.98 L487.19 399.16 L485.8 399.16 L486.21 400.81 L487.67 403.28 L488.8 403.94 L490.23 404.11 L491.61 402.46 L492.19 403.86 L494.47 405.35 L493.4 407.82 L491.42 409.88 L489.33 410.87 L486.9 412.36 L484.42 413.35 L483.2 413.43 L482.61 410.29 L480.89 407.82 L479.7 405.76 L478.09 402.87 L476.52 400.81 L476.27 399.57 L475.46 400.81 L474.62 399.16 L475.71 401.22 L477.11 404.11 L478.32 406.58 L478.63 408.4 L480.21 411.12 L481.88 413.02 L483.16 414.17 L483.39 414.58 L484.5 415.24 L486.65 414.66 L488.94 414.17 L488.84 415.32 L487.5 418.54 L486.8 420.19 L485.38 422.25 L483.21 424.31 L482.11 425.55 L480.4 428.44 L480.57 430.5 L481.24 432.72 L481.17 436.27 L479.2 438.17 L476.87 441.63 L477.11 443.69 L475.26 444.93 L474.94 447.4 L473.58 448.64 L471.64 450.95 L469.62 451.94 L467.06 452.1 L465.66 452.6 L464.53 451.94 L464.41 450.29 L463.49 447.65 L462.52 445.34 L462.24 442.45 L460.53 438.74 L460.42 437.09 L461.68 434.21 L461.71 431.73 L460.79 428.85 L460.29 427.2 L458.48 424.72 L458.84 423.08 L458.98 421.01 L458.11 420.19 L457.02 420.35 L455.56 418.95 L453.74 418.71 L450.84 419.78 L449.75 419.78 L448.52 419.61 L446.48 420.27 L445.39 419.78 L443.95 418.38 L442.51 416.89 L442.15 415.82 L441.08 414.83 L439.87 413.59 L439.89 412.36 L439.32 411.78 L440.07 410.29 L440.26 408.23 L439.81 406.58 L440.58 404.11 L441.7 402.21 L442.79 400.98 L444.94 399.57 L445.18 398.34 L445.7 397.1 L447.11 396.03 L447.82 394.63 L448.31 394.22 L450.56 394.87 L452.61 393.8 L453.97 393.47 L457.37 393.39 L458.72 393.23 L459.42 393.56 L458.94 395.62 L459.66 396.52 L462.46 397.26 L465.18 398.91 L465.83 397.92 L465.76 396.85 L467.49 396.85 L469.29 397.76 L472.11 398.34 L473.47 397.92 L474.53 398.17 L475.92 398.09 L476.48 395.04 L476.43 393.56 L474.1 394.05 L472.39 393.97 L470.64 393.56 L469.83 392.16 L469.69 390.93 L467.95 390.27 L467.19 390.68 L467.84 392.57 L467.46 393.72 L466.52 392.98 L464.97 390.52 L464.8 389.29 L462.45 388.07 L460.9 386.45 L459.93 386.61 L460.13 387.66 L460.87 388.07 L461.33 389.05 L462.55 389.46 L464.32 390.77 L463.3 390.6 L463.12 391.91 L462.56 392.57 L462.68 391.34 L462.32 390.93 L461.41 390.27 L460.24 389.7 L459.21 388.89 L458.63 387.83 L457.69 387.34 L456.85 387.83 L455.22 388.23 L454.04 388.32 L454.05 389.46 L452.46 390.11 L451.73 391.34 L451.59 392.32 L450.57 393.56 L448.31 394.13 L447.64 393.56 L445.95 393.39 L445.59 392 L446.08 389.7 L445.86 388.48 L446.67 387.91 L448.97 388.15 L450.75 388.15 L451.15 386.45 L450.32 384.99 L448.93 384.27 L450.97 383.87 L450.98 383.07 L452.06 383.23 L452.94 382.43 L454.12 381.72 L454.71 380.61 L456.11 380.06 L457.14 379.82 L456.89 378.5 L456.83 377.34 L458.16 376.8 L458.13 378.11 L458.53 379.51 L459.27 379.51 L460.63 379.75 L463.19 379.12 L464.02 379.35 L464.63 378.5 L464.47 377.34 L466.22 377.11 L465.77 376.19 L465.95 375.5 L468.26 375.35 L469.36 375.05 L468.39 374.6 L465.3 375.12 L464.35 374.6 L463.95 372.81 L465.74 371.35 L465.08 370.77 L464.02 370.98 L463.73 371.85 L461.9 373.55 L461.87 374.67 L462.9 375.43 L461.74 376.95 L461.55 377.95 L460.52 378.5 L459.67 378.5 L458.51 375.96 L458.07 375.58 L456.66 376.57 L455.16 375.96 L454.79 373.92M471.27 390.11 L472.91 389.95 L475.14 389.29 L477.27 390.11 L479.52 389.62 L477.5 387.66 L476.33 386.61 L474.75 386.85 L473.83 387.26 L473.31 386.04 L471.66 385.8 L470.75 387.66 L470.5 389.29 L471.27 390.11M482.57 386.85 L483.58 385.64 L485.14 385.4 L486.17 385.64 L486.09 386.61 L485.28 387.26 L484.86 387.42 L486.66 388.89 L487.27 390.11 L488.14 391.59 L488.51 393.39 L486.98 393.56 L485.17 392.98 L484.86 391.34 L485.03 390.52 L483.26 388.48 L482.57 386.85M487.55 433.96 L488.13 436.68 L487.44 438.33 L486.1 442.04 L485.19 444.51 L483.74 444.93 L482.81 443.28 L482.94 441.46 L483.61 439.98 L483.52 437.92 L484.29 437.09 L485.78 436.27 L486.92 435.03 L487.55 433.96M532.74 442.04 L532.57 445.34 L532.23 448.64 L531.16 451.77 L532.84 452.76 L535.3 451.77 L537.62 451.11 L539.26 450.45 L541.53 449.96 L543.3 449.88 L544.88 451.11 L544.92 452.6 L547.27 450.87 L546.36 453.17 L546.78 455.07 L548.74 455.8 L550.49 456.05 L552.2 455.07 L553.83 454.57 L556.29 451.52 L558.6 449.05 L559.77 446.58 L560.14 444.76 L559.07 443.53 L558.31 442.29 L556.63 439.57 L556.43 437.75 L556.59 436.1 L555.58 435.69 L555.42 433.8 L555.03 432.81 L554.32 434.45 L553.76 436.68 L552.73 438.33 L551.83 438.17 L550.8 437.09 L549.72 436.27 L550.16 434.21 L549.49 433.8 L547.97 433.22 L546.58 433.96 L545.75 434.87 L545.21 436.1 L544.1 436.27 L543.5 435.44 L542.4 435.61 L541.06 437.34 L539.74 437.92 L539.46 439.16 L538.42 440.14 L536 440.89 L534.23 441.63 L532.74 442.04M548.58 457.44 L550.87 457.53 L549.55 459.32 L548.22 459.81 L548.04 458.91 L548.58 457.44M570.59 452.35 L571.18 454 L572.78 454.98 L571 456.3 L568.46 458.1 L569.23 456.71 L568.85 456.3 L570.52 454.82 L570.59 452.35M567.47 457.28 L567.6 458.34 L565.58 459.73 L563.4 460.95 L561.74 462.16 L560.26 462 L560.01 461.51 L562.43 460.14 L565.04 458.91 L567.47 457.28M547.21 424.56 L549.39 424.56 L550.06 426.62 L552.28 425.38 L554.44 426.04 L557.28 427.61 L559.02 428.85 L559.14 430.08 L560.87 432.39 L558.73 432.15 L556.73 430.25 L554.81 431.49 L552.73 430.5 L551.98 430.74 L552.66 429.51 L550.37 427.61 L548.95 427.03 L547.89 426.21 L547.21 424.56M531.19 422.25 L532.99 421.67 L534.07 421.26 L535.81 419.36 L536.83 418.13 L538.36 419.53 L537.47 421.01 L537.75 423.08 L537.39 424.56 L536.45 427.03 L535.13 427.2 L533.19 426.62 L531.92 425.14 L531.21 423.49 L531.19 422.25M521.13 419.28 L522.74 419.61 L524.84 421.59 L527.21 423.9 L527.91 425.8 L528.98 426.62 L528.68 428.68 L527.81 428.68 L526.06 427.03 L524.88 424.72 L523.7 422.5 L522.06 420.85 L521.13 419.28M528.35 429.51 L530.67 429.42 L532.36 429.18 L533.93 429.59 L534.97 430.33 L534.78 430.99 L532.4 430.74 L530.26 430.33 L528.35 429.51M539.06 423.24 L539.93 422.83 L542.69 422.66 L541.39 423.57 L539.57 423.49 L540.15 424.72 L541.6 424.72 L540.49 425.55 L540.93 427.61 L540.2 427.78 L539.75 426.21 L539.29 428.44 L538.71 428.44 L538.64 426.79 L538.3 426.13 L539.06 423.24M538.24 408.64 L539.47 408.73 L539.66 410.71 L539.48 411.94 L541.45 413.18 L541.34 413.51 L540.28 412.52 L539.05 412.52 L538.28 411.12 L538.24 408.64M540.45 418.13 L541.44 416.73 L542.81 415.82 L543.69 417.72 L543.05 419.12 L541.91 418.13 L540.45 418.13M542.46 398.09 L543.51 397.92 L542.98 396.28 L544.34 395.45 L545.6 396.28 L546.02 395.37 L547.24 395.04 L548.2 394.46 L547.15 392.16 L547.27 391.18 L545.96 389.78 L545.54 390.52 L546.34 392.16 L545.42 393.39 L544.82 393.15 L544.88 394.38 L542.94 394.63 L542.01 395.62 L541.56 396.52 L542.46 398.09M545.02 389.46 L545.52 388.89 L546.98 389.29 L547.73 388.23 L546.56 387.66 L544.15 386.53 L545.1 388.23 L545.02 389.46M543.94 386.04 L544.45 385.4 L542.64 383.39 L543.78 383.63 L540.89 381.24 L539.24 379.51 L539.59 380.45 L541.57 382.83 L543.94 386.04M537.35 404.93 L537.53 403.12 L538.13 403.28 L538.05 405.59 L537.35 404.93M509.87 415.9 L511.27 417.72 L510.74 418.95 L510.01 418.95 L509.8 417.3 L509.87 415.9M448.46 382.83 L450.04 382.35 L452.74 381.87 L452.24 381.64 L452.98 380.69 L452.12 380.45 L451.81 379.51 L451.02 378.89 L450.73 378.11 L450.74 376.88 L449.56 376.8 L450.16 376.11 L448.99 376.11 L448.36 376.95 L448.62 378.11 L449.01 379.04 L450.09 379.67 L450.08 380.22 L449.16 380.29 L449.26 381 L448.69 381.4 L449.93 381.72 L449.11 382.03 L448.46 382.83M448.2 381.08 L448.24 380.06 L448.58 379.28 L447.99 378.73 L446.95 378.89 L445.82 379.51 L445.84 381.08 L446 381.64 L448.2 381.08M438.74 370.98 L439.95 370.34 L442.09 370.62 L443.75 370.41 L444.41 371.35 L443.58 371.85 L441.54 372.51 L439.34 372.22 L439.72 371.64 L438.74 370.98M456.94 361.71 L459.16 361.43 L461.39 361.32 L464.13 361.43 L461.66 362.3 L460.05 363.46 L458.52 362.9 L456.94 361.71M478.79 367.12 L480.44 367.33 L481.73 367.33 L479.76 365.58 L481.31 364.48 L484.51 363.27 L483.86 363.96 L481.24 365.12 L480.31 366.11 L478.62 365.78 L478.79 367.12M412.03 365.32 L413.56 365.92 L415.35 366.99 L416.23 368.5 L418.4 369.91 L416.84 371.35 L413.57 372.81 L414.61 373.55 L411.88 372.29 L410.55 371.71 L408.65 371.64 L411.96 370.26 L412.88 369.2 L410.9 367.81 L407.76 367.81 L405.85 367.26 L406.87 365.78 L409.53 365.32 L412.03 365.32M390.56 368.01 L392.04 368.36 L395.74 368.64 L398.56 368.15 L397.7 367.12 L399.31 365.78 L397.55 365.78 L394.3 365.98 L390.96 366.92 L390.56 368.01M387.92 366.45 L388.48 367.06 L390.08 366.79 L392.13 366.11 L393.68 365.65 L392.99 364.99 L390.6 364.93 L387.92 366.45M408.85 363.52 L414 363.65 L415.37 362.72 L417.18 362.3 L420.3 361.43 L425.06 360.12 L421.89 359.83 L416.68 359.88 L411.82 360.62 L412.94 361.15 L412.28 362.12 L409.77 362.9 L408.85 363.52M406.68 364.67 L412.58 364.67 L413.05 364.15 L410.45 363.84 L407.76 363.65 L406.68 364.67M404.01 371.13 L405.63 370.77 L406.98 372.07 L405.39 372.37 L403.8 372.66 L403.35 372.07 L404.01 371.13M413.89 384.75 L415.85 385.32 L417.74 385.48 L418.12 384.75 L417.66 383.87 L416.72 383.39 L417.1 381.8 L415.91 382.35 L414.62 384.03 L413.89 384.75M391.41 405.76 L393.3 404.93 L395.08 404.93 L397.07 406.09 L398.94 407.24 L396.55 407.49 L396.27 406.83 L393.59 405.43 L392.1 405.92 L391.41 405.76M398.56 408.73 L400.12 407.49 L401.9 407.57 L402.95 408.56 L401.77 408.89 L400.65 409.3 L398.56 408.73M394.81 364.35 L396.69 364.8 L400.02 364.48 L400.8 363.84 L399.28 363.52 L395.75 363.65 L394.81 364.35M399.9 366.45 L401.63 366.79 L403.34 365.78 L403.25 365.12 L401.37 365.26 L399.9 366.45M408.49 361.83 L411.15 362.3 L412.74 361.71 L411.93 360.88 L409.36 361.15 L408.49 361.83M368.52 485.5 L375.22 485.39 L377.26 484.78 L380.13 484.28 L383.38 483.32 L387.63 482.87 L394.81 482.68 L401.35 483.2 L401.58 482.02 L407.62 482.02 L411.81 482.22 L413.92 481.69 L416.39 479.99 L415.62 478.25 L417.01 476.24 L419.59 475.21 L418.5 476.45 L418.4 477.89 L419.78 479.99 L421.84 483 L428.57 485.2 L435.17 485.33 L438.42 483.96 L441.93 482.35 L445.3 481.35 L447.79 480.54 L451.93 479.99 L457.14 480.13 L462.38 479.99 L467.8 479.3 L470.33 479.65 L473.21 478.95 L478.97 477.89 L482 477.18 L484.2 478.25 L488.38 478.46 L488.95 479.3 L490.18 479.86 L493.51 478.81 L494.96 478.25 L499.63 477.75 L503.59 477.54 L506.61 477.18 L511.94 477.32 L514.47 477.54 L516.98 477.75 L522.86 477.32 L525.74 477.18 L527.82 477.75 L530.18 478.03 L531.71 478.95 L533.71 479.44 L535.06 480.34 L537.35 480.54 L539.19 481.01 L536.87 482.68 L531.52 483.96 L528.09 485.2 L530.97 485.39 L535.34 485.5"/>
<path fill="none" stroke="#b0b0b0" stroke-width="1.3" d="M347.37 473.5H556.49M326.24 448.5H577.62M321 424.5H582.86M326.24 399.5H577.62M347.37 375.5H556.49M405.48 490.4 L403.5 489.56 L401.18 488.38 L398.6 486.92 L395.86 485.2 L393.17 483.32 L390.72 481.35 L388.47 479.3 L386.32 477.18 L384.24 474.99 L382.22 472.75 L380.29 470.46 L378.44 468.13 L376.72 465.77 L375.15 463.37 L373.7 460.95 L372.34 458.51 L371.09 456.05 L369.98 453.58 L369 451.11 L368.13 448.64 L367.41 446.16 L366.82 443.69 L366.34 441.22 L365.91 438.74 L365.52 436.27 L365.21 433.8 L364.98 431.32 L364.81 428.85 L364.7 426.37 L364.64 423.9 L364.7 421.43 L364.81 418.95 L364.98 416.48 L365.21 414 L365.52 411.53 L365.91 409.06 L366.34 406.58 L366.82 404.11 L367.41 401.64 L368.13 399.16 L369 396.69 L369.98 394.22 L371.09 391.75 L372.34 389.29 L373.7 386.85 L375.15 384.43 L376.72 382.03 L378.44 379.67 L380.29 377.34 L382.22 375.05 L384.24 372.81 L386.32 370.62 L388.47 368.5 L390.72 366.45 L393.17 364.48 L395.86 362.6 L398.6 360.88 L401.18 359.42 L403.5 358.24 L405.48 357.4M428.7 490.4 L427.71 489.56 L426.55 488.38 L425.26 486.92 L423.9 485.2 L422.55 483.32 L421.33 481.35 L420.2 479.3 L419.12 477.18 L418.08 474.99 L417.08 472.75 L416.11 470.46 L415.19 468.13 L414.32 465.77 L413.54 463.37 L412.82 460.95 L412.13 458.51 L411.51 456.05 L410.96 453.58 L410.47 451.11 L410.03 448.64 L409.67 446.16 L409.37 443.69 L409.14 441.22 L408.92 438.74 L408.72 436.27 L408.57 433.8 L408.45 431.32 L408.37 428.85 L408.31 426.37 L408.29 423.9 L408.31 421.43 L408.37 418.95 L408.45 416.48 L408.57 414 L408.72 411.53 L408.92 409.06 L409.14 406.58 L409.37 404.11 L409.67 401.64 L410.03 399.16 L410.47 396.69 L410.96 394.22 L411.51 391.75 L412.13 389.29 L412.82 386.85 L413.54 384.43 L414.32 382.03 L415.19 379.67 L416.11 377.34 L417.08 375.05 L418.08 372.81 L419.12 370.62 L420.2 368.5 L421.33 366.45 L422.55 364.48 L423.9 362.6 L425.26 360.88 L426.55 359.42 L427.71 358.24 L428.7 357.4M452.5 490.4 L452.5 489.56 L452.5 488.38 L452.5 486.92 L452.5 485.2 L452.5 483.32 L452.5 481.35 L452.5 479.3 L452.5 477.18 L452.5 474.99 L452.5 472.75 L452.5 470.46 L452.5 468.13 L452.5 465.77 L452.5 463.37 L452.5 460.95 L452.5 458.51 L452.5 456.05 L452.5 453.58 L452.5 451.11 L452.5 448.64 L452.5 446.16 L452.5 443.69 L452.5 441.22 L452.5 438.74 L452.5 436.27 L452.5 433.8 L452.5 431.32 L452.5 428.85 L452.5 426.37 L452.5 423.9 L452.5 421.43 L452.5 418.95 L452.5 416.48 L452.5 414 L452.5 411.53 L452.5 409.06 L452.5 406.58 L452.5 404.11 L452.5 401.64 L452.5 399.16 L452.5 396.69 L452.5 394.22 L452.5 391.75 L452.5 389.29 L452.5 386.85 L452.5 384.43 L452.5 382.03 L452.5 379.67 L452.5 377.34 L452.5 375.05 L452.5 372.81 L452.5 370.62 L452.5 368.5 L452.5 366.45 L452.5 364.48 L452.5 362.6 L452.5 360.88 L452.5 359.42 L452.5 358.24 L452.5 357.4M475.16 490.4 L476.15 489.56 L477.31 488.38 L478.6 486.92 L479.96 485.2 L481.31 483.32 L482.53 481.35 L483.66 479.3 L484.74 477.18 L485.78 474.99 L486.78 472.75 L487.75 470.46 L488.67 468.13 L489.54 465.77 L490.32 463.37 L491.04 460.95 L491.73 458.51 L492.35 456.05 L492.9 453.58 L493.39 451.11 L493.83 448.64 L494.19 446.16 L494.49 443.69 L494.72 441.22 L494.94 438.74 L495.14 436.27 L495.29 433.8 L495.41 431.32 L495.49 428.85 L495.55 426.37 L495.57 423.9 L495.55 421.43 L495.49 418.95 L495.41 416.48 L495.29 414 L495.14 411.53 L494.94 409.06 L494.72 406.58 L494.49 404.11 L494.19 401.64 L493.83 399.16 L493.39 396.69 L492.9 394.22 L492.35 391.75 L491.73 389.29 L491.04 386.85 L490.32 384.43 L489.54 382.03 L488.67 379.67 L487.75 377.34 L486.78 375.05 L485.78 372.81 L484.74 370.62 L483.66 368.5 L482.53 366.45 L481.31 364.48 L479.96 362.6 L478.6 360.88 L477.31 359.42 L476.15 358.24 L475.16 357.4M498.38 490.4 L500.36 489.56 L502.68 488.38 L505.26 486.92 L508 485.2 L510.69 483.32 L513.14 481.35 L515.39 479.3 L517.54 477.18 L519.62 474.99 L521.64 472.75 L523.57 470.46 L525.42 468.13 L527.14 465.77 L528.71 463.37 L530.16 460.95 L531.52 458.51 L532.77 456.05 L533.88 453.58 L534.86 451.11 L535.73 448.64 L536.45 446.16 L537.04 443.69 L537.52 441.22 L537.95 438.74 L538.34 436.27 L538.65 433.8 L538.88 431.32 L539.05 428.85 L539.16 426.37 L539.22 423.9 L539.16 421.43 L539.05 418.95 L538.88 416.48 L538.65 414 L538.34 411.53 L537.95 409.06 L537.52 406.58 L537.04 404.11 L536.45 401.64 L535.73 399.16 L534.86 396.69 L533.88 394.22 L532.77 391.75 L531.52 389.29 L530.16 386.85 L528.71 384.43 L527.14 382.03 L525.42 379.67 L523.57 377.34 L521.64 375.05 L519.62 372.81 L517.54 370.62 L515.39 368.5 L513.14 366.45 L510.69 364.48 L508 362.6 L505.26 360.88 L502.68 359.42 L500.36 358.24 L498.38 357.4"/>
</g>
<path fill="none" stroke="#000" stroke-width="1.15" stroke-linejoin="miter" d="M521.61 490.4 L523.52 489.88 L525.69 489.2 L528.06 488.38 L530.6 487.44 L533.28 486.37 L536.03 485.2 L538.76 483.96 L541.34 482.68 L543.74 481.35 L546.02 479.99 L548.21 478.6 L550.35 477.18 L552.44 475.73 L554.49 474.25 L556.49 472.75 L558.44 471.23 L560.33 469.69 L562.16 468.13 L563.91 466.56 L565.56 464.97 L567.11 463.37 L568.56 461.76 L569.97 460.14 L571.32 458.51 L572.6 456.87 L573.77 455.23 L574.85 453.58 L575.85 451.94 L576.78 450.29 L577.62 448.64 L578.37 446.99 L579.03 445.34 L579.6 443.69 L580.08 442.04 L580.53 440.39 L580.96 438.74 L581.37 437.09 L581.72 435.44 L582.01 433.8 L582.26 432.15 L582.46 430.5 L582.61 428.85 L582.73 427.2 L582.81 425.55 L582.86 423.9 L582.81 422.25 L582.73 420.6 L582.61 418.95 L582.46 417.3 L582.26 415.65 L582.01 414 L581.72 412.36 L581.37 410.71 L580.96 409.06 L580.53 407.41 L580.08 405.76 L579.6 404.11 L579.03 402.46 L578.37 400.81 L577.62 399.16 L576.78 397.51 L575.85 395.86 L574.85 394.22 L573.77 392.57 L572.6 390.93 L571.32 389.29 L569.97 387.66 L568.56 386.04 L567.11 384.43 L565.56 382.83 L563.91 381.24 L562.16 379.67 L560.33 378.11 L558.44 376.57 L556.49 375.05 L554.49 373.55 L552.44 372.07 L550.35 370.62 L548.21 369.2 L546.02 367.81 L543.74 366.45 L541.34 365.12 L538.76 363.84 L536.03 362.6 L533.28 361.43 L530.6 360.36 L528.06 359.42 L525.69 358.6 L523.52 357.92 L521.61 357.4 L382.25 357.4 L380.34 357.92 L378.17 358.6 L375.8 359.42 L373.26 360.36 L370.58 361.43 L367.83 362.6 L365.1 363.84 L362.52 365.12 L360.12 366.45 L357.84 367.81 L355.65 369.2 L353.51 370.62 L351.42 372.07 L349.37 373.55 L347.37 375.05 L345.42 376.57 L343.53 378.11 L341.7 379.67 L339.95 381.24 L338.3 382.83 L336.75 384.43 L335.3 386.04 L333.89 387.66 L332.54 389.29 L331.26 390.93 L330.09 392.57 L329.01 394.22 L328.01 395.86 L327.08 397.51 L326.24 399.16 L325.49 400.81 L324.83 402.46 L324.26 404.11 L323.78 405.76 L323.33 407.41 L322.9 409.06 L322.49 410.71 L322.14 412.36 L321.85 414 L321.6 415.65 L321.4 417.3 L321.25 418.95 L321.13 420.6 L321.05 422.25 L321 423.9 L321.05 425.55 L321.13 427.2 L321.25 428.85 L321.4 430.5 L321.6 432.15 L321.85 433.8 L322.14 435.44 L322.49 437.09 L322.9 438.74 L323.33 440.39 L323.78 442.04 L324.26 443.69 L324.83 445.34 L325.49 446.99 L326.24 448.64 L327.08 450.29 L328.01 451.94 L329.01 453.58 L330.09 455.23 L331.26 456.87 L332.54 458.51 L333.89 460.14 L335.3 461.76 L336.75 463.37 L338.3 464.97 L339.95 466.56 L341.7 468.13 L343.53 469.69 L345.42 471.23 L347.37 472.75 L349.37 474.25 L351.42 475.73 L353.51 477.18 L355.65 478.6 L357.84 479.99 L360.12 481.35 L362.52 482.68 L365.1 483.96 L367.83 485.2 L370.58 486.37 L373.26 487.44 L375.8 488.38 L378.17 489.2 L380.34 489.88 L382.25 490.4Z"/>
<g shape-rendering="crispEdges">
<rect x="616.5" y="506.09" width="28.4" height="47.41" fill="#aa5306"/>
<rect x="616.5" y="458.98" width="28.4" height="47.41" fill="#d0730f"/>
<rect x="616.5" y="411.87" width="28.4" height="47.41" fill="#ef9e3c"/>
<rect x="616.5" y="364.76" width="28.4" height="47.41" fill="#fdc57f"/>
<rect x="616.5" y="317.65" width="28.4" height="47.41" fill="#fde4c0"/>
<rect x="616.5" y="270.55" width="28.4" height="47.41" fill="#f6f6f7"/>
<rect x="616.5" y="223.44" width="28.4" height="47.41" fill="#dddfed"/>
<rect x="616.5" y="176.33" width="28.4" height="47.41" fill="#bfbbda"/>
<rect x="616.5" y="129.22" width="28.4" height="47.41" fill="#988dbe"/>
<rect x="616.5" y="82.11" width="28.4" height="47.41" fill="#70589f"/>
<rect x="616.5" y="35" width="28.4" height="47.41" fill="#4d207d"/>
</g>
<path d="M616.5 35L630.7 9.1L644.9 35Z" fill="#2d004b"/>
<path d="M616.5 553.2L630.7 578.9L644.9 553.2Z" fill="#7f3b08"/>
<path d="M616.5 35L630.7 9.1L644.9 35L644.9 553.2L630.7 578.9L616.5 553.2Z" fill="none" stroke="#000" stroke-width="1.1" stroke-linejoin="miter"/>
<path d="M644.9 553.5h5.46M644.9 506.5h3.38M644.9 459.5h5.46M644.9 412.5h3.38M644.9 364.5h5.46M644.9 317.5h3.38M644.9 270.5h5.46M644.9 223.5h3.38M644.9 176.5h5.46M644.9 129.5h3.38M644.9 82.5h5.46M644.9 35.5h3.38" stroke="#000" stroke-width="1.1" fill="none"/>
</svg>
<svg width="719" height="589" viewBox="0 0 719 589" style="position:absolute;left:0;top:0;will-change:transform"><g font-family="'Liberation Sans', sans-serif" fill="#000">
<text x="177.73" y="89.9" font-size="16.2" text-anchor="middle" textLength="101.28" lengthAdjust="spacingAndGlyphs">season = DJF</text>
<text x="451.73" y="89.9" font-size="16.2" text-anchor="middle" textLength="95.69" lengthAdjust="spacingAndGlyphs">season = JJA</text>
<text x="177.73" y="349.9" font-size="16.2" text-anchor="middle" textLength="113.04" lengthAdjust="spacingAndGlyphs">season = MAM</text>
<text x="451.73" y="349.9" font-size="16.2" text-anchor="middle" textLength="109.38" lengthAdjust="spacingAndGlyphs">season = SON</text>
<text x="47.4" y="120" font-size="14.15" text-anchor="middle" textLength="35.01" lengthAdjust="spacingAndGlyphs">60°N</text>
<text x="27.05" y="144.11" font-size="14.15" text-anchor="middle" textLength="35.01" lengthAdjust="spacingAndGlyphs">30°N</text>
<text x="32.25" y="168.85" font-size="14.15" text-anchor="middle" textLength="15.78" lengthAdjust="spacingAndGlyphs">0°</text>
<text x="28.45" y="193.59" font-size="14.15" text-anchor="middle" textLength="33.43" lengthAdjust="spacingAndGlyphs">30°S</text>
<text x="47.9" y="217.7" font-size="14.15" text-anchor="middle" textLength="33.43" lengthAdjust="spacingAndGlyphs">60°S</text>
<text x="47.4" y="380" font-size="14.15" text-anchor="middle" textLength="35.01" lengthAdjust="spacingAndGlyphs">60°N</text>
<text x="27.05" y="404.11" font-size="14.15" text-anchor="middle" textLength="35.01" lengthAdjust="spacingAndGlyphs">30°N</text>
<text x="32.25" y="428.85" font-size="14.15" text-anchor="middle" textLength="15.78" lengthAdjust="spacingAndGlyphs">0°</text>
<text x="28.45" y="453.59" font-size="14.15" text-anchor="middle" textLength="33.43" lengthAdjust="spacingAndGlyphs">30°S</text>
<text x="47.9" y="477.7" font-size="14.15" text-anchor="middle" textLength="33.43" lengthAdjust="spacingAndGlyphs">60°S</text>
<text x="106.4" y="509.4" font-size="14.15" text-anchor="middle" textLength="33.45" lengthAdjust="spacingAndGlyphs">180°</text>
<text x="154" y="509.4" font-size="14.15" text-anchor="middle" textLength="38.35" lengthAdjust="spacingAndGlyphs">60°W</text>
<text x="201.1" y="509.4" font-size="14.15" text-anchor="middle" textLength="33.39" lengthAdjust="spacingAndGlyphs">60°E</text>
<text x="249.4" y="509.4" font-size="14.15" text-anchor="middle" textLength="33.45" lengthAdjust="spacingAndGlyphs">180°</text>
<text x="380.4" y="509.4" font-size="14.15" text-anchor="middle" textLength="33.45" lengthAdjust="spacingAndGlyphs">180°</text>
<text x="428" y="509.4" font-size="14.15" text-anchor="middle" textLength="38.35" lengthAdjust="spacingAndGlyphs">60°W</text>
<text x="475.1" y="509.4" font-size="14.15" text-anchor="middle" textLength="33.39" lengthAdjust="spacingAndGlyphs">60°E</text>
<text x="523.4" y="509.4" font-size="14.15" text-anchor="middle" textLength="33.45" lengthAdjust="spacingAndGlyphs">180°</text>
<text x="659" y="89.01" font-size="14.15" text-anchor="start" textLength="17.67" lengthAdjust="spacingAndGlyphs">20</text>
<text x="659" y="183.23" font-size="14.15" text-anchor="start" textLength="17.67" lengthAdjust="spacingAndGlyphs">10</text>
<text x="659" y="277.45" font-size="14.15" text-anchor="start" textLength="8.84" lengthAdjust="spacingAndGlyphs">0</text>
<text x="659" y="371.66" font-size="14.15" text-anchor="start" textLength="29.31" lengthAdjust="spacingAndGlyphs">−10</text>
<text x="659" y="465.88" font-size="14.15" text-anchor="start" textLength="29.31" lengthAdjust="spacingAndGlyphs">−20</text>
<text x="659" y="560.1" font-size="14.15" text-anchor="start" textLength="29.31" lengthAdjust="spacingAndGlyphs">−30</text>
<text x="703.6" y="295.4" font-size="16.2" text-anchor="middle" textLength="238.02" lengthAdjust="spacingAndGlyphs" transform="rotate(-90 703.6 295.4)">U component of wind [m s**-1]</text>
</g></svg>
</body></html>
